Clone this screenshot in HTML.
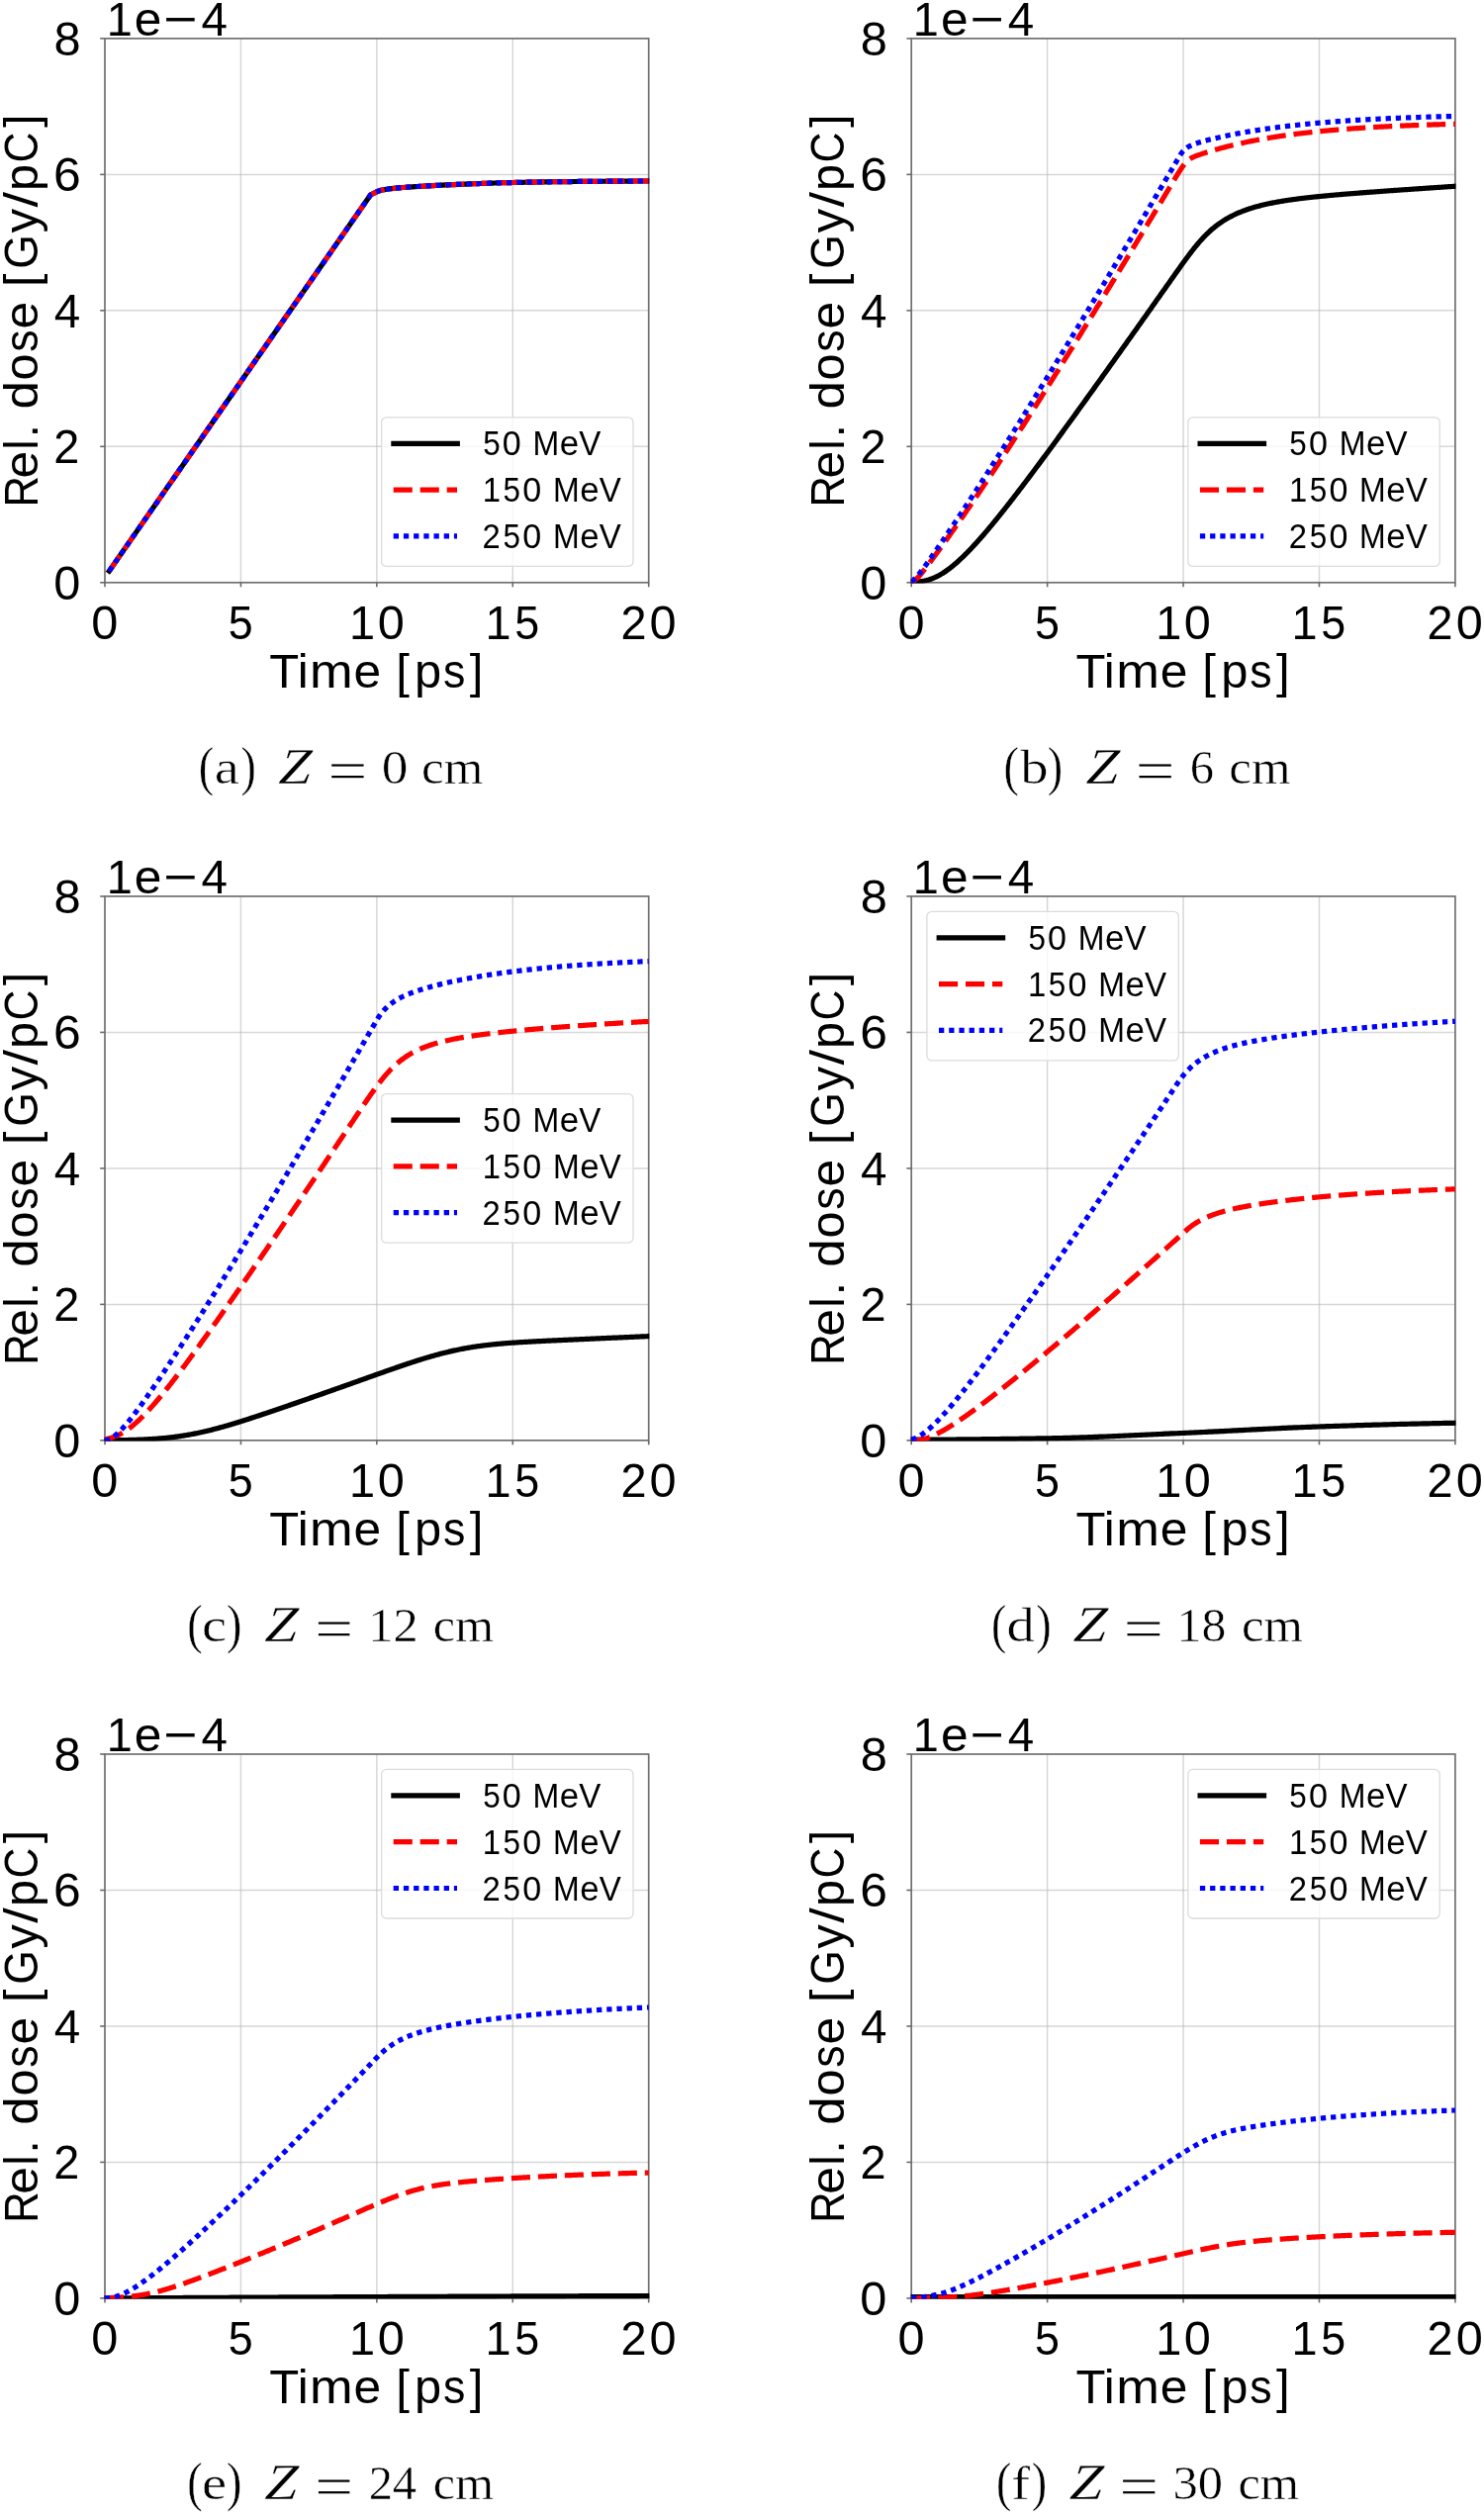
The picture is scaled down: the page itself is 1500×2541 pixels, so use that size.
<!DOCTYPE html>
<html><head><meta charset="utf-8"><style>html,body{margin:0;padding:0;background:#fff;}svg{display:block;will-change:transform;}</style></head><body>
<svg width="1500" height="2541" viewBox="0 0 1500 2541" font-family="Liberation Sans">
<rect width="1500" height="2541" fill="#ffffff"/>
<defs>
<clipPath id="clipa"><rect x="105.4" y="38.3" width="550.9" height="551.1"/></clipPath>
<clipPath id="clipb"><rect x="920.6" y="38.3" width="550.9" height="551.1"/></clipPath>
<clipPath id="clipc"><rect x="105.4" y="905.35" width="550.9" height="551.1"/></clipPath>
<clipPath id="clipd"><rect x="920.6" y="905.35" width="550.9" height="551.1"/></clipPath>
<clipPath id="clipe"><rect x="105.4" y="1772.4" width="550.9" height="551.1"/></clipPath>
<clipPath id="clipf"><rect x="920.6" y="1772.4" width="550.9" height="551.1"/></clipPath>
</defs>
<line x1="243.43" y1="38.9" x2="243.43" y2="588.8" stroke="#b0b0b0" stroke-opacity="0.5" stroke-width="1.5"/>
<line x1="380.85" y1="38.9" x2="380.85" y2="588.8" stroke="#b0b0b0" stroke-opacity="0.5" stroke-width="1.5"/>
<line x1="518.27" y1="38.9" x2="518.27" y2="588.8" stroke="#b0b0b0" stroke-opacity="0.5" stroke-width="1.5"/>
<line x1="106" y1="451.32" x2="655.7" y2="451.32" stroke="#b0b0b0" stroke-opacity="0.5" stroke-width="1.5"/>
<line x1="106" y1="313.85" x2="655.7" y2="313.85" stroke="#b0b0b0" stroke-opacity="0.5" stroke-width="1.5"/>
<line x1="106" y1="176.38" x2="655.7" y2="176.38" stroke="#b0b0b0" stroke-opacity="0.5" stroke-width="1.5"/>
<rect x="106" y="38.9" width="549.7" height="549.9" fill="none" stroke="#707070" stroke-width="1.7"/>
<line x1="106" y1="588.8" x2="106" y2="593.3" stroke="#6a6a6a" stroke-width="1.6"/>
<line x1="243.43" y1="588.8" x2="243.43" y2="593.3" stroke="#6a6a6a" stroke-width="1.6"/>
<line x1="380.85" y1="588.8" x2="380.85" y2="593.3" stroke="#6a6a6a" stroke-width="1.6"/>
<line x1="518.27" y1="588.8" x2="518.27" y2="593.3" stroke="#6a6a6a" stroke-width="1.6"/>
<line x1="655.7" y1="588.8" x2="655.7" y2="593.3" stroke="#6a6a6a" stroke-width="1.6"/>
<line x1="101.2" y1="588.8" x2="106" y2="588.8" stroke="#6a6a6a" stroke-width="1.6"/>
<line x1="101.2" y1="451.32" x2="106" y2="451.32" stroke="#6a6a6a" stroke-width="1.6"/>
<line x1="101.2" y1="313.85" x2="106" y2="313.85" stroke="#6a6a6a" stroke-width="1.6"/>
<line x1="101.2" y1="176.38" x2="106" y2="176.38" stroke="#6a6a6a" stroke-width="1.6"/>
<line x1="101.2" y1="38.9" x2="106" y2="38.9" stroke="#6a6a6a" stroke-width="1.6"/>
<path d="M110.40,577.11 L117.17,567.37 L123.94,557.62 L130.72,547.87 L137.49,538.13 L144.26,528.38 L151.03,518.63 L157.81,508.89 L164.58,499.14 L171.35,489.39 L178.12,479.65 L184.90,469.90 L191.67,460.16 L198.44,450.41 L205.21,440.66 L211.99,430.92 L218.76,421.17 L225.53,411.42 L232.30,401.68 L239.08,391.93 L245.85,382.18 L252.62,372.44 L259.39,362.69 L266.17,352.94 L272.94,343.20 L279.71,333.45 L286.48,323.70 L293.26,313.96 L300.03,304.21 L306.80,294.46 L313.58,284.72 L320.35,274.97 L327.12,265.22 L333.89,255.48 L340.67,245.73 L347.44,235.98 L354.21,226.24 L360.98,216.49 L367.76,206.74 L374.53,197.00 L376.89,195.78 L379.25,194.57 L381.62,193.47 L383.98,192.58 L386.34,191.98 L388.71,191.59 L391.07,191.23 L393.43,190.90 L395.79,190.60 L398.16,190.34 L400.52,190.09 L402.88,189.87 L405.24,189.66 L407.61,189.47 L409.97,189.30 L412.33,189.14 L414.70,188.98 L417.06,188.83 L419.42,188.68 L421.78,188.53 L424.15,188.38 L426.51,188.23 L428.87,188.08 L431.24,187.93 L433.60,187.80 L435.96,187.66 L438.32,187.53 L440.69,187.41 L443.05,187.29 L445.41,187.17 L447.77,187.06 L450.14,186.95 L452.50,186.84 L454.86,186.73 L457.23,186.63 L459.59,186.53 L461.95,186.43 L464.31,186.33 L466.68,186.23 L469.04,186.14 L471.40,186.04 L473.77,185.95 L476.13,185.85 L478.49,185.76 L480.85,185.67 L483.22,185.58 L485.58,185.49 L487.94,185.40 L490.30,185.32 L492.67,185.23 L495.03,185.15 L497.39,185.07 L499.76,184.99 L502.12,184.92 L504.48,184.84 L506.84,184.77 L509.21,184.71 L511.57,184.65 L513.93,184.59 L516.30,184.53 L518.66,184.48 L521.02,184.43 L523.38,184.38 L525.75,184.33 L528.11,184.28 L530.47,184.24 L532.84,184.19 L535.20,184.15 L537.56,184.11 L539.92,184.06 L542.29,184.02 L544.65,183.98 L547.01,183.94 L549.37,183.91 L551.74,183.87 L554.10,183.83 L556.46,183.80 L558.83,183.76 L561.19,183.73 L563.55,183.70 L565.91,183.67 L568.28,183.64 L570.64,183.61 L573.00,183.58 L575.37,183.56 L577.73,183.53 L580.09,183.50 L582.45,183.48 L584.82,183.46 L587.18,183.43 L589.54,183.41 L591.90,183.39 L594.27,183.37 L596.63,183.35 L598.99,183.33 L601.36,183.31 L603.72,183.28 L606.08,183.26 L608.44,183.24 L610.81,183.23 L613.17,183.21 L615.53,183.19 L617.90,183.17 L620.26,183.15 L622.62,183.14 L624.98,183.12 L627.35,183.10 L629.71,183.09 L632.07,183.07 L634.43,183.06 L636.80,183.05 L639.16,183.04 L641.52,183.02 L643.89,183.01 L646.25,183.00 L648.61,182.99 L650.97,182.99 L653.34,182.98 L655.70,182.97" fill="none" stroke="#000000" stroke-width="5.2" stroke-linecap="square" stroke-linejoin="round" clip-path="url(#clipa)"/>
<path d="M110.40,577.11 L117.17,567.37 L123.94,557.62 L130.72,547.87 L137.49,538.13 L144.26,528.38 L151.03,518.63 L157.81,508.89 L164.58,499.14 L171.35,489.39 L178.12,479.65 L184.90,469.90 L191.67,460.16 L198.44,450.41 L205.21,440.66 L211.99,430.92 L218.76,421.17 L225.53,411.42 L232.30,401.68 L239.08,391.93 L245.85,382.18 L252.62,372.44 L259.39,362.69 L266.17,352.94 L272.94,343.20 L279.71,333.45 L286.48,323.70 L293.26,313.96 L300.03,304.21 L306.80,294.46 L313.58,284.72 L320.35,274.97 L327.12,265.22 L333.89,255.48 L340.67,245.73 L347.44,235.98 L354.21,226.24 L360.98,216.49 L367.76,206.74 L374.53,197.00 L376.89,195.78 L379.25,194.57 L381.62,193.47 L383.98,192.58 L386.34,191.98 L388.71,191.59 L391.07,191.23 L393.43,190.90 L395.79,190.60 L398.16,190.34 L400.52,190.09 L402.88,189.87 L405.24,189.66 L407.61,189.47 L409.97,189.30 L412.33,189.14 L414.70,188.98 L417.06,188.83 L419.42,188.68 L421.78,188.53 L424.15,188.38 L426.51,188.23 L428.87,188.08 L431.24,187.93 L433.60,187.80 L435.96,187.66 L438.32,187.53 L440.69,187.41 L443.05,187.29 L445.41,187.17 L447.77,187.06 L450.14,186.95 L452.50,186.84 L454.86,186.73 L457.23,186.63 L459.59,186.53 L461.95,186.43 L464.31,186.33 L466.68,186.23 L469.04,186.14 L471.40,186.04 L473.77,185.95 L476.13,185.85 L478.49,185.76 L480.85,185.67 L483.22,185.58 L485.58,185.49 L487.94,185.40 L490.30,185.32 L492.67,185.23 L495.03,185.15 L497.39,185.07 L499.76,184.99 L502.12,184.92 L504.48,184.84 L506.84,184.77 L509.21,184.71 L511.57,184.65 L513.93,184.59 L516.30,184.53 L518.66,184.48 L521.02,184.43 L523.38,184.38 L525.75,184.33 L528.11,184.28 L530.47,184.24 L532.84,184.19 L535.20,184.15 L537.56,184.11 L539.92,184.06 L542.29,184.02 L544.65,183.98 L547.01,183.94 L549.37,183.91 L551.74,183.87 L554.10,183.83 L556.46,183.80 L558.83,183.76 L561.19,183.73 L563.55,183.70 L565.91,183.67 L568.28,183.64 L570.64,183.61 L573.00,183.58 L575.37,183.56 L577.73,183.53 L580.09,183.50 L582.45,183.48 L584.82,183.46 L587.18,183.43 L589.54,183.41 L591.90,183.39 L594.27,183.37 L596.63,183.35 L598.99,183.33 L601.36,183.31 L603.72,183.28 L606.08,183.26 L608.44,183.24 L610.81,183.23 L613.17,183.21 L615.53,183.19 L617.90,183.17 L620.26,183.15 L622.62,183.14 L624.98,183.12 L627.35,183.10 L629.71,183.09 L632.07,183.07 L634.43,183.06 L636.80,183.05 L639.16,183.04 L641.52,183.02 L643.89,183.01 L646.25,183.00 L648.61,182.99 L650.97,182.99 L653.34,182.98 L655.70,182.97" fill="none" stroke="#ff0000" stroke-width="5.2" stroke-dasharray="19.1,7.9" stroke-linecap="butt" stroke-linejoin="round" clip-path="url(#clipa)"/>
<path d="M110.40,577.11 L117.17,567.37 L123.94,557.62 L130.72,547.87 L137.49,538.13 L144.26,528.38 L151.03,518.63 L157.81,508.89 L164.58,499.14 L171.35,489.39 L178.12,479.65 L184.90,469.90 L191.67,460.16 L198.44,450.41 L205.21,440.66 L211.99,430.92 L218.76,421.17 L225.53,411.42 L232.30,401.68 L239.08,391.93 L245.85,382.18 L252.62,372.44 L259.39,362.69 L266.17,352.94 L272.94,343.20 L279.71,333.45 L286.48,323.70 L293.26,313.96 L300.03,304.21 L306.80,294.46 L313.58,284.72 L320.35,274.97 L327.12,265.22 L333.89,255.48 L340.67,245.73 L347.44,235.98 L354.21,226.24 L360.98,216.49 L367.76,206.74 L374.53,197.00 L376.89,195.78 L379.25,194.57 L381.62,193.47 L383.98,192.58 L386.34,191.98 L388.71,191.59 L391.07,191.23 L393.43,190.90 L395.79,190.60 L398.16,190.34 L400.52,190.09 L402.88,189.87 L405.24,189.66 L407.61,189.47 L409.97,189.30 L412.33,189.14 L414.70,188.98 L417.06,188.83 L419.42,188.68 L421.78,188.53 L424.15,188.38 L426.51,188.23 L428.87,188.08 L431.24,187.93 L433.60,187.80 L435.96,187.66 L438.32,187.53 L440.69,187.41 L443.05,187.29 L445.41,187.17 L447.77,187.06 L450.14,186.95 L452.50,186.84 L454.86,186.73 L457.23,186.63 L459.59,186.53 L461.95,186.43 L464.31,186.33 L466.68,186.23 L469.04,186.14 L471.40,186.04 L473.77,185.95 L476.13,185.85 L478.49,185.76 L480.85,185.67 L483.22,185.58 L485.58,185.49 L487.94,185.40 L490.30,185.32 L492.67,185.23 L495.03,185.15 L497.39,185.07 L499.76,184.99 L502.12,184.92 L504.48,184.84 L506.84,184.77 L509.21,184.71 L511.57,184.65 L513.93,184.59 L516.30,184.53 L518.66,184.48 L521.02,184.43 L523.38,184.38 L525.75,184.33 L528.11,184.28 L530.47,184.24 L532.84,184.19 L535.20,184.15 L537.56,184.11 L539.92,184.06 L542.29,184.02 L544.65,183.98 L547.01,183.94 L549.37,183.91 L551.74,183.87 L554.10,183.83 L556.46,183.80 L558.83,183.76 L561.19,183.73 L563.55,183.70 L565.91,183.67 L568.28,183.64 L570.64,183.61 L573.00,183.58 L575.37,183.56 L577.73,183.53 L580.09,183.50 L582.45,183.48 L584.82,183.46 L587.18,183.43 L589.54,183.41 L591.90,183.39 L594.27,183.37 L596.63,183.35 L598.99,183.33 L601.36,183.31 L603.72,183.28 L606.08,183.26 L608.44,183.24 L610.81,183.23 L613.17,183.21 L615.53,183.19 L617.90,183.17 L620.26,183.15 L622.62,183.14 L624.98,183.12 L627.35,183.10 L629.71,183.09 L632.07,183.07 L634.43,183.06 L636.80,183.05 L639.16,183.04 L641.52,183.02 L643.89,183.01 L646.25,183.00 L648.61,182.99 L650.97,182.99 L653.34,182.98 L655.70,182.97" fill="none" stroke="#0000ff" stroke-width="5.2" stroke-dasharray="5.3,4.9" stroke-linecap="butt" stroke-linejoin="round" clip-path="url(#clipa)"/>
<text transform="translate(92.22,645.9) scale(0.9978,1)" font-size="48.8">0</text>
<text transform="translate(230.72,645.9) scale(0.9196,1)" font-size="48.8">5</text>
<text transform="translate(352.98,645.9) scale(0.9610,1)" font-size="48.8">1</text>
<text transform="translate(381.64,645.9) scale(0.9978,1)" font-size="48.8">0</text>
<text transform="translate(490.41,645.9) scale(0.9610,1)" font-size="48.8">1</text>
<text transform="translate(520.14,645.9) scale(0.9196,1)" font-size="48.8">5</text>
<text transform="translate(627.41,645.9) scale(0.9596,1)" font-size="48.8">2</text>
<text transform="translate(656.49,645.9) scale(0.9978,1)" font-size="48.8">0</text>
<text transform="translate(54.14,605.8) scale(0.9978,1)" font-size="48.8">0</text>
<text transform="translate(54.21,468.32) scale(0.9596,1)" font-size="48.8">2</text>
<text transform="translate(54.68,330.85) scale(0.9760,1)" font-size="48.8">4</text>
<text transform="translate(54.06,193.38) scale(1.0208,1)" font-size="48.8">6</text>
<text transform="translate(54.6,55.9) scale(0.9991,1)" font-size="48.8">8</text>
<text transform="translate(107.65,35.7) scale(0.9610,1)" font-size="48.8">1</text>
<text transform="translate(135.81,35.7) scale(1.0191,1)" font-size="48.8">e</text>
<text transform="translate(165.35,35.7) scale(1.2075,1)" font-size="48.8">−</text>
<text transform="translate(203.45,35.7) scale(0.9760,1)" font-size="48.8">4</text>
<text transform="translate(272.32,695.3) scale(1.0050,1)" font-size="48.8">T</text>
<text transform="translate(300.64,695.3) scale(1.0084,1)" font-size="48.8">i</text>
<text transform="translate(313.07,695.3) scale(1.0733,1)" font-size="48.8">m</text>
<text transform="translate(357.56,695.3) scale(1.0191,1)" font-size="48.8">e</text>
<text transform="translate(400.13,695.3) scale(1.0084,1)" font-size="48.8">[</text>
<text transform="translate(419.1,695.3) scale(1.0004,1)" font-size="48.8">p</text>
<text transform="translate(447.94,695.3) scale(0.9173,1)" font-size="48.8">s</text>
<text transform="translate(474.85,695.3) scale(1.0084,1)" font-size="48.8">]</text>
<text transform="translate(37.5,509.1) rotate(-90) translate(-3.48,0) scale(0.8914,1)" font-size="48.8">R</text>
<text transform="translate(37.5,509.1) rotate(-90) translate(25.5,0) scale(1.0191,1)" font-size="48.8">e</text>
<text transform="translate(37.5,509.1) rotate(-90) translate(54.35,0) scale(0.9720,1)" font-size="48.8">l</text>
<text transform="translate(37.5,509.1) rotate(-90) translate(66.82,0) scale(0.9720,1)" font-size="48.8">.</text>
<text transform="translate(37.5,509.1) rotate(-90) translate(95.52,0) scale(1.0435,1)" font-size="48.8">d</text>
<text transform="translate(37.5,509.1) rotate(-90) translate(124.7,0) scale(0.9978,1)" font-size="48.8">o</text>
<text transform="translate(37.5,509.1) rotate(-90) translate(153.34,0) scale(0.9173,1)" font-size="48.8">s</text>
<text transform="translate(37.5,509.1) rotate(-90) translate(176.58,0) scale(1.0191,1)" font-size="48.8">e</text>
<text transform="translate(37.5,509.1) rotate(-90) translate(219.45,0) scale(0.9720,1)" font-size="48.8">[</text>
<text transform="translate(37.5,509.1) rotate(-90) translate(237.45,0) scale(0.9102,1)" font-size="48.8">G</text>
<text transform="translate(37.5,509.1) rotate(-90) translate(273.81,0) scale(0.9955,1)" font-size="48.8">y</text>
<text transform="translate(37.5,509.1) rotate(-90) translate(299.55,0) scale(1.1404,1)" font-size="48.8">/</text>
<text transform="translate(37.5,509.1) rotate(-90) translate(316.19,0) scale(1.0004,1)" font-size="48.8">p</text>
<text transform="translate(37.5,509.1) rotate(-90) translate(344.69,0) scale(0.8795,1)" font-size="48.8">C</text>
<text transform="translate(37.5,509.1) rotate(-90) translate(380.26,0) scale(0.9720,1)" font-size="48.8">]</text>
<rect x="385.6" y="421.8" width="254.4" height="150.6" rx="5" ry="5" fill="#ffffff" fill-opacity="0.8" stroke="#dcdcdc" stroke-width="1.3"/>
<line x1="397.9" y1="448.3" x2="462.3" y2="448.3" stroke="#000" stroke-width="5.2" stroke-linecap="square"/>
<text transform="translate(488.14,460.3) scale(0.9185,1)" font-size="34.2">5</text>
<text transform="translate(507.8,460.3) scale(0.9966,1)" font-size="34.2">0</text>
<text transform="translate(538.49,460.3) scale(0.9380,1)" font-size="34.2">M</text>
<text transform="translate(565.74,460.3) scale(1.0178,1)" font-size="34.2">e</text>
<text transform="translate(585.25,460.3) scale(0.9669,1)" font-size="34.2">V</text>
<line x1="397.7" y1="495.1" x2="462" y2="495.1" stroke="#ff0000" stroke-width="5.2" stroke-dasharray="19.1,7.9"/>
<text transform="translate(487.74,507.1) scale(0.9598,1)" font-size="34.2">1</text>
<text transform="translate(508.55,507.1) scale(0.9185,1)" font-size="34.2">5</text>
<text transform="translate(528.21,507.1) scale(0.9966,1)" font-size="34.2">0</text>
<text transform="translate(558.9,507.1) scale(0.9380,1)" font-size="34.2">M</text>
<text transform="translate(586.15,507.1) scale(1.0178,1)" font-size="34.2">e</text>
<text transform="translate(605.67,507.1) scale(0.9669,1)" font-size="34.2">V</text>
<line x1="397.7" y1="541.9" x2="462" y2="541.9" stroke="#0000ff" stroke-width="5.2" stroke-dasharray="5.3,4.9"/>
<text transform="translate(487.44,553.9) scale(0.9584,1)" font-size="34.2">2</text>
<text transform="translate(508.55,553.9) scale(0.9185,1)" font-size="34.2">5</text>
<text transform="translate(528.21,553.9) scale(0.9966,1)" font-size="34.2">0</text>
<text transform="translate(558.9,553.9) scale(0.9380,1)" font-size="34.2">M</text>
<text transform="translate(586.15,553.9) scale(1.0178,1)" font-size="34.2">e</text>
<text transform="translate(605.67,553.9) scale(0.9669,1)" font-size="34.2">V</text>
<text transform="translate(200.65,793) scale(0.9381,1.097)" font-family="Liberation Serif" font-size="49.2" stroke="#fff" stroke-width="0.4">(</text>
<text transform="translate(243.42,793) scale(0.9381,1.097)" font-family="Liberation Serif" font-size="49.2" stroke="#fff" stroke-width="0.4">)</text>
<text transform="translate(216.64,792) scale(1.15,1)" font-family="Liberation Serif" font-size="49.2" stroke="#fff" stroke-width="0.5">a</text>
<text transform="translate(281.02,792) skewX(-5.0) scale(1.1789,1.05)" font-family="Liberation Serif" font-style="italic" font-size="49.2" stroke="#fff" stroke-width="0.3">Z</text>
<rect x="335.2" y="772.4" width="32.4" height="2.2" fill="#000"/>
<rect x="335.2" y="784" width="32.4" height="2.2" fill="#000"/>
<text transform="translate(385.87,792) scale(1.0840,1)" font-family="Liberation Serif" font-size="49.2" stroke="#fff" stroke-width="0.5">0</text>
<text transform="translate(426.06,792) scale(1.0354,1)" font-family="Liberation Serif" font-size="49.2" stroke="#fff" stroke-width="0.5">cm</text>
<line x1="1058.62" y1="38.9" x2="1058.62" y2="588.8" stroke="#b0b0b0" stroke-opacity="0.5" stroke-width="1.5"/>
<line x1="1196.05" y1="38.9" x2="1196.05" y2="588.8" stroke="#b0b0b0" stroke-opacity="0.5" stroke-width="1.5"/>
<line x1="1333.47" y1="38.9" x2="1333.47" y2="588.8" stroke="#b0b0b0" stroke-opacity="0.5" stroke-width="1.5"/>
<line x1="921.2" y1="451.32" x2="1470.9" y2="451.32" stroke="#b0b0b0" stroke-opacity="0.5" stroke-width="1.5"/>
<line x1="921.2" y1="313.85" x2="1470.9" y2="313.85" stroke="#b0b0b0" stroke-opacity="0.5" stroke-width="1.5"/>
<line x1="921.2" y1="176.38" x2="1470.9" y2="176.38" stroke="#b0b0b0" stroke-opacity="0.5" stroke-width="1.5"/>
<rect x="921.2" y="38.9" width="549.7" height="549.9" fill="none" stroke="#707070" stroke-width="1.7"/>
<line x1="921.2" y1="588.8" x2="921.2" y2="593.3" stroke="#6a6a6a" stroke-width="1.6"/>
<line x1="1058.62" y1="588.8" x2="1058.62" y2="593.3" stroke="#6a6a6a" stroke-width="1.6"/>
<line x1="1196.05" y1="588.8" x2="1196.05" y2="593.3" stroke="#6a6a6a" stroke-width="1.6"/>
<line x1="1333.47" y1="588.8" x2="1333.47" y2="593.3" stroke="#6a6a6a" stroke-width="1.6"/>
<line x1="1470.9" y1="588.8" x2="1470.9" y2="593.3" stroke="#6a6a6a" stroke-width="1.6"/>
<line x1="916.4" y1="588.8" x2="921.2" y2="588.8" stroke="#6a6a6a" stroke-width="1.6"/>
<line x1="916.4" y1="451.32" x2="921.2" y2="451.32" stroke="#6a6a6a" stroke-width="1.6"/>
<line x1="916.4" y1="313.85" x2="921.2" y2="313.85" stroke="#6a6a6a" stroke-width="1.6"/>
<line x1="916.4" y1="176.38" x2="921.2" y2="176.38" stroke="#6a6a6a" stroke-width="1.6"/>
<line x1="916.4" y1="38.9" x2="921.2" y2="38.9" stroke="#6a6a6a" stroke-width="1.6"/>
<path d="M921.20,588.57 L922.30,588.52 L923.40,588.46 L924.50,588.39 L925.61,588.31 L926.71,588.22 L927.81,588.11 L928.91,587.98 L930.01,587.84 L931.11,587.68 L932.22,587.50 L933.32,587.29 L934.42,587.07 L935.52,586.82 L936.62,586.55 L937.72,586.25 L938.83,585.93 L939.93,585.58 L941.03,585.20 L942.13,584.80 L943.23,584.36 L944.33,583.90 L945.44,583.41 L946.54,582.89 L947.64,582.34 L948.74,581.77 L949.84,581.16 L950.94,580.53 L952.04,579.88 L953.15,579.19 L954.25,578.48 L955.35,577.75 L956.45,576.99 L957.55,576.21 L958.65,575.40 L959.76,574.57 L960.86,573.72 L961.96,572.85 L963.06,571.95 L964.16,571.04 L965.26,570.11 L966.37,569.16 L967.47,568.19 L968.57,567.20 L969.67,566.20 L970.77,565.18 L971.87,564.14 L972.98,563.09 L974.08,562.02 L975.18,560.94 L976.28,559.84 L977.38,558.73 L978.48,557.61 L979.58,556.48 L980.69,555.33 L981.79,554.17 L982.89,553.00 L983.99,551.81 L985.09,550.62 L986.19,549.41 L987.30,548.20 L988.40,546.98 L989.50,545.74 L990.60,544.50 L991.70,543.25 L992.80,541.99 L993.91,540.72 L995.01,539.44 L996.11,538.15 L997.21,536.86 L998.31,535.56 L999.41,534.25 L1000.52,532.94 L1001.62,531.62 L1002.72,530.29 L1003.82,528.95 L1004.92,527.61 L1006.02,526.27 L1007.13,524.91 L1008.23,523.56 L1009.33,522.19 L1010.43,520.82 L1011.53,519.45 L1012.63,518.07 L1013.73,516.69 L1014.84,515.30 L1015.94,513.91 L1017.04,512.51 L1018.14,511.11 L1019.24,509.70 L1020.34,508.30 L1021.45,506.88 L1022.55,505.47 L1023.65,504.04 L1024.75,502.62 L1025.85,501.19 L1026.95,499.76 L1028.06,498.33 L1029.16,496.89 L1030.26,495.45 L1031.36,494.01 L1032.46,492.56 L1033.56,491.11 L1034.67,489.66 L1035.77,488.21 L1036.87,486.75 L1037.97,485.29 L1039.07,483.83 L1040.17,482.37 L1041.27,480.90 L1042.38,479.43 L1043.48,477.96 L1044.58,476.49 L1045.68,475.01 L1046.78,473.54 L1047.88,472.06 L1048.99,470.58 L1050.09,469.09 L1051.19,467.61 L1052.29,466.12 L1053.39,464.64 L1054.49,463.15 L1055.60,461.66 L1056.70,460.17 L1057.80,458.67 L1058.90,457.18 L1060.00,455.68 L1061.10,454.18 L1062.21,452.68 L1063.31,451.18 L1064.41,449.68 L1065.51,448.18 L1066.61,446.67 L1067.71,445.17 L1068.81,443.66 L1069.92,442.15 L1071.02,440.64 L1072.12,439.13 L1073.22,437.62 L1074.32,436.11 L1075.42,434.59 L1076.53,433.08 L1077.63,431.56 L1078.73,430.05 L1079.83,428.53 L1080.93,427.01 L1082.03,425.49 L1083.14,423.97 L1084.24,422.45 L1085.34,420.93 L1086.44,419.41 L1087.54,417.88 L1088.64,416.36 L1089.75,414.84 L1090.85,413.31 L1091.95,411.78 L1093.05,410.26 L1094.15,408.73 L1095.25,407.20 L1096.35,405.67 L1097.46,404.14 L1098.56,402.61 L1099.66,401.08 L1100.76,399.55 L1101.86,398.02 L1102.96,396.48 L1104.07,394.95 L1105.17,393.41 L1106.27,391.88 L1107.37,390.34 L1108.47,388.81 L1109.57,387.27 L1110.68,385.73 L1111.78,384.20 L1112.88,382.66 L1113.98,381.12 L1115.08,379.58 L1116.18,378.04 L1117.29,376.50 L1118.39,374.96 L1119.49,373.42 L1120.59,371.88 L1121.69,370.33 L1122.79,368.79 L1123.89,367.25 L1125.00,365.70 L1126.10,364.16 L1127.20,362.61 L1128.30,361.07 L1129.40,359.52 L1130.50,357.98 L1131.61,356.43 L1132.71,354.88 L1133.81,353.34 L1134.91,351.79 L1136.01,350.24 L1137.11,348.69 L1138.22,347.14 L1139.32,345.59 L1140.42,344.04 L1141.52,342.49 L1142.62,340.94 L1143.72,339.39 L1144.83,337.84 L1145.93,336.29 L1147.03,334.74 L1148.13,333.18 L1149.23,331.63 L1150.33,330.08 L1151.44,328.52 L1152.54,326.97 L1153.64,325.41 L1154.74,323.86 L1155.84,322.30 L1156.94,320.75 L1158.04,319.19 L1159.15,317.64 L1160.25,316.08 L1161.35,314.52 L1162.45,312.96 L1163.55,311.41 L1164.65,309.85 L1165.76,308.29 L1166.86,306.73 L1167.96,305.17 L1169.06,303.61 L1170.16,302.05 L1171.26,300.49 L1172.37,298.93 L1173.47,297.37 L1174.57,295.81 L1175.67,294.25 L1176.77,292.69 L1177.87,291.13 L1178.98,289.56 L1180.08,288.00 L1181.18,286.44 L1182.28,284.88 L1183.38,283.32 L1184.48,281.76 L1185.58,280.20 L1186.69,278.64 L1187.79,277.09 L1188.89,275.53 L1189.99,273.98 L1191.09,272.43 L1192.19,270.89 L1193.30,269.35 L1194.40,267.81 L1195.50,266.28 L1196.60,264.76 L1197.70,263.25 L1198.80,261.74 L1199.91,260.25 L1201.01,258.77 L1202.11,257.30 L1203.21,255.85 L1204.31,254.41 L1205.41,253.00 L1206.52,251.60 L1207.62,250.21 L1208.72,248.86 L1209.82,247.52 L1210.92,246.21 L1212.02,244.92 L1213.12,243.66 L1214.23,242.42 L1215.33,241.21 L1216.43,240.03 L1217.53,238.88 L1218.63,237.75 L1219.73,236.65 L1220.84,235.58 L1221.94,234.54 L1223.04,233.53 L1224.14,232.54 L1225.24,231.58 L1226.34,230.65 L1227.45,229.74 L1228.55,228.86 L1229.65,228.01 L1230.75,227.17 L1231.85,226.37 L1232.95,225.58 L1234.06,224.82 L1235.16,224.08 L1236.26,223.37 L1237.36,222.67 L1238.46,221.99 L1239.56,221.33 L1240.66,220.70 L1241.77,220.08 L1242.87,219.47 L1243.97,218.89 L1245.07,218.32 L1246.17,217.76 L1247.27,217.23 L1248.38,216.70 L1249.48,216.19 L1250.58,215.70 L1251.68,215.22 L1252.78,214.75 L1253.88,214.30 L1254.99,213.85 L1256.09,213.42 L1257.19,213.00 L1258.29,212.60 L1259.39,212.20 L1260.49,211.81 L1261.60,211.44 L1262.70,211.07 L1263.80,210.71 L1264.90,210.36 L1266.00,210.02 L1267.10,209.69 L1268.21,209.37 L1269.31,209.05 L1270.41,208.75 L1271.51,208.45 L1272.61,208.15 L1273.71,207.87 L1274.81,207.59 L1275.92,207.32 L1277.02,207.05 L1278.12,206.79 L1279.22,206.54 L1280.32,206.29 L1281.42,206.05 L1282.53,205.81 L1283.63,205.58 L1284.73,205.35 L1285.83,205.13 L1286.93,204.92 L1288.03,204.70 L1289.14,204.50 L1290.24,204.29 L1291.34,204.09 L1292.44,203.90 L1293.54,203.70 L1294.64,203.52 L1295.75,203.33 L1296.85,203.15 L1297.95,202.97 L1299.05,202.80 L1300.15,202.63 L1301.25,202.46 L1302.35,202.30 L1303.46,202.13 L1304.56,201.98 L1305.66,201.82 L1306.76,201.67 L1307.86,201.51 L1308.96,201.37 L1310.07,201.22 L1311.17,201.07 L1312.27,200.93 L1313.37,200.79 L1314.47,200.65 L1315.57,200.52 L1316.68,200.39 L1317.78,200.25 L1318.88,200.12 L1319.98,200.00 L1321.08,199.87 L1322.18,199.74 L1323.29,199.62 L1324.39,199.50 L1325.49,199.38 L1326.59,199.26 L1327.69,199.14 L1328.79,199.03 L1329.89,198.91 L1331.00,198.80 L1332.10,198.69 L1333.20,198.58 L1334.30,198.47 L1335.40,198.36 L1336.50,198.25 L1337.61,198.14 L1338.71,198.04 L1339.81,197.93 L1340.91,197.83 L1342.01,197.73 L1343.11,197.62 L1344.22,197.52 L1345.32,197.42 L1346.42,197.32 L1347.52,197.23 L1348.62,197.13 L1349.72,197.03 L1350.83,196.94 L1351.93,196.84 L1353.03,196.75 L1354.13,196.65 L1355.23,196.56 L1356.33,196.46 L1357.43,196.37 L1358.54,196.28 L1359.64,196.19 L1360.74,196.10 L1361.84,196.01 L1362.94,195.92 L1364.04,195.83 L1365.15,195.74 L1366.25,195.65 L1367.35,195.57 L1368.45,195.48 L1369.55,195.39 L1370.65,195.31 L1371.76,195.22 L1372.86,195.13 L1373.96,195.05 L1375.06,194.96 L1376.16,194.88 L1377.26,194.79 L1378.37,194.71 L1379.47,194.63 L1380.57,194.54 L1381.67,194.46 L1382.77,194.38 L1383.87,194.30 L1384.97,194.21 L1386.08,194.13 L1387.18,194.05 L1388.28,193.97 L1389.38,193.89 L1390.48,193.81 L1391.58,193.73 L1392.69,193.65 L1393.79,193.57 L1394.89,193.49 L1395.99,193.41 L1397.09,193.33 L1398.19,193.25 L1399.30,193.17 L1400.40,193.09 L1401.50,193.01 L1402.60,192.93 L1403.70,192.85 L1404.80,192.77 L1405.91,192.70 L1407.01,192.62 L1408.11,192.54 L1409.21,192.46 L1410.31,192.39 L1411.41,192.31 L1412.52,192.23 L1413.62,192.15 L1414.72,192.08 L1415.82,192.00 L1416.92,191.92 L1418.02,191.85 L1419.12,191.77 L1420.23,191.69 L1421.33,191.62 L1422.43,191.54 L1423.53,191.47 L1424.63,191.39 L1425.73,191.31 L1426.84,191.24 L1427.94,191.16 L1429.04,191.09 L1430.14,191.01 L1431.24,190.94 L1432.34,190.86 L1433.45,190.79 L1434.55,190.71 L1435.65,190.63 L1436.75,190.56 L1437.85,190.49 L1438.95,190.41 L1440.06,190.34 L1441.16,190.26 L1442.26,190.19 L1443.36,190.11 L1444.46,190.04 L1445.56,189.96 L1446.66,189.89 L1447.77,189.81 L1448.87,189.74 L1449.97,189.67 L1451.07,189.59 L1452.17,189.52 L1453.27,189.44 L1454.38,189.37 L1455.48,189.30 L1456.58,189.22 L1457.68,189.15 L1458.78,189.08 L1459.88,189.00 L1460.99,188.93 L1462.09,188.86 L1463.19,188.78 L1464.29,188.71 L1465.39,188.64 L1466.49,188.56 L1467.60,188.49 L1468.70,188.42 L1469.80,188.34 L1470.90,188.27" fill="none" stroke="#000000" stroke-width="5.2" stroke-linecap="square" stroke-linejoin="round" clip-path="url(#clipb)"/>
<path d="M921.20,587.91 L922.30,587.50 L923.40,586.98 L924.50,586.32 L925.61,585.54 L926.71,584.62 L927.81,583.59 L928.91,582.45 L930.01,581.22 L931.11,579.91 L932.22,578.56 L933.32,577.17 L934.42,575.74 L935.52,574.30 L936.62,572.85 L937.72,571.38 L938.83,569.91 L939.93,568.43 L941.03,566.95 L942.13,565.46 L943.23,563.97 L944.33,562.48 L945.44,560.98 L946.54,559.47 L947.64,557.96 L948.74,556.45 L949.84,554.94 L950.94,553.42 L952.04,551.89 L953.15,550.37 L954.25,548.83 L955.35,547.30 L956.45,545.76 L957.55,544.22 L958.65,542.67 L959.76,541.12 L960.86,539.57 L961.96,538.02 L963.06,536.46 L964.16,534.89 L965.26,533.33 L966.37,531.76 L967.47,530.19 L968.57,528.61 L969.67,527.03 L970.77,525.45 L971.87,523.86 L972.98,522.27 L974.08,520.68 L975.18,519.09 L976.28,517.49 L977.38,515.89 L978.48,514.28 L979.58,512.68 L980.69,511.07 L981.79,509.46 L982.89,507.84 L983.99,506.22 L985.09,504.60 L986.19,502.98 L987.30,501.35 L988.40,499.72 L989.50,498.09 L990.60,496.46 L991.70,494.82 L992.80,493.18 L993.91,491.54 L995.01,489.90 L996.11,488.25 L997.21,486.60 L998.31,484.95 L999.41,483.30 L1000.52,481.64 L1001.62,479.98 L1002.72,478.32 L1003.82,476.66 L1004.92,474.99 L1006.02,473.33 L1007.13,471.66 L1008.23,469.98 L1009.33,468.31 L1010.43,466.63 L1011.53,464.95 L1012.63,463.27 L1013.73,461.59 L1014.84,459.91 L1015.94,458.22 L1017.04,456.53 L1018.14,454.84 L1019.24,453.15 L1020.34,451.46 L1021.45,449.76 L1022.55,448.06 L1023.65,446.36 L1024.75,444.66 L1025.85,442.96 L1026.95,441.25 L1028.06,439.54 L1029.16,437.83 L1030.26,436.12 L1031.36,434.41 L1032.46,432.70 L1033.56,430.98 L1034.67,429.26 L1035.77,427.54 L1036.87,425.82 L1037.97,424.10 L1039.07,422.38 L1040.17,420.65 L1041.27,418.92 L1042.38,417.20 L1043.48,415.47 L1044.58,413.73 L1045.68,412.00 L1046.78,410.27 L1047.88,408.53 L1048.99,406.79 L1050.09,405.05 L1051.19,403.31 L1052.29,401.57 L1053.39,399.83 L1054.49,398.08 L1055.60,396.34 L1056.70,394.59 L1057.80,392.84 L1058.90,391.09 L1060.00,389.34 L1061.10,387.59 L1062.21,385.83 L1063.31,384.08 L1064.41,382.32 L1065.51,380.56 L1066.61,378.81 L1067.71,377.05 L1068.81,375.28 L1069.92,373.52 L1071.02,371.76 L1072.12,369.99 L1073.22,368.23 L1074.32,366.46 L1075.42,364.69 L1076.53,362.93 L1077.63,361.15 L1078.73,359.38 L1079.83,357.61 L1080.93,355.84 L1082.03,354.06 L1083.14,352.29 L1084.24,350.51 L1085.34,348.73 L1086.44,346.96 L1087.54,345.18 L1088.64,343.40 L1089.75,341.62 L1090.85,339.83 L1091.95,338.05 L1093.05,336.27 L1094.15,334.48 L1095.25,332.70 L1096.35,330.91 L1097.46,329.12 L1098.56,327.33 L1099.66,325.54 L1100.76,323.75 L1101.86,321.96 L1102.96,320.17 L1104.07,318.38 L1105.17,316.58 L1106.27,314.79 L1107.37,312.99 L1108.47,311.20 L1109.57,309.40 L1110.68,307.60 L1111.78,305.80 L1112.88,304.00 L1113.98,302.20 L1115.08,300.40 L1116.18,298.60 L1117.29,296.80 L1118.39,295.00 L1119.49,293.19 L1120.59,291.39 L1121.69,289.59 L1122.79,287.78 L1123.89,285.97 L1125.00,284.17 L1126.10,282.36 L1127.20,280.55 L1128.30,278.74 L1129.40,276.93 L1130.50,275.12 L1131.61,273.31 L1132.71,271.50 L1133.81,269.69 L1134.91,267.87 L1136.01,266.06 L1137.11,264.25 L1138.22,262.43 L1139.32,260.62 L1140.42,258.80 L1141.52,256.99 L1142.62,255.17 L1143.72,253.35 L1144.83,251.53 L1145.93,249.71 L1147.03,247.90 L1148.13,246.08 L1149.23,244.26 L1150.33,242.44 L1151.44,240.61 L1152.54,238.79 L1153.64,236.97 L1154.74,235.15 L1155.84,233.32 L1156.94,231.50 L1158.04,229.68 L1159.15,227.85 L1160.25,226.03 L1161.35,224.20 L1162.45,222.38 L1163.55,220.55 L1164.65,218.72 L1165.76,216.90 L1166.86,215.07 L1167.96,213.24 L1169.06,211.41 L1170.16,209.58 L1171.26,207.75 L1172.37,205.92 L1173.47,204.09 L1174.57,202.26 L1175.67,200.43 L1176.77,198.60 L1177.87,196.77 L1178.98,194.93 L1180.08,193.10 L1181.18,191.27 L1182.28,189.44 L1183.38,187.60 L1184.48,185.77 L1185.58,183.94 L1186.69,182.11 L1187.79,180.28 L1188.89,178.46 L1189.99,176.65 L1191.09,174.86 L1192.19,173.10 L1193.30,171.38 L1194.40,169.72 L1195.50,168.14 L1196.60,166.65 L1197.70,165.27 L1198.80,164.02 L1199.91,162.90 L1201.01,161.92 L1202.11,161.05 L1203.21,160.30 L1204.31,159.65 L1205.41,159.08 L1206.52,158.57 L1207.62,158.10 L1208.72,157.67 L1209.82,157.26 L1210.92,156.87 L1212.02,156.49 L1213.12,156.11 L1214.23,155.75 L1215.33,155.38 L1216.43,155.02 L1217.53,154.67 L1218.63,154.32 L1219.73,153.97 L1220.84,153.63 L1221.94,153.29 L1223.04,152.96 L1224.14,152.63 L1225.24,152.30 L1226.34,151.97 L1227.45,151.65 L1228.55,151.34 L1229.65,151.02 L1230.75,150.71 L1231.85,150.41 L1232.95,150.10 L1234.06,149.80 L1235.16,149.51 L1236.26,149.21 L1237.36,148.92 L1238.46,148.64 L1239.56,148.35 L1240.66,148.07 L1241.77,147.79 L1242.87,147.52 L1243.97,147.25 L1245.07,146.98 L1246.17,146.71 L1247.27,146.45 L1248.38,146.19 L1249.48,145.93 L1250.58,145.68 L1251.68,145.43 L1252.78,145.18 L1253.88,144.94 L1254.99,144.69 L1256.09,144.45 L1257.19,144.21 L1258.29,143.98 L1259.39,143.75 L1260.49,143.52 L1261.60,143.29 L1262.70,143.06 L1263.80,142.84 L1264.90,142.62 L1266.00,142.40 L1267.10,142.19 L1268.21,141.98 L1269.31,141.77 L1270.41,141.56 L1271.51,141.35 L1272.61,141.15 L1273.71,140.95 L1274.81,140.75 L1275.92,140.55 L1277.02,140.36 L1278.12,140.16 L1279.22,139.97 L1280.32,139.78 L1281.42,139.60 L1282.53,139.41 L1283.63,139.23 L1284.73,139.05 L1285.83,138.87 L1286.93,138.70 L1288.03,138.52 L1289.14,138.35 L1290.24,138.18 L1291.34,138.01 L1292.44,137.84 L1293.54,137.68 L1294.64,137.52 L1295.75,137.35 L1296.85,137.20 L1297.95,137.04 L1299.05,136.88 L1300.15,136.73 L1301.25,136.57 L1302.35,136.42 L1303.46,136.27 L1304.56,136.13 L1305.66,135.98 L1306.76,135.84 L1307.86,135.69 L1308.96,135.55 L1310.07,135.41 L1311.17,135.27 L1312.27,135.14 L1313.37,135.00 L1314.47,134.87 L1315.57,134.74 L1316.68,134.61 L1317.78,134.48 L1318.88,134.35 L1319.98,134.22 L1321.08,134.10 L1322.18,133.97 L1323.29,133.85 L1324.39,133.73 L1325.49,133.61 L1326.59,133.49 L1327.69,133.37 L1328.79,133.26 L1329.89,133.14 L1331.00,133.03 L1332.10,132.92 L1333.20,132.81 L1334.30,132.70 L1335.40,132.59 L1336.50,132.48 L1337.61,132.38 L1338.71,132.27 L1339.81,132.17 L1340.91,132.07 L1342.01,131.97 L1343.11,131.87 L1344.22,131.77 L1345.32,131.67 L1346.42,131.57 L1347.52,131.48 L1348.62,131.38 L1349.72,131.29 L1350.83,131.19 L1351.93,131.10 L1353.03,131.01 L1354.13,130.92 L1355.23,130.83 L1356.33,130.75 L1357.43,130.66 L1358.54,130.57 L1359.64,130.49 L1360.74,130.40 L1361.84,130.32 L1362.94,130.24 L1364.04,130.16 L1365.15,130.08 L1366.25,130.00 L1367.35,129.92 L1368.45,129.84 L1369.55,129.76 L1370.65,129.69 L1371.76,129.61 L1372.86,129.54 L1373.96,129.47 L1375.06,129.39 L1376.16,129.32 L1377.26,129.25 L1378.37,129.18 L1379.47,129.11 L1380.57,129.04 L1381.67,128.97 L1382.77,128.91 L1383.87,128.84 L1384.97,128.77 L1386.08,128.71 L1387.18,128.64 L1388.28,128.58 L1389.38,128.52 L1390.48,128.46 L1391.58,128.39 L1392.69,128.33 L1393.79,128.27 L1394.89,128.21 L1395.99,128.15 L1397.09,128.10 L1398.19,128.04 L1399.30,127.98 L1400.40,127.92 L1401.50,127.87 L1402.60,127.81 L1403.70,127.76 L1404.80,127.71 L1405.91,127.65 L1407.01,127.60 L1408.11,127.55 L1409.21,127.50 L1410.31,127.44 L1411.41,127.39 L1412.52,127.34 L1413.62,127.30 L1414.72,127.25 L1415.82,127.20 L1416.92,127.15 L1418.02,127.10 L1419.12,127.06 L1420.23,127.01 L1421.33,126.96 L1422.43,126.92 L1423.53,126.87 L1424.63,126.83 L1425.73,126.79 L1426.84,126.74 L1427.94,126.70 L1429.04,126.66 L1430.14,126.62 L1431.24,126.58 L1432.34,126.53 L1433.45,126.49 L1434.55,126.45 L1435.65,126.41 L1436.75,126.38 L1437.85,126.34 L1438.95,126.30 L1440.06,126.26 L1441.16,126.22 L1442.26,126.19 L1443.36,126.15 L1444.46,126.11 L1445.56,126.08 L1446.66,126.04 L1447.77,126.01 L1448.87,125.97 L1449.97,125.94 L1451.07,125.90 L1452.17,125.87 L1453.27,125.84 L1454.38,125.81 L1455.48,125.77 L1456.58,125.74 L1457.68,125.71 L1458.78,125.68 L1459.88,125.65 L1460.99,125.62 L1462.09,125.59 L1463.19,125.56 L1464.29,125.53 L1465.39,125.50 L1466.49,125.47 L1467.60,125.44 L1468.70,125.41 L1469.80,125.38 L1470.90,125.35" fill="none" stroke="#ff0000" stroke-width="5.2" stroke-dasharray="19.1,7.9" stroke-linecap="butt" stroke-linejoin="round" clip-path="url(#clipb)"/>
<path d="M921.20,587.86 L922.30,587.11 L923.40,586.20 L924.50,585.16 L925.61,584.03 L926.71,582.81 L927.81,581.52 L928.91,580.18 L930.01,578.79 L931.11,577.37 L932.22,575.92 L933.32,574.45 L934.42,572.95 L935.52,571.43 L936.62,569.91 L937.72,568.37 L938.83,566.82 L939.93,565.26 L941.03,563.69 L942.13,562.11 L943.23,560.53 L944.33,558.95 L945.44,557.36 L946.54,555.76 L947.64,554.16 L948.74,552.56 L949.84,550.95 L950.94,549.34 L952.04,547.72 L953.15,546.11 L954.25,544.48 L955.35,542.86 L956.45,541.23 L957.55,539.60 L958.65,537.97 L959.76,536.33 L960.86,534.69 L961.96,533.05 L963.06,531.41 L964.16,529.76 L965.26,528.11 L966.37,526.46 L967.47,524.81 L968.57,523.15 L969.67,521.49 L970.77,519.83 L971.87,518.16 L972.98,516.49 L974.08,514.82 L975.18,513.15 L976.28,511.48 L977.38,509.80 L978.48,508.12 L979.58,506.44 L980.69,504.76 L981.79,503.07 L982.89,501.39 L983.99,499.70 L985.09,498.00 L986.19,496.31 L987.30,494.61 L988.40,492.92 L989.50,491.21 L990.60,489.51 L991.70,487.81 L992.80,486.10 L993.91,484.39 L995.01,482.68 L996.11,480.97 L997.21,479.26 L998.31,477.54 L999.41,475.82 L1000.52,474.10 L1001.62,472.38 L1002.72,470.66 L1003.82,468.93 L1004.92,467.20 L1006.02,465.48 L1007.13,463.74 L1008.23,462.01 L1009.33,460.28 L1010.43,458.54 L1011.53,456.81 L1012.63,455.07 L1013.73,453.33 L1014.84,451.58 L1015.94,449.84 L1017.04,448.09 L1018.14,446.35 L1019.24,444.60 L1020.34,442.85 L1021.45,441.10 L1022.55,439.34 L1023.65,437.59 L1024.75,435.83 L1025.85,434.07 L1026.95,432.31 L1028.06,430.55 L1029.16,428.79 L1030.26,427.03 L1031.36,425.26 L1032.46,423.50 L1033.56,421.73 L1034.67,419.96 L1035.77,418.19 L1036.87,416.42 L1037.97,414.64 L1039.07,412.87 L1040.17,411.09 L1041.27,409.32 L1042.38,407.54 L1043.48,405.76 L1044.58,403.98 L1045.68,402.20 L1046.78,400.42 L1047.88,398.63 L1048.99,396.85 L1050.09,395.06 L1051.19,393.27 L1052.29,391.48 L1053.39,389.69 L1054.49,387.90 L1055.60,386.11 L1056.70,384.32 L1057.80,382.52 L1058.90,380.73 L1060.00,378.93 L1061.10,377.13 L1062.21,375.33 L1063.31,373.53 L1064.41,371.73 L1065.51,369.93 L1066.61,368.13 L1067.71,366.32 L1068.81,364.52 L1069.92,362.71 L1071.02,360.91 L1072.12,359.10 L1073.22,357.29 L1074.32,355.48 L1075.42,353.67 L1076.53,351.86 L1077.63,350.05 L1078.73,348.24 L1079.83,346.42 L1080.93,344.61 L1082.03,342.79 L1083.14,340.97 L1084.24,339.16 L1085.34,337.34 L1086.44,335.52 L1087.54,333.70 L1088.64,331.88 L1089.75,330.06 L1090.85,328.24 L1091.95,326.41 L1093.05,324.59 L1094.15,322.76 L1095.25,320.94 L1096.35,319.11 L1097.46,317.28 L1098.56,315.46 L1099.66,313.63 L1100.76,311.80 L1101.86,309.97 L1102.96,308.14 L1104.07,306.31 L1105.17,304.48 L1106.27,302.64 L1107.37,300.81 L1108.47,298.98 L1109.57,297.14 L1110.68,295.31 L1111.78,293.47 L1112.88,291.63 L1113.98,289.80 L1115.08,287.96 L1116.18,286.12 L1117.29,284.28 L1118.39,282.44 L1119.49,280.60 L1120.59,278.76 L1121.69,276.92 L1122.79,275.07 L1123.89,273.23 L1125.00,271.39 L1126.10,269.54 L1127.20,267.70 L1128.30,265.85 L1129.40,264.01 L1130.50,262.16 L1131.61,260.32 L1132.71,258.47 L1133.81,256.62 L1134.91,254.77 L1136.01,252.92 L1137.11,251.07 L1138.22,249.22 L1139.32,247.37 L1140.42,245.52 L1141.52,243.67 L1142.62,241.82 L1143.72,239.97 L1144.83,238.11 L1145.93,236.26 L1147.03,234.41 L1148.13,232.55 L1149.23,230.70 L1150.33,228.84 L1151.44,226.99 L1152.54,225.13 L1153.64,223.27 L1154.74,221.42 L1155.84,219.56 L1156.94,217.70 L1158.04,215.84 L1159.15,213.98 L1160.25,212.12 L1161.35,210.27 L1162.45,208.41 L1163.55,206.54 L1164.65,204.68 L1165.76,202.82 L1166.86,200.96 L1167.96,199.10 L1169.06,197.24 L1170.16,195.37 L1171.26,193.51 L1172.37,191.65 L1173.47,189.78 L1174.57,187.92 L1175.67,186.06 L1176.77,184.19 L1177.87,182.32 L1178.98,180.46 L1180.08,178.59 L1181.18,176.73 L1182.28,174.86 L1183.38,172.99 L1184.48,171.13 L1185.58,169.26 L1186.69,167.39 L1187.79,165.52 L1188.89,163.65 L1189.99,161.78 L1191.09,159.92 L1192.19,158.05 L1193.30,156.18 L1194.40,154.50 L1195.50,153.07 L1196.60,151.86 L1197.70,150.83 L1198.80,149.93 L1199.91,149.15 L1201.01,148.45 L1202.11,147.84 L1203.21,147.28 L1204.31,146.77 L1205.41,146.30 L1206.52,145.86 L1207.62,145.45 L1208.72,145.07 L1209.82,144.70 L1210.92,144.35 L1212.02,144.01 L1213.12,143.68 L1214.23,143.36 L1215.33,143.05 L1216.43,142.74 L1217.53,142.44 L1218.63,142.15 L1219.73,141.86 L1220.84,141.58 L1221.94,141.30 L1223.04,141.02 L1224.14,140.75 L1225.24,140.48 L1226.34,140.22 L1227.45,139.96 L1228.55,139.70 L1229.65,139.44 L1230.75,139.19 L1231.85,138.94 L1232.95,138.69 L1234.06,138.45 L1235.16,138.21 L1236.26,137.97 L1237.36,137.73 L1238.46,137.50 L1239.56,137.27 L1240.66,137.04 L1241.77,136.81 L1242.87,136.58 L1243.97,136.36 L1245.07,136.14 L1246.17,135.92 L1247.27,135.71 L1248.38,135.49 L1249.48,135.28 L1250.58,135.07 L1251.68,134.87 L1252.78,134.66 L1253.88,134.46 L1254.99,134.26 L1256.09,134.06 L1257.19,133.86 L1258.29,133.67 L1259.39,133.48 L1260.49,133.28 L1261.60,133.10 L1262.70,132.91 L1263.80,132.72 L1264.90,132.54 L1266.00,132.36 L1267.10,132.18 L1268.21,132.00 L1269.31,131.83 L1270.41,131.66 L1271.51,131.48 L1272.61,131.31 L1273.71,131.14 L1274.81,130.98 L1275.92,130.81 L1277.02,130.65 L1278.12,130.49 L1279.22,130.33 L1280.32,130.17 L1281.42,130.01 L1282.53,129.86 L1283.63,129.70 L1284.73,129.55 L1285.83,129.40 L1286.93,129.25 L1288.03,129.11 L1289.14,128.96 L1290.24,128.82 L1291.34,128.67 L1292.44,128.53 L1293.54,128.39 L1294.64,128.25 L1295.75,128.12 L1296.85,127.98 L1297.95,127.85 L1299.05,127.71 L1300.15,127.58 L1301.25,127.45 L1302.35,127.32 L1303.46,127.20 L1304.56,127.07 L1305.66,126.95 L1306.76,126.82 L1307.86,126.70 L1308.96,126.58 L1310.07,126.46 L1311.17,126.34 L1312.27,126.22 L1313.37,126.11 L1314.47,125.99 L1315.57,125.88 L1316.68,125.76 L1317.78,125.65 L1318.88,125.54 L1319.98,125.43 L1321.08,125.33 L1322.18,125.22 L1323.29,125.11 L1324.39,125.01 L1325.49,124.90 L1326.59,124.80 L1327.69,124.70 L1328.79,124.60 L1329.89,124.50 L1331.00,124.40 L1332.10,124.30 L1333.20,124.21 L1334.30,124.11 L1335.40,124.02 L1336.50,123.92 L1337.61,123.83 L1338.71,123.74 L1339.81,123.65 L1340.91,123.56 L1342.01,123.47 L1343.11,123.38 L1344.22,123.29 L1345.32,123.21 L1346.42,123.12 L1347.52,123.04 L1348.62,122.96 L1349.72,122.87 L1350.83,122.79 L1351.93,122.71 L1353.03,122.63 L1354.13,122.55 L1355.23,122.47 L1356.33,122.39 L1357.43,122.32 L1358.54,122.24 L1359.64,122.17 L1360.74,122.09 L1361.84,122.02 L1362.94,121.94 L1364.04,121.87 L1365.15,121.80 L1366.25,121.73 L1367.35,121.66 L1368.45,121.59 L1369.55,121.52 L1370.65,121.45 L1371.76,121.39 L1372.86,121.32 L1373.96,121.25 L1375.06,121.19 L1376.16,121.12 L1377.26,121.06 L1378.37,121.00 L1379.47,120.93 L1380.57,120.87 L1381.67,120.81 L1382.77,120.75 L1383.87,120.69 L1384.97,120.63 L1386.08,120.57 L1387.18,120.51 L1388.28,120.46 L1389.38,120.40 L1390.48,120.34 L1391.58,120.29 L1392.69,120.23 L1393.79,120.18 L1394.89,120.12 L1395.99,120.07 L1397.09,120.02 L1398.19,119.96 L1399.30,119.91 L1400.40,119.86 L1401.50,119.81 L1402.60,119.76 L1403.70,119.71 L1404.80,119.66 L1405.91,119.61 L1407.01,119.56 L1408.11,119.51 L1409.21,119.47 L1410.31,119.42 L1411.41,119.37 L1412.52,119.33 L1413.62,119.28 L1414.72,119.24 L1415.82,119.19 L1416.92,119.15 L1418.02,119.10 L1419.12,119.06 L1420.23,119.02 L1421.33,118.98 L1422.43,118.93 L1423.53,118.89 L1424.63,118.85 L1425.73,118.81 L1426.84,118.77 L1427.94,118.73 L1429.04,118.69 L1430.14,118.65 L1431.24,118.61 L1432.34,118.58 L1433.45,118.54 L1434.55,118.50 L1435.65,118.46 L1436.75,118.43 L1437.85,118.39 L1438.95,118.36 L1440.06,118.32 L1441.16,118.28 L1442.26,118.25 L1443.36,118.22 L1444.46,118.18 L1445.56,118.15 L1446.66,118.11 L1447.77,118.08 L1448.87,118.05 L1449.97,118.02 L1451.07,117.98 L1452.17,117.95 L1453.27,117.92 L1454.38,117.89 L1455.48,117.86 L1456.58,117.83 L1457.68,117.80 L1458.78,117.77 L1459.88,117.74 L1460.99,117.71 L1462.09,117.68 L1463.19,117.65 L1464.29,117.62 L1465.39,117.60 L1466.49,117.57 L1467.60,117.54 L1468.70,117.51 L1469.80,117.49 L1470.90,117.46" fill="none" stroke="#0000ff" stroke-width="5.2" stroke-dasharray="5.3,4.9" stroke-linecap="butt" stroke-linejoin="round" clip-path="url(#clipb)"/>
<text transform="translate(907.42,645.9) scale(0.9978,1)" font-size="48.8">0</text>
<text transform="translate(1045.92,645.9) scale(0.9196,1)" font-size="48.8">5</text>
<text transform="translate(1168.18,645.9) scale(0.9610,1)" font-size="48.8">1</text>
<text transform="translate(1196.84,645.9) scale(0.9978,1)" font-size="48.8">0</text>
<text transform="translate(1305.61,645.9) scale(0.9610,1)" font-size="48.8">1</text>
<text transform="translate(1335.34,645.9) scale(0.9196,1)" font-size="48.8">5</text>
<text transform="translate(1442.61,645.9) scale(0.9596,1)" font-size="48.8">2</text>
<text transform="translate(1471.69,645.9) scale(0.9978,1)" font-size="48.8">0</text>
<text transform="translate(869.34,605.8) scale(0.9978,1)" font-size="48.8">0</text>
<text transform="translate(869.41,468.32) scale(0.9596,1)" font-size="48.8">2</text>
<text transform="translate(869.88,330.85) scale(0.9760,1)" font-size="48.8">4</text>
<text transform="translate(869.26,193.38) scale(1.0208,1)" font-size="48.8">6</text>
<text transform="translate(869.8,55.9) scale(0.9991,1)" font-size="48.8">8</text>
<text transform="translate(922.85,35.7) scale(0.9610,1)" font-size="48.8">1</text>
<text transform="translate(951.01,35.7) scale(1.0191,1)" font-size="48.8">e</text>
<text transform="translate(980.55,35.7) scale(1.2075,1)" font-size="48.8">−</text>
<text transform="translate(1018.65,35.7) scale(0.9760,1)" font-size="48.8">4</text>
<text transform="translate(1087.52,695.3) scale(1.0050,1)" font-size="48.8">T</text>
<text transform="translate(1115.84,695.3) scale(1.0084,1)" font-size="48.8">i</text>
<text transform="translate(1128.27,695.3) scale(1.0733,1)" font-size="48.8">m</text>
<text transform="translate(1172.76,695.3) scale(1.0191,1)" font-size="48.8">e</text>
<text transform="translate(1215.33,695.3) scale(1.0084,1)" font-size="48.8">[</text>
<text transform="translate(1234.3,695.3) scale(1.0004,1)" font-size="48.8">p</text>
<text transform="translate(1263.14,695.3) scale(0.9173,1)" font-size="48.8">s</text>
<text transform="translate(1290.05,695.3) scale(1.0084,1)" font-size="48.8">]</text>
<text transform="translate(852.7,509.1) rotate(-90) translate(-3.48,0) scale(0.8914,1)" font-size="48.8">R</text>
<text transform="translate(852.7,509.1) rotate(-90) translate(25.5,0) scale(1.0191,1)" font-size="48.8">e</text>
<text transform="translate(852.7,509.1) rotate(-90) translate(54.35,0) scale(0.9720,1)" font-size="48.8">l</text>
<text transform="translate(852.7,509.1) rotate(-90) translate(66.82,0) scale(0.9720,1)" font-size="48.8">.</text>
<text transform="translate(852.7,509.1) rotate(-90) translate(95.52,0) scale(1.0435,1)" font-size="48.8">d</text>
<text transform="translate(852.7,509.1) rotate(-90) translate(124.7,0) scale(0.9978,1)" font-size="48.8">o</text>
<text transform="translate(852.7,509.1) rotate(-90) translate(153.34,0) scale(0.9173,1)" font-size="48.8">s</text>
<text transform="translate(852.7,509.1) rotate(-90) translate(176.58,0) scale(1.0191,1)" font-size="48.8">e</text>
<text transform="translate(852.7,509.1) rotate(-90) translate(219.45,0) scale(0.9720,1)" font-size="48.8">[</text>
<text transform="translate(852.7,509.1) rotate(-90) translate(237.45,0) scale(0.9102,1)" font-size="48.8">G</text>
<text transform="translate(852.7,509.1) rotate(-90) translate(273.81,0) scale(0.9955,1)" font-size="48.8">y</text>
<text transform="translate(852.7,509.1) rotate(-90) translate(299.55,0) scale(1.1404,1)" font-size="48.8">/</text>
<text transform="translate(852.7,509.1) rotate(-90) translate(316.19,0) scale(1.0004,1)" font-size="48.8">p</text>
<text transform="translate(852.7,509.1) rotate(-90) translate(344.69,0) scale(0.8795,1)" font-size="48.8">C</text>
<text transform="translate(852.7,509.1) rotate(-90) translate(380.26,0) scale(0.9720,1)" font-size="48.8">]</text>
<rect x="1200.8" y="421.8" width="254.4" height="150.6" rx="5" ry="5" fill="#ffffff" fill-opacity="0.8" stroke="#dcdcdc" stroke-width="1.3"/>
<line x1="1213.1" y1="448.3" x2="1277.5" y2="448.3" stroke="#000" stroke-width="5.2" stroke-linecap="square"/>
<text transform="translate(1303.34,460.3) scale(0.9185,1)" font-size="34.2">5</text>
<text transform="translate(1323,460.3) scale(0.9966,1)" font-size="34.2">0</text>
<text transform="translate(1353.69,460.3) scale(0.9380,1)" font-size="34.2">M</text>
<text transform="translate(1380.94,460.3) scale(1.0178,1)" font-size="34.2">e</text>
<text transform="translate(1400.45,460.3) scale(0.9669,1)" font-size="34.2">V</text>
<line x1="1212.9" y1="495.1" x2="1277.2" y2="495.1" stroke="#ff0000" stroke-width="5.2" stroke-dasharray="19.1,7.9"/>
<text transform="translate(1302.94,507.1) scale(0.9598,1)" font-size="34.2">1</text>
<text transform="translate(1323.75,507.1) scale(0.9185,1)" font-size="34.2">5</text>
<text transform="translate(1343.41,507.1) scale(0.9966,1)" font-size="34.2">0</text>
<text transform="translate(1374.1,507.1) scale(0.9380,1)" font-size="34.2">M</text>
<text transform="translate(1401.35,507.1) scale(1.0178,1)" font-size="34.2">e</text>
<text transform="translate(1420.87,507.1) scale(0.9669,1)" font-size="34.2">V</text>
<line x1="1212.9" y1="541.9" x2="1277.2" y2="541.9" stroke="#0000ff" stroke-width="5.2" stroke-dasharray="5.3,4.9"/>
<text transform="translate(1302.64,553.9) scale(0.9584,1)" font-size="34.2">2</text>
<text transform="translate(1323.75,553.9) scale(0.9185,1)" font-size="34.2">5</text>
<text transform="translate(1343.41,553.9) scale(0.9966,1)" font-size="34.2">0</text>
<text transform="translate(1374.1,553.9) scale(0.9380,1)" font-size="34.2">M</text>
<text transform="translate(1401.35,553.9) scale(1.0178,1)" font-size="34.2">e</text>
<text transform="translate(1420.87,553.9) scale(0.9669,1)" font-size="34.2">V</text>
<text transform="translate(1014.45,793) scale(0.9381,1.097)" font-family="Liberation Serif" font-size="49.2" stroke="#fff" stroke-width="0.4">(</text>
<text transform="translate(1058.72,793) scale(0.9381,1.097)" font-family="Liberation Serif" font-size="49.2" stroke="#fff" stroke-width="0.4">)</text>
<text transform="translate(1031.19,792) scale(1.15,1)" font-family="Liberation Serif" font-size="49.2" stroke="#fff" stroke-width="0.5">b</text>
<text transform="translate(1097.22,792) skewX(-5.0) scale(1.1826,1.05)" font-family="Liberation Serif" font-style="italic" font-size="49.2" stroke="#fff" stroke-width="0.3">Z</text>
<rect x="1151.5" y="772.4" width="32.3" height="2.2" fill="#000"/>
<rect x="1151.5" y="784" width="32.3" height="2.2" fill="#000"/>
<text transform="translate(1202.76,792) scale(0.9879,1)" font-family="Liberation Serif" font-size="49.2" stroke="#fff" stroke-width="0.5">6</text>
<text transform="translate(1242.36,792) scale(1.0354,1)" font-family="Liberation Serif" font-size="49.2" stroke="#fff" stroke-width="0.5">cm</text>
<line x1="243.43" y1="905.95" x2="243.43" y2="1455.85" stroke="#b0b0b0" stroke-opacity="0.5" stroke-width="1.5"/>
<line x1="380.85" y1="905.95" x2="380.85" y2="1455.85" stroke="#b0b0b0" stroke-opacity="0.5" stroke-width="1.5"/>
<line x1="518.27" y1="905.95" x2="518.27" y2="1455.85" stroke="#b0b0b0" stroke-opacity="0.5" stroke-width="1.5"/>
<line x1="106" y1="1318.38" x2="655.7" y2="1318.38" stroke="#b0b0b0" stroke-opacity="0.5" stroke-width="1.5"/>
<line x1="106" y1="1180.9" x2="655.7" y2="1180.9" stroke="#b0b0b0" stroke-opacity="0.5" stroke-width="1.5"/>
<line x1="106" y1="1043.42" x2="655.7" y2="1043.42" stroke="#b0b0b0" stroke-opacity="0.5" stroke-width="1.5"/>
<rect x="106" y="905.95" width="549.7" height="549.9" fill="none" stroke="#707070" stroke-width="1.7"/>
<line x1="106" y1="1455.85" x2="106" y2="1460.35" stroke="#6a6a6a" stroke-width="1.6"/>
<line x1="243.43" y1="1455.85" x2="243.43" y2="1460.35" stroke="#6a6a6a" stroke-width="1.6"/>
<line x1="380.85" y1="1455.85" x2="380.85" y2="1460.35" stroke="#6a6a6a" stroke-width="1.6"/>
<line x1="518.27" y1="1455.85" x2="518.27" y2="1460.35" stroke="#6a6a6a" stroke-width="1.6"/>
<line x1="655.7" y1="1455.85" x2="655.7" y2="1460.35" stroke="#6a6a6a" stroke-width="1.6"/>
<line x1="101.2" y1="1455.85" x2="106" y2="1455.85" stroke="#6a6a6a" stroke-width="1.6"/>
<line x1="101.2" y1="1318.38" x2="106" y2="1318.38" stroke="#6a6a6a" stroke-width="1.6"/>
<line x1="101.2" y1="1180.9" x2="106" y2="1180.9" stroke="#6a6a6a" stroke-width="1.6"/>
<line x1="101.2" y1="1043.42" x2="106" y2="1043.42" stroke="#6a6a6a" stroke-width="1.6"/>
<line x1="101.2" y1="905.95" x2="106" y2="905.95" stroke="#6a6a6a" stroke-width="1.6"/>
<path d="M106.00,1455.77 L107.10,1455.76 L108.20,1455.75 L109.30,1455.75 L110.41,1455.74 L111.51,1455.73 L112.61,1455.72 L113.71,1455.71 L114.81,1455.70 L115.91,1455.69 L117.02,1455.68 L118.12,1455.66 L119.22,1455.65 L120.32,1455.64 L121.42,1455.62 L122.52,1455.60 L123.63,1455.59 L124.73,1455.57 L125.83,1455.55 L126.93,1455.53 L128.03,1455.51 L129.13,1455.48 L130.24,1455.46 L131.34,1455.43 L132.44,1455.40 L133.54,1455.37 L134.64,1455.34 L135.74,1455.31 L136.84,1455.28 L137.95,1455.24 L139.05,1455.21 L140.15,1455.17 L141.25,1455.12 L142.35,1455.08 L143.45,1455.04 L144.56,1454.99 L145.66,1454.94 L146.76,1454.89 L147.86,1454.83 L148.96,1454.77 L150.06,1454.71 L151.17,1454.65 L152.27,1454.59 L153.37,1454.52 L154.47,1454.45 L155.57,1454.38 L156.67,1454.30 L157.78,1454.22 L158.88,1454.14 L159.98,1454.05 L161.08,1453.96 L162.18,1453.87 L163.28,1453.78 L164.38,1453.68 L165.49,1453.58 L166.59,1453.47 L167.69,1453.36 L168.79,1453.25 L169.89,1453.13 L170.99,1453.01 L172.10,1452.89 L173.20,1452.76 L174.30,1452.62 L175.40,1452.49 L176.50,1452.35 L177.60,1452.20 L178.71,1452.06 L179.81,1451.90 L180.91,1451.75 L182.01,1451.59 L183.11,1451.42 L184.21,1451.25 L185.32,1451.08 L186.42,1450.90 L187.52,1450.72 L188.62,1450.54 L189.72,1450.35 L190.82,1450.15 L191.93,1449.95 L193.03,1449.75 L194.13,1449.54 L195.23,1449.33 L196.33,1449.12 L197.43,1448.90 L198.53,1448.68 L199.64,1448.45 L200.74,1448.22 L201.84,1447.98 L202.94,1447.74 L204.04,1447.50 L205.14,1447.25 L206.25,1447.00 L207.35,1446.75 L208.45,1446.49 L209.55,1446.23 L210.65,1445.96 L211.75,1445.69 L212.86,1445.42 L213.96,1445.15 L215.06,1444.87 L216.16,1444.58 L217.26,1444.30 L218.36,1444.01 L219.47,1443.71 L220.57,1443.42 L221.67,1443.12 L222.77,1442.82 L223.87,1442.51 L224.97,1442.21 L226.07,1441.90 L227.18,1441.58 L228.28,1441.27 L229.38,1440.95 L230.48,1440.63 L231.58,1440.31 L232.68,1439.98 L233.79,1439.66 L234.89,1439.33 L235.99,1438.99 L237.09,1438.66 L238.19,1438.33 L239.29,1437.99 L240.40,1437.65 L241.50,1437.31 L242.60,1436.96 L243.70,1436.62 L244.80,1436.27 L245.90,1435.93 L247.01,1435.58 L248.11,1435.23 L249.21,1434.87 L250.31,1434.52 L251.41,1434.17 L252.51,1433.81 L253.61,1433.45 L254.72,1433.09 L255.82,1432.73 L256.92,1432.37 L258.02,1432.01 L259.12,1431.65 L260.22,1431.29 L261.33,1430.92 L262.43,1430.56 L263.53,1430.19 L264.63,1429.82 L265.73,1429.45 L266.83,1429.09 L267.94,1428.72 L269.04,1428.35 L270.14,1427.98 L271.24,1427.61 L272.34,1427.23 L273.44,1426.86 L274.55,1426.49 L275.65,1426.12 L276.75,1425.74 L277.85,1425.37 L278.95,1424.99 L280.05,1424.62 L281.15,1424.24 L282.26,1423.86 L283.36,1423.49 L284.46,1423.11 L285.56,1422.73 L286.66,1422.36 L287.76,1421.98 L288.87,1421.60 L289.97,1421.22 L291.07,1420.84 L292.17,1420.46 L293.27,1420.08 L294.37,1419.70 L295.48,1419.32 L296.58,1418.94 L297.68,1418.56 L298.78,1418.18 L299.88,1417.80 L300.98,1417.42 L302.09,1417.03 L303.19,1416.65 L304.29,1416.27 L305.39,1415.89 L306.49,1415.50 L307.59,1415.12 L308.69,1414.74 L309.80,1414.35 L310.90,1413.97 L312.00,1413.58 L313.10,1413.20 L314.20,1412.81 L315.30,1412.43 L316.41,1412.04 L317.51,1411.66 L318.61,1411.27 L319.71,1410.89 L320.81,1410.50 L321.91,1410.12 L323.02,1409.73 L324.12,1409.34 L325.22,1408.96 L326.32,1408.57 L327.42,1408.18 L328.52,1407.79 L329.63,1407.41 L330.73,1407.02 L331.83,1406.63 L332.93,1406.24 L334.03,1405.85 L335.13,1405.46 L336.24,1405.08 L337.34,1404.69 L338.44,1404.30 L339.54,1403.91 L340.64,1403.52 L341.74,1403.13 L342.84,1402.74 L343.95,1402.35 L345.05,1401.96 L346.15,1401.57 L347.25,1401.18 L348.35,1400.79 L349.45,1400.40 L350.56,1400.01 L351.66,1399.61 L352.76,1399.22 L353.86,1398.83 L354.96,1398.44 L356.06,1398.05 L357.17,1397.66 L358.27,1397.26 L359.37,1396.87 L360.47,1396.48 L361.57,1396.09 L362.67,1395.70 L363.78,1395.30 L364.88,1394.91 L365.98,1394.52 L367.08,1394.13 L368.18,1393.73 L369.28,1393.34 L370.38,1392.95 L371.49,1392.56 L372.59,1392.17 L373.69,1391.77 L374.79,1391.38 L375.89,1390.99 L376.99,1390.60 L378.10,1390.21 L379.20,1389.82 L380.30,1389.42 L381.40,1389.03 L382.50,1388.64 L383.60,1388.25 L384.71,1387.86 L385.81,1387.47 L386.91,1387.08 L388.01,1386.69 L389.11,1386.31 L390.21,1385.92 L391.32,1385.53 L392.42,1385.14 L393.52,1384.76 L394.62,1384.37 L395.72,1383.99 L396.82,1383.60 L397.92,1383.22 L399.03,1382.84 L400.13,1382.45 L401.23,1382.07 L402.33,1381.69 L403.43,1381.31 L404.53,1380.94 L405.64,1380.56 L406.74,1380.19 L407.84,1379.81 L408.94,1379.44 L410.04,1379.07 L411.14,1378.70 L412.25,1378.33 L413.35,1377.96 L414.45,1377.60 L415.55,1377.23 L416.65,1376.87 L417.75,1376.51 L418.86,1376.16 L419.96,1375.80 L421.06,1375.45 L422.16,1375.10 L423.26,1374.75 L424.36,1374.40 L425.46,1374.05 L426.57,1373.71 L427.67,1373.37 L428.77,1373.04 L429.87,1372.70 L430.97,1372.37 L432.07,1372.04 L433.18,1371.72 L434.28,1371.39 L435.38,1371.07 L436.48,1370.76 L437.58,1370.44 L438.68,1370.13 L439.79,1369.82 L440.89,1369.52 L441.99,1369.22 L443.09,1368.92 L444.19,1368.63 L445.29,1368.34 L446.40,1368.05 L447.50,1367.77 L448.60,1367.49 L449.70,1367.21 L450.80,1366.94 L451.90,1366.67 L453.01,1366.41 L454.11,1366.15 L455.21,1365.89 L456.31,1365.64 L457.41,1365.39 L458.51,1365.15 L459.61,1364.91 L460.72,1364.67 L461.82,1364.44 L462.92,1364.21 L464.02,1363.98 L465.12,1363.76 L466.22,1363.55 L467.33,1363.33 L468.43,1363.13 L469.53,1362.92 L470.63,1362.72 L471.73,1362.52 L472.83,1362.33 L473.94,1362.14 L475.04,1361.96 L476.14,1361.78 L477.24,1361.60 L478.34,1361.42 L479.44,1361.25 L480.55,1361.09 L481.65,1360.93 L482.75,1360.77 L483.85,1360.61 L484.95,1360.46 L486.05,1360.31 L487.15,1360.16 L488.26,1360.02 L489.36,1359.88 L490.46,1359.75 L491.56,1359.62 L492.66,1359.49 L493.76,1359.36 L494.87,1359.24 L495.97,1359.11 L497.07,1359.00 L498.17,1358.88 L499.27,1358.77 L500.37,1358.66 L501.48,1358.55 L502.58,1358.45 L503.68,1358.34 L504.78,1358.24 L505.88,1358.15 L506.98,1358.05 L508.09,1357.96 L509.19,1357.86 L510.29,1357.77 L511.39,1357.69 L512.49,1357.60 L513.59,1357.51 L514.69,1357.43 L515.80,1357.35 L516.90,1357.27 L518.00,1357.19 L519.10,1357.12 L520.20,1357.04 L521.30,1356.97 L522.41,1356.90 L523.51,1356.82 L524.61,1356.75 L525.71,1356.69 L526.81,1356.62 L527.91,1356.55 L529.02,1356.49 L530.12,1356.42 L531.22,1356.36 L532.32,1356.29 L533.42,1356.23 L534.52,1356.17 L535.63,1356.11 L536.73,1356.05 L537.83,1355.99 L538.93,1355.93 L540.03,1355.87 L541.13,1355.81 L542.23,1355.76 L543.34,1355.70 L544.44,1355.64 L545.54,1355.59 L546.64,1355.53 L547.74,1355.48 L548.84,1355.42 L549.95,1355.37 L551.05,1355.32 L552.15,1355.26 L553.25,1355.21 L554.35,1355.16 L555.45,1355.10 L556.56,1355.05 L557.66,1355.00 L558.76,1354.95 L559.86,1354.89 L560.96,1354.84 L562.06,1354.79 L563.17,1354.74 L564.27,1354.69 L565.37,1354.64 L566.47,1354.59 L567.57,1354.54 L568.67,1354.49 L569.77,1354.44 L570.88,1354.39 L571.98,1354.34 L573.08,1354.28 L574.18,1354.23 L575.28,1354.18 L576.38,1354.13 L577.49,1354.08 L578.59,1354.04 L579.69,1353.99 L580.79,1353.94 L581.89,1353.89 L582.99,1353.84 L584.10,1353.79 L585.20,1353.74 L586.30,1353.69 L587.40,1353.64 L588.50,1353.59 L589.60,1353.54 L590.71,1353.49 L591.81,1353.44 L592.91,1353.39 L594.01,1353.34 L595.11,1353.29 L596.21,1353.25 L597.32,1353.20 L598.42,1353.15 L599.52,1353.10 L600.62,1353.05 L601.72,1353.00 L602.82,1352.95 L603.92,1352.90 L605.03,1352.85 L606.13,1352.81 L607.23,1352.76 L608.33,1352.71 L609.43,1352.66 L610.53,1352.61 L611.64,1352.56 L612.74,1352.51 L613.84,1352.46 L614.94,1352.42 L616.04,1352.37 L617.14,1352.32 L618.25,1352.27 L619.35,1352.22 L620.45,1352.17 L621.55,1352.12 L622.65,1352.08 L623.75,1352.03 L624.86,1351.98 L625.96,1351.93 L627.06,1351.88 L628.16,1351.83 L629.26,1351.78 L630.36,1351.74 L631.46,1351.69 L632.57,1351.64 L633.67,1351.59 L634.77,1351.54 L635.87,1351.50 L636.97,1351.45 L638.07,1351.40 L639.18,1351.35 L640.28,1351.30 L641.38,1351.25 L642.48,1351.21 L643.58,1351.16 L644.68,1351.11 L645.79,1351.06 L646.89,1351.01 L647.99,1350.97 L649.09,1350.92 L650.19,1350.87 L651.29,1350.82 L652.40,1350.77 L653.50,1350.73 L654.60,1350.68 L655.70,1350.63" fill="none" stroke="#000000" stroke-width="5.2" stroke-linecap="square" stroke-linejoin="round" clip-path="url(#clipc)"/>
<path d="M106.00,1454.63 L107.10,1454.44 L108.20,1454.22 L109.30,1453.99 L110.41,1453.73 L111.51,1453.44 L112.61,1453.13 L113.71,1452.79 L114.81,1452.42 L115.91,1452.02 L117.02,1451.59 L118.12,1451.13 L119.22,1450.64 L120.32,1450.11 L121.42,1449.56 L122.52,1448.97 L123.63,1448.35 L124.73,1447.70 L125.83,1447.02 L126.93,1446.31 L128.03,1445.57 L129.13,1444.79 L130.24,1444.00 L131.34,1443.17 L132.44,1442.31 L133.54,1441.43 L134.64,1440.52 L135.74,1439.59 L136.84,1438.63 L137.95,1437.65 L139.05,1436.65 L140.15,1435.62 L141.25,1434.58 L142.35,1433.51 L143.45,1432.42 L144.56,1431.32 L145.66,1430.19 L146.76,1429.05 L147.86,1427.90 L148.96,1426.72 L150.06,1425.53 L151.17,1424.33 L152.27,1423.11 L153.37,1421.88 L154.47,1420.63 L155.57,1419.37 L156.67,1418.10 L157.78,1416.82 L158.88,1415.53 L159.98,1414.22 L161.08,1412.90 L162.18,1411.58 L163.28,1410.24 L164.38,1408.90 L165.49,1407.54 L166.59,1406.18 L167.69,1404.81 L168.79,1403.43 L169.89,1402.04 L170.99,1400.65 L172.10,1399.25 L173.20,1397.84 L174.30,1396.42 L175.40,1395.00 L176.50,1393.57 L177.60,1392.14 L178.71,1390.70 L179.81,1389.25 L180.91,1387.80 L182.01,1386.34 L183.11,1384.88 L184.21,1383.41 L185.32,1381.94 L186.42,1380.47 L187.52,1378.99 L188.62,1377.50 L189.72,1376.01 L190.82,1374.52 L191.93,1373.03 L193.03,1371.53 L194.13,1370.02 L195.23,1368.52 L196.33,1367.01 L197.43,1365.49 L198.53,1363.98 L199.64,1362.46 L200.74,1360.93 L201.84,1359.41 L202.94,1357.88 L204.04,1356.35 L205.14,1354.82 L206.25,1353.28 L207.35,1351.74 L208.45,1350.20 L209.55,1348.66 L210.65,1347.11 L211.75,1345.57 L212.86,1344.02 L213.96,1342.47 L215.06,1340.91 L216.16,1339.36 L217.26,1337.80 L218.36,1336.24 L219.47,1334.68 L220.57,1333.12 L221.67,1331.55 L222.77,1329.99 L223.87,1328.42 L224.97,1326.85 L226.07,1325.28 L227.18,1323.71 L228.28,1322.13 L229.38,1320.56 L230.48,1318.98 L231.58,1317.40 L232.68,1315.83 L233.79,1314.24 L234.89,1312.66 L235.99,1311.08 L237.09,1309.50 L238.19,1307.91 L239.29,1306.32 L240.40,1304.74 L241.50,1303.15 L242.60,1301.56 L243.70,1299.97 L244.80,1298.38 L245.90,1296.78 L247.01,1295.19 L248.11,1293.59 L249.21,1292.00 L250.31,1290.40 L251.41,1288.80 L252.51,1287.20 L253.61,1285.60 L254.72,1284.00 L255.82,1282.40 L256.92,1280.80 L258.02,1279.20 L259.12,1277.59 L260.22,1275.99 L261.33,1274.38 L262.43,1272.78 L263.53,1271.17 L264.63,1269.56 L265.73,1267.95 L266.83,1266.34 L267.94,1264.73 L269.04,1263.12 L270.14,1261.51 L271.24,1259.90 L272.34,1258.28 L273.44,1256.67 L274.55,1255.05 L275.65,1253.44 L276.75,1251.82 L277.85,1250.20 L278.95,1248.59 L280.05,1246.97 L281.15,1245.35 L282.26,1243.73 L283.36,1242.11 L284.46,1240.49 L285.56,1238.87 L286.66,1237.25 L287.76,1235.62 L288.87,1234.00 L289.97,1232.38 L291.07,1230.75 L292.17,1229.13 L293.27,1227.50 L294.37,1225.88 L295.48,1224.25 L296.58,1222.62 L297.68,1220.99 L298.78,1219.36 L299.88,1217.73 L300.98,1216.11 L302.09,1214.47 L303.19,1212.84 L304.29,1211.21 L305.39,1209.58 L306.49,1207.95 L307.59,1206.32 L308.69,1204.68 L309.80,1203.05 L310.90,1201.41 L312.00,1199.78 L313.10,1198.14 L314.20,1196.51 L315.30,1194.87 L316.41,1193.23 L317.51,1191.59 L318.61,1189.96 L319.71,1188.32 L320.81,1186.68 L321.91,1185.04 L323.02,1183.40 L324.12,1181.76 L325.22,1180.12 L326.32,1178.47 L327.42,1176.83 L328.52,1175.19 L329.63,1173.55 L330.73,1171.90 L331.83,1170.26 L332.93,1168.61 L334.03,1166.97 L335.13,1165.32 L336.24,1163.68 L337.34,1162.03 L338.44,1160.38 L339.54,1158.74 L340.64,1157.09 L341.74,1155.44 L342.84,1153.79 L343.95,1152.14 L345.05,1150.49 L346.15,1148.84 L347.25,1147.19 L348.35,1145.54 L349.45,1143.89 L350.56,1142.24 L351.66,1140.59 L352.76,1138.94 L353.86,1137.29 L354.96,1135.64 L356.06,1133.98 L357.17,1132.33 L358.27,1130.68 L359.37,1129.03 L360.47,1127.39 L361.57,1125.74 L362.67,1124.09 L363.78,1122.45 L364.88,1120.81 L365.98,1119.17 L367.08,1117.54 L368.18,1115.91 L369.28,1114.29 L370.38,1112.68 L371.49,1111.07 L372.59,1109.47 L373.69,1107.88 L374.79,1106.30 L375.89,1104.73 L376.99,1103.18 L378.10,1101.65 L379.20,1100.12 L380.30,1098.62 L381.40,1097.14 L382.50,1095.68 L383.60,1094.24 L384.71,1092.82 L385.81,1091.43 L386.91,1090.06 L388.01,1088.72 L389.11,1087.41 L390.21,1086.13 L391.32,1084.88 L392.42,1083.66 L393.52,1082.47 L394.62,1081.31 L395.72,1080.18 L396.82,1079.08 L397.92,1078.02 L399.03,1076.98 L400.13,1075.98 L401.23,1075.01 L402.33,1074.06 L403.43,1073.15 L404.53,1072.26 L405.64,1071.41 L406.74,1070.58 L407.84,1069.78 L408.94,1069.00 L410.04,1068.25 L411.14,1067.52 L412.25,1066.82 L413.35,1066.13 L414.45,1065.47 L415.55,1064.84 L416.65,1064.22 L417.75,1063.62 L418.86,1063.04 L419.96,1062.48 L421.06,1061.94 L422.16,1061.41 L423.26,1060.90 L424.36,1060.40 L425.46,1059.92 L426.57,1059.46 L427.67,1059.01 L428.77,1058.57 L429.87,1058.14 L430.97,1057.73 L432.07,1057.33 L433.18,1056.94 L434.28,1056.56 L435.38,1056.19 L436.48,1055.83 L437.58,1055.48 L438.68,1055.14 L439.79,1054.81 L440.89,1054.48 L441.99,1054.17 L443.09,1053.86 L444.19,1053.56 L445.29,1053.27 L446.40,1052.99 L447.50,1052.71 L448.60,1052.44 L449.70,1052.17 L450.80,1051.92 L451.90,1051.66 L453.01,1051.42 L454.11,1051.17 L455.21,1050.94 L456.31,1050.71 L457.41,1050.48 L458.51,1050.26 L459.61,1050.04 L460.72,1049.83 L461.82,1049.62 L462.92,1049.41 L464.02,1049.21 L465.12,1049.02 L466.22,1048.82 L467.33,1048.63 L468.43,1048.45 L469.53,1048.26 L470.63,1048.08 L471.73,1047.90 L472.83,1047.73 L473.94,1047.56 L475.04,1047.39 L476.14,1047.22 L477.24,1047.06 L478.34,1046.90 L479.44,1046.74 L480.55,1046.58 L481.65,1046.43 L482.75,1046.28 L483.85,1046.12 L484.95,1045.98 L486.05,1045.83 L487.15,1045.69 L488.26,1045.54 L489.36,1045.40 L490.46,1045.26 L491.56,1045.13 L492.66,1044.99 L493.76,1044.86 L494.87,1044.72 L495.97,1044.59 L497.07,1044.46 L498.17,1044.33 L499.27,1044.21 L500.37,1044.08 L501.48,1043.96 L502.58,1043.83 L503.68,1043.71 L504.78,1043.59 L505.88,1043.47 L506.98,1043.35 L508.09,1043.23 L509.19,1043.12 L510.29,1043.00 L511.39,1042.89 L512.49,1042.77 L513.59,1042.66 L514.69,1042.55 L515.80,1042.44 L516.90,1042.33 L518.00,1042.22 L519.10,1042.11 L520.20,1042.00 L521.30,1041.90 L522.41,1041.79 L523.51,1041.69 L524.61,1041.58 L525.71,1041.48 L526.81,1041.37 L527.91,1041.27 L529.02,1041.17 L530.12,1041.07 L531.22,1040.97 L532.32,1040.87 L533.42,1040.77 L534.52,1040.67 L535.63,1040.58 L536.73,1040.48 L537.83,1040.38 L538.93,1040.29 L540.03,1040.19 L541.13,1040.10 L542.23,1040.00 L543.34,1039.91 L544.44,1039.82 L545.54,1039.72 L546.64,1039.63 L547.74,1039.54 L548.84,1039.45 L549.95,1039.36 L551.05,1039.27 L552.15,1039.18 L553.25,1039.09 L554.35,1039.00 L555.45,1038.92 L556.56,1038.83 L557.66,1038.74 L558.76,1038.65 L559.86,1038.57 L560.96,1038.48 L562.06,1038.40 L563.17,1038.31 L564.27,1038.23 L565.37,1038.14 L566.47,1038.06 L567.57,1037.98 L568.67,1037.89 L569.77,1037.81 L570.88,1037.73 L571.98,1037.65 L573.08,1037.57 L574.18,1037.49 L575.28,1037.41 L576.38,1037.33 L577.49,1037.25 L578.59,1037.17 L579.69,1037.09 L580.79,1037.01 L581.89,1036.93 L582.99,1036.85 L584.10,1036.78 L585.20,1036.70 L586.30,1036.62 L587.40,1036.55 L588.50,1036.47 L589.60,1036.40 L590.71,1036.32 L591.81,1036.25 L592.91,1036.17 L594.01,1036.10 L595.11,1036.02 L596.21,1035.95 L597.32,1035.88 L598.42,1035.80 L599.52,1035.73 L600.62,1035.66 L601.72,1035.59 L602.82,1035.51 L603.92,1035.44 L605.03,1035.37 L606.13,1035.30 L607.23,1035.23 L608.33,1035.16 L609.43,1035.09 L610.53,1035.02 L611.64,1034.95 L612.74,1034.88 L613.84,1034.82 L614.94,1034.75 L616.04,1034.68 L617.14,1034.61 L618.25,1034.55 L619.35,1034.48 L620.45,1034.41 L621.55,1034.34 L622.65,1034.28 L623.75,1034.21 L624.86,1034.15 L625.96,1034.08 L627.06,1034.02 L628.16,1033.95 L629.26,1033.89 L630.36,1033.82 L631.46,1033.76 L632.57,1033.70 L633.67,1033.63 L634.77,1033.57 L635.87,1033.51 L636.97,1033.44 L638.07,1033.38 L639.18,1033.32 L640.28,1033.26 L641.38,1033.20 L642.48,1033.14 L643.58,1033.07 L644.68,1033.01 L645.79,1032.95 L646.89,1032.89 L647.99,1032.83 L649.09,1032.77 L650.19,1032.71 L651.29,1032.66 L652.40,1032.60 L653.50,1032.54 L654.60,1032.48 L655.70,1032.42" fill="none" stroke="#ff0000" stroke-width="5.2" stroke-dasharray="19.1,7.9" stroke-linecap="butt" stroke-linejoin="round" clip-path="url(#clipc)"/>
<path d="M106.00,1455.84 L107.10,1455.72 L108.20,1455.49 L109.30,1455.15 L110.41,1454.72 L111.51,1454.18 L112.61,1453.57 L113.71,1452.88 L114.81,1452.11 L115.91,1451.28 L117.02,1450.39 L118.12,1449.44 L119.22,1448.44 L120.32,1447.40 L121.42,1446.31 L122.52,1445.17 L123.63,1444.01 L124.73,1442.80 L125.83,1441.57 L126.93,1440.30 L128.03,1439.01 L129.13,1437.69 L130.24,1436.35 L131.34,1434.99 L132.44,1433.61 L133.54,1432.21 L134.64,1430.79 L135.74,1429.35 L136.84,1427.90 L137.95,1426.43 L139.05,1424.96 L140.15,1423.46 L141.25,1421.96 L142.35,1420.45 L143.45,1418.92 L144.56,1417.39 L145.66,1415.85 L146.76,1414.30 L147.86,1412.74 L148.96,1411.17 L150.06,1409.60 L151.17,1408.02 L152.27,1406.43 L153.37,1404.83 L154.47,1403.23 L155.57,1401.63 L156.67,1400.02 L157.78,1398.40 L158.88,1396.78 L159.98,1395.15 L161.08,1393.52 L162.18,1391.89 L163.28,1390.25 L164.38,1388.61 L165.49,1386.96 L166.59,1385.31 L167.69,1383.65 L168.79,1381.99 L169.89,1380.33 L170.99,1378.67 L172.10,1377.00 L173.20,1375.33 L174.30,1373.65 L175.40,1371.97 L176.50,1370.29 L177.60,1368.61 L178.71,1366.92 L179.81,1365.23 L180.91,1363.54 L182.01,1361.84 L183.11,1360.14 L184.21,1358.44 L185.32,1356.74 L186.42,1355.03 L187.52,1353.32 L188.62,1351.61 L189.72,1349.90 L190.82,1348.18 L191.93,1346.46 L193.03,1344.74 L194.13,1343.02 L195.23,1341.29 L196.33,1339.57 L197.43,1337.84 L198.53,1336.11 L199.64,1334.37 L200.74,1332.64 L201.84,1330.90 L202.94,1329.16 L204.04,1327.41 L205.14,1325.67 L206.25,1323.92 L207.35,1322.17 L208.45,1320.42 L209.55,1318.67 L210.65,1316.92 L211.75,1315.16 L212.86,1313.40 L213.96,1311.64 L215.06,1309.88 L216.16,1308.12 L217.26,1306.35 L218.36,1304.58 L219.47,1302.82 L220.57,1301.04 L221.67,1299.27 L222.77,1297.50 L223.87,1295.72 L224.97,1293.94 L226.07,1292.16 L227.18,1290.38 L228.28,1288.60 L229.38,1286.82 L230.48,1285.03 L231.58,1283.24 L232.68,1281.45 L233.79,1279.66 L234.89,1277.87 L235.99,1276.08 L237.09,1274.28 L238.19,1272.48 L239.29,1270.68 L240.40,1268.88 L241.50,1267.08 L242.60,1265.28 L243.70,1263.48 L244.80,1261.67 L245.90,1259.86 L247.01,1258.05 L248.11,1256.24 L249.21,1254.43 L250.31,1252.62 L251.41,1250.81 L252.51,1248.99 L253.61,1247.17 L254.72,1245.36 L255.82,1243.54 L256.92,1241.72 L258.02,1239.89 L259.12,1238.07 L260.22,1236.25 L261.33,1234.42 L262.43,1232.59 L263.53,1230.77 L264.63,1228.94 L265.73,1227.11 L266.83,1225.28 L267.94,1223.44 L269.04,1221.61 L270.14,1219.77 L271.24,1217.94 L272.34,1216.10 L273.44,1214.26 L274.55,1212.42 L275.65,1210.58 L276.75,1208.74 L277.85,1206.90 L278.95,1205.05 L280.05,1203.21 L281.15,1201.36 L282.26,1199.51 L283.36,1197.66 L284.46,1195.81 L285.56,1193.96 L286.66,1192.11 L287.76,1190.26 L288.87,1188.41 L289.97,1186.55 L291.07,1184.70 L292.17,1182.84 L293.27,1180.98 L294.37,1179.13 L295.48,1177.27 L296.58,1175.41 L297.68,1173.55 L298.78,1171.68 L299.88,1169.82 L300.98,1167.96 L302.09,1166.09 L303.19,1164.23 L304.29,1162.36 L305.39,1160.50 L306.49,1158.63 L307.59,1156.76 L308.69,1154.89 L309.80,1153.02 L310.90,1151.15 L312.00,1149.28 L313.10,1147.40 L314.20,1145.53 L315.30,1143.65 L316.41,1141.78 L317.51,1139.90 L318.61,1138.03 L319.71,1136.15 L320.81,1134.27 L321.91,1132.39 L323.02,1130.51 L324.12,1128.63 L325.22,1126.75 L326.32,1124.87 L327.42,1122.98 L328.52,1121.10 L329.63,1119.22 L330.73,1117.33 L331.83,1115.45 L332.93,1113.56 L334.03,1111.67 L335.13,1109.79 L336.24,1107.90 L337.34,1106.01 L338.44,1104.12 L339.54,1102.23 L340.64,1100.34 L341.74,1098.45 L342.84,1096.56 L343.95,1094.66 L345.05,1092.77 L346.15,1090.88 L347.25,1088.98 L348.35,1087.09 L349.45,1085.19 L350.56,1083.29 L351.66,1081.40 L352.76,1079.50 L353.86,1077.60 L354.96,1075.70 L356.06,1073.80 L357.17,1071.90 L358.27,1070.00 L359.37,1068.10 L360.47,1066.20 L361.57,1064.30 L362.67,1062.40 L363.78,1060.49 L364.88,1058.59 L365.98,1056.69 L367.08,1054.78 L368.18,1052.88 L369.28,1050.97 L370.38,1049.06 L371.49,1047.16 L372.59,1045.25 L373.69,1043.34 L374.79,1041.44 L375.89,1039.53 L376.99,1037.62 L378.10,1035.71 L379.20,1033.80 L380.30,1031.89 L381.40,1030.03 L382.50,1028.29 L383.60,1026.67 L384.71,1025.15 L385.81,1023.72 L386.91,1022.38 L388.01,1021.12 L389.11,1019.94 L390.21,1018.82 L391.32,1017.77 L392.42,1016.77 L393.52,1015.83 L394.62,1014.94 L395.72,1014.09 L396.82,1013.29 L397.92,1012.52 L399.03,1011.79 L400.13,1011.09 L401.23,1010.42 L402.33,1009.78 L403.43,1009.17 L404.53,1008.58 L405.64,1008.01 L406.74,1007.46 L407.84,1006.93 L408.94,1006.42 L410.04,1005.93 L411.14,1005.45 L412.25,1004.99 L413.35,1004.54 L414.45,1004.10 L415.55,1003.67 L416.65,1003.26 L417.75,1002.85 L418.86,1002.46 L419.96,1002.07 L421.06,1001.69 L422.16,1001.32 L423.26,1000.96 L424.36,1000.61 L425.46,1000.26 L426.57,999.92 L427.67,999.58 L428.77,999.25 L429.87,998.93 L430.97,998.61 L432.07,998.29 L433.18,997.98 L434.28,997.68 L435.38,997.38 L436.48,997.08 L437.58,996.79 L438.68,996.50 L439.79,996.22 L440.89,995.94 L441.99,995.66 L443.09,995.39 L444.19,995.12 L445.29,994.85 L446.40,994.58 L447.50,994.32 L448.60,994.06 L449.70,993.81 L450.80,993.56 L451.90,993.31 L453.01,993.06 L454.11,992.81 L455.21,992.57 L456.31,992.33 L457.41,992.10 L458.51,991.86 L459.61,991.63 L460.72,991.40 L461.82,991.17 L462.92,990.95 L464.02,990.72 L465.12,990.50 L466.22,990.28 L467.33,990.07 L468.43,989.85 L469.53,989.64 L470.63,989.43 L471.73,989.22 L472.83,989.02 L473.94,988.81 L475.04,988.61 L476.14,988.41 L477.24,988.21 L478.34,988.01 L479.44,987.82 L480.55,987.62 L481.65,987.43 L482.75,987.24 L483.85,987.06 L484.95,986.87 L486.05,986.69 L487.15,986.50 L488.26,986.32 L489.36,986.14 L490.46,985.97 L491.56,985.79 L492.66,985.62 L493.76,985.44 L494.87,985.27 L495.97,985.10 L497.07,984.94 L498.17,984.77 L499.27,984.61 L500.37,984.44 L501.48,984.28 L502.58,984.12 L503.68,983.96 L504.78,983.80 L505.88,983.65 L506.98,983.49 L508.09,983.34 L509.19,983.19 L510.29,983.04 L511.39,982.89 L512.49,982.74 L513.59,982.60 L514.69,982.45 L515.80,982.31 L516.90,982.17 L518.00,982.03 L519.10,981.89 L520.20,981.75 L521.30,981.61 L522.41,981.48 L523.51,981.34 L524.61,981.21 L525.71,981.08 L526.81,980.95 L527.91,980.82 L529.02,980.69 L530.12,980.56 L531.22,980.43 L532.32,980.31 L533.42,980.19 L534.52,980.06 L535.63,979.94 L536.73,979.82 L537.83,979.70 L538.93,979.58 L540.03,979.47 L541.13,979.35 L542.23,979.24 L543.34,979.12 L544.44,979.01 L545.54,978.90 L546.64,978.79 L547.74,978.68 L548.84,978.57 L549.95,978.46 L551.05,978.35 L552.15,978.25 L553.25,978.14 L554.35,978.04 L555.45,977.94 L556.56,977.83 L557.66,977.73 L558.76,977.63 L559.86,977.53 L560.96,977.44 L562.06,977.34 L563.17,977.24 L564.27,977.15 L565.37,977.05 L566.47,976.96 L567.57,976.86 L568.67,976.77 L569.77,976.68 L570.88,976.59 L571.98,976.50 L573.08,976.41 L574.18,976.32 L575.28,976.24 L576.38,976.15 L577.49,976.06 L578.59,975.98 L579.69,975.90 L580.79,975.81 L581.89,975.73 L582.99,975.65 L584.10,975.57 L585.20,975.49 L586.30,975.41 L587.40,975.33 L588.50,975.25 L589.60,975.17 L590.71,975.10 L591.81,975.02 L592.91,974.95 L594.01,974.87 L595.11,974.80 L596.21,974.72 L597.32,974.65 L598.42,974.58 L599.52,974.51 L600.62,974.44 L601.72,974.37 L602.82,974.30 L603.92,974.23 L605.03,974.16 L606.13,974.10 L607.23,974.03 L608.33,973.96 L609.43,973.90 L610.53,973.83 L611.64,973.77 L612.74,973.70 L613.84,973.64 L614.94,973.58 L616.04,973.52 L617.14,973.45 L618.25,973.39 L619.35,973.33 L620.45,973.27 L621.55,973.21 L622.65,973.16 L623.75,973.10 L624.86,973.04 L625.96,972.98 L627.06,972.93 L628.16,972.87 L629.26,972.81 L630.36,972.76 L631.46,972.71 L632.57,972.65 L633.67,972.60 L634.77,972.54 L635.87,972.49 L636.97,972.44 L638.07,972.39 L639.18,972.34 L640.28,972.29 L641.38,972.24 L642.48,972.19 L643.58,972.14 L644.68,972.09 L645.79,972.04 L646.89,971.99 L647.99,971.95 L649.09,971.90 L650.19,971.85 L651.29,971.81 L652.40,971.76 L653.50,971.71 L654.60,971.67 L655.70,971.62" fill="none" stroke="#0000ff" stroke-width="5.2" stroke-dasharray="5.3,4.9" stroke-linecap="butt" stroke-linejoin="round" clip-path="url(#clipc)"/>
<text transform="translate(92.22,1512.95) scale(0.9978,1)" font-size="48.8">0</text>
<text transform="translate(230.72,1512.95) scale(0.9196,1)" font-size="48.8">5</text>
<text transform="translate(352.98,1512.95) scale(0.9610,1)" font-size="48.8">1</text>
<text transform="translate(381.64,1512.95) scale(0.9978,1)" font-size="48.8">0</text>
<text transform="translate(490.41,1512.95) scale(0.9610,1)" font-size="48.8">1</text>
<text transform="translate(520.14,1512.95) scale(0.9196,1)" font-size="48.8">5</text>
<text transform="translate(627.41,1512.95) scale(0.9596,1)" font-size="48.8">2</text>
<text transform="translate(656.49,1512.95) scale(0.9978,1)" font-size="48.8">0</text>
<text transform="translate(54.14,1472.85) scale(0.9978,1)" font-size="48.8">0</text>
<text transform="translate(54.21,1335.38) scale(0.9596,1)" font-size="48.8">2</text>
<text transform="translate(54.68,1197.9) scale(0.9760,1)" font-size="48.8">4</text>
<text transform="translate(54.06,1060.42) scale(1.0208,1)" font-size="48.8">6</text>
<text transform="translate(54.6,922.95) scale(0.9991,1)" font-size="48.8">8</text>
<text transform="translate(107.65,902.75) scale(0.9610,1)" font-size="48.8">1</text>
<text transform="translate(135.81,902.75) scale(1.0191,1)" font-size="48.8">e</text>
<text transform="translate(165.35,902.75) scale(1.2075,1)" font-size="48.8">−</text>
<text transform="translate(203.45,902.75) scale(0.9760,1)" font-size="48.8">4</text>
<text transform="translate(272.32,1562.35) scale(1.0050,1)" font-size="48.8">T</text>
<text transform="translate(300.64,1562.35) scale(1.0084,1)" font-size="48.8">i</text>
<text transform="translate(313.07,1562.35) scale(1.0733,1)" font-size="48.8">m</text>
<text transform="translate(357.56,1562.35) scale(1.0191,1)" font-size="48.8">e</text>
<text transform="translate(400.13,1562.35) scale(1.0084,1)" font-size="48.8">[</text>
<text transform="translate(419.1,1562.35) scale(1.0004,1)" font-size="48.8">p</text>
<text transform="translate(447.94,1562.35) scale(0.9173,1)" font-size="48.8">s</text>
<text transform="translate(474.85,1562.35) scale(1.0084,1)" font-size="48.8">]</text>
<text transform="translate(37.5,1376.15) rotate(-90) translate(-3.48,0) scale(0.8914,1)" font-size="48.8">R</text>
<text transform="translate(37.5,1376.15) rotate(-90) translate(25.5,0) scale(1.0191,1)" font-size="48.8">e</text>
<text transform="translate(37.5,1376.15) rotate(-90) translate(54.35,0) scale(0.9720,1)" font-size="48.8">l</text>
<text transform="translate(37.5,1376.15) rotate(-90) translate(66.82,0) scale(0.9720,1)" font-size="48.8">.</text>
<text transform="translate(37.5,1376.15) rotate(-90) translate(95.52,0) scale(1.0435,1)" font-size="48.8">d</text>
<text transform="translate(37.5,1376.15) rotate(-90) translate(124.7,0) scale(0.9978,1)" font-size="48.8">o</text>
<text transform="translate(37.5,1376.15) rotate(-90) translate(153.34,0) scale(0.9173,1)" font-size="48.8">s</text>
<text transform="translate(37.5,1376.15) rotate(-90) translate(176.58,0) scale(1.0191,1)" font-size="48.8">e</text>
<text transform="translate(37.5,1376.15) rotate(-90) translate(219.45,0) scale(0.9720,1)" font-size="48.8">[</text>
<text transform="translate(37.5,1376.15) rotate(-90) translate(237.45,0) scale(0.9102,1)" font-size="48.8">G</text>
<text transform="translate(37.5,1376.15) rotate(-90) translate(273.81,0) scale(0.9955,1)" font-size="48.8">y</text>
<text transform="translate(37.5,1376.15) rotate(-90) translate(299.55,0) scale(1.1404,1)" font-size="48.8">/</text>
<text transform="translate(37.5,1376.15) rotate(-90) translate(316.19,0) scale(1.0004,1)" font-size="48.8">p</text>
<text transform="translate(37.5,1376.15) rotate(-90) translate(344.69,0) scale(0.8795,1)" font-size="48.8">C</text>
<text transform="translate(37.5,1376.15) rotate(-90) translate(380.26,0) scale(0.9720,1)" font-size="48.8">]</text>
<rect x="385.6" y="1105.6" width="254.4" height="150.6" rx="5" ry="5" fill="#ffffff" fill-opacity="0.8" stroke="#dcdcdc" stroke-width="1.3"/>
<line x1="397.9" y1="1132.1" x2="462.3" y2="1132.1" stroke="#000" stroke-width="5.2" stroke-linecap="square"/>
<text transform="translate(488.14,1144.1) scale(0.9185,1)" font-size="34.2">5</text>
<text transform="translate(507.8,1144.1) scale(0.9966,1)" font-size="34.2">0</text>
<text transform="translate(538.49,1144.1) scale(0.9380,1)" font-size="34.2">M</text>
<text transform="translate(565.74,1144.1) scale(1.0178,1)" font-size="34.2">e</text>
<text transform="translate(585.25,1144.1) scale(0.9669,1)" font-size="34.2">V</text>
<line x1="397.7" y1="1178.9" x2="462" y2="1178.9" stroke="#ff0000" stroke-width="5.2" stroke-dasharray="19.1,7.9"/>
<text transform="translate(487.74,1190.9) scale(0.9598,1)" font-size="34.2">1</text>
<text transform="translate(508.55,1190.9) scale(0.9185,1)" font-size="34.2">5</text>
<text transform="translate(528.21,1190.9) scale(0.9966,1)" font-size="34.2">0</text>
<text transform="translate(558.9,1190.9) scale(0.9380,1)" font-size="34.2">M</text>
<text transform="translate(586.15,1190.9) scale(1.0178,1)" font-size="34.2">e</text>
<text transform="translate(605.67,1190.9) scale(0.9669,1)" font-size="34.2">V</text>
<line x1="397.7" y1="1225.7" x2="462" y2="1225.7" stroke="#0000ff" stroke-width="5.2" stroke-dasharray="5.3,4.9"/>
<text transform="translate(487.44,1237.7) scale(0.9584,1)" font-size="34.2">2</text>
<text transform="translate(508.55,1237.7) scale(0.9185,1)" font-size="34.2">5</text>
<text transform="translate(528.21,1237.7) scale(0.9966,1)" font-size="34.2">0</text>
<text transform="translate(558.9,1237.7) scale(0.9380,1)" font-size="34.2">M</text>
<text transform="translate(586.15,1237.7) scale(1.0178,1)" font-size="34.2">e</text>
<text transform="translate(605.67,1237.7) scale(0.9669,1)" font-size="34.2">V</text>
<text transform="translate(189.25,1660.05) scale(0.9381,1.097)" font-family="Liberation Serif" font-size="49.2" stroke="#fff" stroke-width="0.4">(</text>
<text transform="translate(228.92,1660.05) scale(0.9381,1.097)" font-family="Liberation Serif" font-size="49.2" stroke="#fff" stroke-width="0.4">)</text>
<text transform="translate(203.97,1659.05) scale(1.15,1)" font-family="Liberation Serif" font-size="49.2" stroke="#fff" stroke-width="0.5">c</text>
<text transform="translate(267.02,1659.05) skewX(-5.0) scale(1.1899,1.05)" font-family="Liberation Serif" font-style="italic" font-size="49.2" stroke="#fff" stroke-width="0.3">Z</text>
<rect x="321.9" y="1639.45" width="31.5" height="2.2" fill="#000"/>
<rect x="321.9" y="1651.05" width="31.5" height="2.2" fill="#000"/>
<text transform="translate(372.26,1659.05) scale(1.0257,1)" font-family="Liberation Serif" font-size="49.2" stroke="#fff" stroke-width="0.5">12</text>
<text transform="translate(437.69,1659.05) scale(1.0197,1)" font-family="Liberation Serif" font-size="49.2" stroke="#fff" stroke-width="0.5">cm</text>
<line x1="1058.62" y1="905.95" x2="1058.62" y2="1455.85" stroke="#b0b0b0" stroke-opacity="0.5" stroke-width="1.5"/>
<line x1="1196.05" y1="905.95" x2="1196.05" y2="1455.85" stroke="#b0b0b0" stroke-opacity="0.5" stroke-width="1.5"/>
<line x1="1333.47" y1="905.95" x2="1333.47" y2="1455.85" stroke="#b0b0b0" stroke-opacity="0.5" stroke-width="1.5"/>
<line x1="921.2" y1="1318.38" x2="1470.9" y2="1318.38" stroke="#b0b0b0" stroke-opacity="0.5" stroke-width="1.5"/>
<line x1="921.2" y1="1180.9" x2="1470.9" y2="1180.9" stroke="#b0b0b0" stroke-opacity="0.5" stroke-width="1.5"/>
<line x1="921.2" y1="1043.42" x2="1470.9" y2="1043.42" stroke="#b0b0b0" stroke-opacity="0.5" stroke-width="1.5"/>
<rect x="921.2" y="905.95" width="549.7" height="549.9" fill="none" stroke="#707070" stroke-width="1.7"/>
<line x1="921.2" y1="1455.85" x2="921.2" y2="1460.35" stroke="#6a6a6a" stroke-width="1.6"/>
<line x1="1058.62" y1="1455.85" x2="1058.62" y2="1460.35" stroke="#6a6a6a" stroke-width="1.6"/>
<line x1="1196.05" y1="1455.85" x2="1196.05" y2="1460.35" stroke="#6a6a6a" stroke-width="1.6"/>
<line x1="1333.47" y1="1455.85" x2="1333.47" y2="1460.35" stroke="#6a6a6a" stroke-width="1.6"/>
<line x1="1470.9" y1="1455.85" x2="1470.9" y2="1460.35" stroke="#6a6a6a" stroke-width="1.6"/>
<line x1="916.4" y1="1455.85" x2="921.2" y2="1455.85" stroke="#6a6a6a" stroke-width="1.6"/>
<line x1="916.4" y1="1318.38" x2="921.2" y2="1318.38" stroke="#6a6a6a" stroke-width="1.6"/>
<line x1="916.4" y1="1180.9" x2="921.2" y2="1180.9" stroke="#6a6a6a" stroke-width="1.6"/>
<line x1="916.4" y1="1043.42" x2="921.2" y2="1043.42" stroke="#6a6a6a" stroke-width="1.6"/>
<line x1="916.4" y1="905.95" x2="921.2" y2="905.95" stroke="#6a6a6a" stroke-width="1.6"/>
<path d="M921.20,1455.16 L923.96,1455.16 L926.72,1455.16 L929.49,1455.16 L932.25,1455.15 L935.01,1455.14 L937.77,1455.14 L940.54,1455.13 L943.30,1455.11 L946.06,1455.10 L948.82,1455.09 L951.59,1455.07 L954.35,1455.06 L957.11,1455.04 L959.87,1455.02 L962.63,1455.00 L965.40,1454.98 L968.16,1454.96 L970.92,1454.94 L973.68,1454.91 L976.45,1454.89 L979.21,1454.86 L981.97,1454.83 L984.73,1454.80 L987.50,1454.78 L990.26,1454.74 L993.02,1454.71 L995.78,1454.68 L998.54,1454.65 L1001.31,1454.62 L1004.07,1454.58 L1006.83,1454.55 L1009.59,1454.51 L1012.36,1454.47 L1015.12,1454.44 L1017.88,1454.40 L1020.64,1454.36 L1023.41,1454.32 L1026.17,1454.28 L1028.93,1454.24 L1031.69,1454.20 L1034.45,1454.16 L1037.22,1454.12 L1039.98,1454.08 L1042.74,1454.04 L1045.50,1453.99 L1048.27,1453.95 L1051.03,1453.91 L1053.79,1453.86 L1056.55,1453.82 L1059.32,1453.78 L1062.08,1453.73 L1064.84,1453.68 L1067.60,1453.62 L1070.36,1453.56 L1073.13,1453.49 L1075.89,1453.43 L1078.65,1453.35 L1081.41,1453.28 L1084.18,1453.20 L1086.94,1453.11 L1089.70,1453.02 L1092.46,1452.93 L1095.23,1452.84 L1097.99,1452.74 L1100.75,1452.64 L1103.51,1452.54 L1106.27,1452.44 L1109.04,1452.33 L1111.80,1452.22 L1114.56,1452.11 L1117.32,1451.99 L1120.09,1451.88 L1122.85,1451.76 L1125.61,1451.64 L1128.37,1451.52 L1131.14,1451.40 L1133.90,1451.27 L1136.66,1451.15 L1139.42,1451.02 L1142.18,1450.90 L1144.95,1450.77 L1147.71,1450.64 L1150.47,1450.51 L1153.23,1450.38 L1156.00,1450.25 L1158.76,1450.12 L1161.52,1449.99 L1164.28,1449.86 L1167.05,1449.73 L1169.81,1449.61 L1172.57,1449.48 L1175.33,1449.35 L1178.09,1449.22 L1180.86,1449.10 L1183.62,1448.97 L1186.38,1448.85 L1189.14,1448.73 L1191.91,1448.60 L1194.67,1448.49 L1197.43,1448.37 L1200.19,1448.25 L1202.96,1448.12 L1205.72,1448.00 L1208.48,1447.87 L1211.24,1447.75 L1214.01,1447.62 L1216.77,1447.48 L1219.53,1447.35 L1222.29,1447.22 L1225.05,1447.08 L1227.82,1446.94 L1230.58,1446.81 L1233.34,1446.67 L1236.10,1446.53 L1238.87,1446.39 L1241.63,1446.24 L1244.39,1446.10 L1247.15,1445.96 L1249.92,1445.82 L1252.68,1445.68 L1255.44,1445.53 L1258.20,1445.39 L1260.96,1445.25 L1263.73,1445.11 L1266.49,1444.96 L1269.25,1444.82 L1272.01,1444.68 L1274.78,1444.54 L1277.54,1444.40 L1280.30,1444.27 L1283.06,1444.13 L1285.83,1443.99 L1288.59,1443.86 L1291.35,1443.73 L1294.11,1443.60 L1296.87,1443.47 L1299.64,1443.34 L1302.40,1443.21 L1305.16,1443.09 L1307.92,1442.97 L1310.69,1442.85 L1313.45,1442.73 L1316.21,1442.62 L1318.97,1442.51 L1321.74,1442.40 L1324.50,1442.29 L1327.26,1442.19 L1330.02,1442.09 L1332.78,1441.99 L1335.55,1441.89 L1338.31,1441.80 L1341.07,1441.71 L1343.83,1441.61 L1346.60,1441.52 L1349.36,1441.43 L1352.12,1441.34 L1354.88,1441.25 L1357.65,1441.16 L1360.41,1441.07 L1363.17,1440.98 L1365.93,1440.89 L1368.69,1440.80 L1371.46,1440.72 L1374.22,1440.63 L1376.98,1440.55 L1379.74,1440.46 L1382.51,1440.38 L1385.27,1440.30 L1388.03,1440.22 L1390.79,1440.14 L1393.56,1440.06 L1396.32,1439.98 L1399.08,1439.90 L1401.84,1439.82 L1404.60,1439.75 L1407.37,1439.67 L1410.13,1439.60 L1412.89,1439.52 L1415.65,1439.45 L1418.42,1439.38 L1421.18,1439.31 L1423.94,1439.24 L1426.70,1439.17 L1429.47,1439.11 L1432.23,1439.04 L1434.99,1438.98 L1437.75,1438.91 L1440.51,1438.85 L1443.28,1438.79 L1446.04,1438.73 L1448.80,1438.67 L1451.56,1438.62 L1454.33,1438.56 L1457.09,1438.51 L1459.85,1438.45 L1462.61,1438.40 L1465.38,1438.35 L1468.14,1438.30 L1470.90,1438.25" fill="none" stroke="#000000" stroke-width="5.2" stroke-linecap="square" stroke-linejoin="round" clip-path="url(#clipd)"/>
<path d="M921.20,1455.85 L922.30,1455.85 L923.40,1455.85 L924.50,1455.85 L925.61,1455.82 L926.71,1455.75 L927.81,1455.65 L928.91,1455.51 L930.01,1455.33 L931.11,1455.12 L932.22,1454.88 L933.32,1454.60 L934.42,1454.30 L935.52,1453.98 L936.62,1453.62 L937.72,1453.25 L938.83,1452.85 L939.93,1452.42 L941.03,1451.98 L942.13,1451.52 L943.23,1451.04 L944.33,1450.54 L945.44,1450.02 L946.54,1449.49 L947.64,1448.94 L948.74,1448.38 L949.84,1447.81 L950.94,1447.22 L952.04,1446.61 L953.15,1446.00 L954.25,1445.38 L955.35,1444.74 L956.45,1444.09 L957.55,1443.44 L958.65,1442.77 L959.76,1442.09 L960.86,1441.41 L961.96,1440.72 L963.06,1440.02 L964.16,1439.31 L965.26,1438.59 L966.37,1437.87 L967.47,1437.14 L968.57,1436.41 L969.67,1435.67 L970.77,1434.92 L971.87,1434.17 L972.98,1433.41 L974.08,1432.65 L975.18,1431.88 L976.28,1431.10 L977.38,1430.33 L978.48,1429.55 L979.58,1428.76 L980.69,1427.97 L981.79,1427.17 L982.89,1426.38 L983.99,1425.57 L985.09,1424.77 L986.19,1423.96 L987.30,1423.15 L988.40,1422.33 L989.50,1421.51 L990.60,1420.69 L991.70,1419.87 L992.80,1419.04 L993.91,1418.21 L995.01,1417.38 L996.11,1416.55 L997.21,1415.71 L998.31,1414.87 L999.41,1414.03 L1000.52,1413.18 L1001.62,1412.33 L1002.72,1411.48 L1003.82,1410.63 L1004.92,1409.78 L1006.02,1408.93 L1007.13,1408.07 L1008.23,1407.21 L1009.33,1406.35 L1010.43,1405.49 L1011.53,1404.62 L1012.63,1403.75 L1013.73,1402.89 L1014.84,1402.02 L1015.94,1401.14 L1017.04,1400.27 L1018.14,1399.40 L1019.24,1398.52 L1020.34,1397.64 L1021.45,1396.76 L1022.55,1395.88 L1023.65,1395.00 L1024.75,1394.12 L1025.85,1393.23 L1026.95,1392.34 L1028.06,1391.46 L1029.16,1390.57 L1030.26,1389.68 L1031.36,1388.78 L1032.46,1387.89 L1033.56,1387.00 L1034.67,1386.10 L1035.77,1385.20 L1036.87,1384.31 L1037.97,1383.41 L1039.07,1382.51 L1040.17,1381.60 L1041.27,1380.70 L1042.38,1379.80 L1043.48,1378.89 L1044.58,1377.99 L1045.68,1377.08 L1046.78,1376.17 L1047.88,1375.26 L1048.99,1374.35 L1050.09,1373.44 L1051.19,1372.53 L1052.29,1371.61 L1053.39,1370.70 L1054.49,1369.78 L1055.60,1368.87 L1056.70,1367.95 L1057.80,1367.03 L1058.90,1366.11 L1060.00,1365.19 L1061.10,1364.27 L1062.21,1363.35 L1063.31,1362.42 L1064.41,1361.50 L1065.51,1360.57 L1066.61,1359.65 L1067.71,1358.72 L1068.81,1357.79 L1069.92,1356.86 L1071.02,1355.93 L1072.12,1355.00 L1073.22,1354.07 L1074.32,1353.14 L1075.42,1352.21 L1076.53,1351.27 L1077.63,1350.34 L1078.73,1349.40 L1079.83,1348.47 L1080.93,1347.53 L1082.03,1346.59 L1083.14,1345.66 L1084.24,1344.72 L1085.34,1343.78 L1086.44,1342.83 L1087.54,1341.89 L1088.64,1340.95 L1089.75,1340.01 L1090.85,1339.06 L1091.95,1338.12 L1093.05,1337.17 L1094.15,1336.23 L1095.25,1335.28 L1096.35,1334.33 L1097.46,1333.39 L1098.56,1332.44 L1099.66,1331.49 L1100.76,1330.54 L1101.86,1329.59 L1102.96,1328.63 L1104.07,1327.68 L1105.17,1326.73 L1106.27,1325.78 L1107.37,1324.82 L1108.47,1323.87 L1109.57,1322.91 L1110.68,1321.95 L1111.78,1321.00 L1112.88,1320.04 L1113.98,1319.08 L1115.08,1318.12 L1116.18,1317.16 L1117.29,1316.20 L1118.39,1315.24 L1119.49,1314.28 L1120.59,1313.32 L1121.69,1312.36 L1122.79,1311.40 L1123.89,1310.43 L1125.00,1309.47 L1126.10,1308.50 L1127.20,1307.54 L1128.30,1306.57 L1129.40,1305.61 L1130.50,1304.64 L1131.61,1303.67 L1132.71,1302.70 L1133.81,1301.74 L1134.91,1300.77 L1136.01,1299.80 L1137.11,1298.83 L1138.22,1297.86 L1139.32,1296.88 L1140.42,1295.91 L1141.52,1294.94 L1142.62,1293.97 L1143.72,1292.99 L1144.83,1292.02 L1145.93,1291.05 L1147.03,1290.07 L1148.13,1289.10 L1149.23,1288.12 L1150.33,1287.15 L1151.44,1286.17 L1152.54,1285.19 L1153.64,1284.21 L1154.74,1283.24 L1155.84,1282.26 L1156.94,1281.28 L1158.04,1280.30 L1159.15,1279.32 L1160.25,1278.34 L1161.35,1277.36 L1162.45,1276.38 L1163.55,1275.40 L1164.65,1274.41 L1165.76,1273.43 L1166.86,1272.45 L1167.96,1271.47 L1169.06,1270.48 L1170.16,1269.50 L1171.26,1268.51 L1172.37,1267.53 L1173.47,1266.54 L1174.57,1265.56 L1175.67,1264.57 L1176.77,1263.58 L1177.87,1262.60 L1178.98,1261.61 L1180.08,1260.62 L1181.18,1259.63 L1182.28,1258.64 L1183.38,1257.66 L1184.48,1256.67 L1185.58,1255.68 L1186.69,1254.69 L1187.79,1253.70 L1188.89,1252.71 L1189.99,1251.71 L1191.09,1250.72 L1192.19,1249.73 L1193.30,1248.74 L1194.40,1247.75 L1195.50,1246.75 L1196.60,1245.76 L1197.70,1244.77 L1198.80,1243.77 L1199.91,1242.79 L1201.01,1241.84 L1202.11,1240.93 L1203.21,1240.06 L1204.31,1239.23 L1205.41,1238.42 L1206.52,1237.66 L1207.62,1236.92 L1208.72,1236.21 L1209.82,1235.52 L1210.92,1234.86 L1212.02,1234.23 L1213.12,1233.62 L1214.23,1233.03 L1215.33,1232.47 L1216.43,1231.92 L1217.53,1231.39 L1218.63,1230.88 L1219.73,1230.39 L1220.84,1229.92 L1221.94,1229.46 L1223.04,1229.01 L1224.14,1228.58 L1225.24,1228.16 L1226.34,1227.75 L1227.45,1227.36 L1228.55,1226.98 L1229.65,1226.60 L1230.75,1226.24 L1231.85,1225.89 L1232.95,1225.55 L1234.06,1225.22 L1235.16,1224.89 L1236.26,1224.58 L1237.36,1224.27 L1238.46,1223.97 L1239.56,1223.68 L1240.66,1223.39 L1241.77,1223.11 L1242.87,1222.84 L1243.97,1222.57 L1245.07,1222.31 L1246.17,1222.05 L1247.27,1221.80 L1248.38,1221.55 L1249.48,1221.31 L1250.58,1221.07 L1251.68,1220.84 L1252.78,1220.61 L1253.88,1220.39 L1254.99,1220.17 L1256.09,1219.95 L1257.19,1219.74 L1258.29,1219.53 L1259.39,1219.33 L1260.49,1219.12 L1261.60,1218.92 L1262.70,1218.73 L1263.80,1218.54 L1264.90,1218.34 L1266.00,1218.16 L1267.10,1217.97 L1268.21,1217.79 L1269.31,1217.61 L1270.41,1217.43 L1271.51,1217.26 L1272.61,1217.08 L1273.71,1216.91 L1274.81,1216.74 L1275.92,1216.58 L1277.02,1216.41 L1278.12,1216.25 L1279.22,1216.09 L1280.32,1215.93 L1281.42,1215.77 L1282.53,1215.62 L1283.63,1215.47 L1284.73,1215.31 L1285.83,1215.16 L1286.93,1215.01 L1288.03,1214.87 L1289.14,1214.72 L1290.24,1214.58 L1291.34,1214.44 L1292.44,1214.29 L1293.54,1214.15 L1294.64,1214.02 L1295.75,1213.88 L1296.85,1213.74 L1297.95,1213.61 L1299.05,1213.48 L1300.15,1213.34 L1301.25,1213.21 L1302.35,1213.08 L1303.46,1212.96 L1304.56,1212.83 L1305.66,1212.70 L1306.76,1212.58 L1307.86,1212.45 L1308.96,1212.33 L1310.07,1212.21 L1311.17,1212.09 L1312.27,1211.97 L1313.37,1211.85 L1314.47,1211.73 L1315.57,1211.62 L1316.68,1211.50 L1317.78,1211.39 L1318.88,1211.28 L1319.98,1211.16 L1321.08,1211.05 L1322.18,1210.94 L1323.29,1210.83 L1324.39,1210.72 L1325.49,1210.62 L1326.59,1210.51 L1327.69,1210.40 L1328.79,1210.30 L1329.89,1210.19 L1331.00,1210.09 L1332.10,1209.99 L1333.20,1209.89 L1334.30,1209.78 L1335.40,1209.68 L1336.50,1209.59 L1337.61,1209.49 L1338.71,1209.39 L1339.81,1209.29 L1340.91,1209.20 L1342.01,1209.10 L1343.11,1209.01 L1344.22,1208.91 L1345.32,1208.82 L1346.42,1208.73 L1347.52,1208.64 L1348.62,1208.54 L1349.72,1208.45 L1350.83,1208.36 L1351.93,1208.28 L1353.03,1208.19 L1354.13,1208.10 L1355.23,1208.01 L1356.33,1207.93 L1357.43,1207.84 L1358.54,1207.76 L1359.64,1207.67 L1360.74,1207.59 L1361.84,1207.51 L1362.94,1207.43 L1364.04,1207.35 L1365.15,1207.26 L1366.25,1207.18 L1367.35,1207.11 L1368.45,1207.03 L1369.55,1206.95 L1370.65,1206.87 L1371.76,1206.79 L1372.86,1206.72 L1373.96,1206.64 L1375.06,1206.57 L1376.16,1206.49 L1377.26,1206.42 L1378.37,1206.34 L1379.47,1206.27 L1380.57,1206.20 L1381.67,1206.13 L1382.77,1206.06 L1383.87,1205.99 L1384.97,1205.92 L1386.08,1205.85 L1387.18,1205.78 L1388.28,1205.71 L1389.38,1205.64 L1390.48,1205.57 L1391.58,1205.51 L1392.69,1205.44 L1393.79,1205.37 L1394.89,1205.31 L1395.99,1205.24 L1397.09,1205.18 L1398.19,1205.12 L1399.30,1205.05 L1400.40,1204.99 L1401.50,1204.93 L1402.60,1204.86 L1403.70,1204.80 L1404.80,1204.74 L1405.91,1204.68 L1407.01,1204.62 L1408.11,1204.56 L1409.21,1204.50 L1410.31,1204.44 L1411.41,1204.39 L1412.52,1204.33 L1413.62,1204.27 L1414.72,1204.22 L1415.82,1204.16 L1416.92,1204.10 L1418.02,1204.05 L1419.12,1203.99 L1420.23,1203.94 L1421.33,1203.88 L1422.43,1203.83 L1423.53,1203.78 L1424.63,1203.72 L1425.73,1203.67 L1426.84,1203.62 L1427.94,1203.57 L1429.04,1203.52 L1430.14,1203.46 L1431.24,1203.41 L1432.34,1203.36 L1433.45,1203.31 L1434.55,1203.26 L1435.65,1203.22 L1436.75,1203.17 L1437.85,1203.12 L1438.95,1203.07 L1440.06,1203.02 L1441.16,1202.98 L1442.26,1202.93 L1443.36,1202.88 L1444.46,1202.84 L1445.56,1202.79 L1446.66,1202.75 L1447.77,1202.70 L1448.87,1202.66 L1449.97,1202.61 L1451.07,1202.57 L1452.17,1202.52 L1453.27,1202.48 L1454.38,1202.44 L1455.48,1202.40 L1456.58,1202.35 L1457.68,1202.31 L1458.78,1202.27 L1459.88,1202.23 L1460.99,1202.19 L1462.09,1202.15 L1463.19,1202.11 L1464.29,1202.07 L1465.39,1202.03 L1466.49,1201.99 L1467.60,1201.95 L1468.70,1201.91 L1469.80,1201.87 L1470.90,1201.83" fill="none" stroke="#ff0000" stroke-width="5.2" stroke-dasharray="19.1,7.9" stroke-linecap="butt" stroke-linejoin="round" clip-path="url(#clipd)"/>
<path d="M921.20,1455.05 L922.30,1454.71 L923.40,1454.32 L924.50,1453.88 L925.61,1453.39 L926.71,1452.85 L927.81,1452.27 L928.91,1451.64 L930.01,1450.98 L931.11,1450.28 L932.22,1449.54 L933.32,1448.76 L934.42,1447.96 L935.52,1447.12 L936.62,1446.25 L937.72,1445.35 L938.83,1444.42 L939.93,1443.47 L941.03,1442.49 L942.13,1441.48 L943.23,1440.46 L944.33,1439.41 L945.44,1438.34 L946.54,1437.25 L947.64,1436.14 L948.74,1435.01 L949.84,1433.87 L950.94,1432.71 L952.04,1431.53 L953.15,1430.33 L954.25,1429.12 L955.35,1427.90 L956.45,1426.67 L957.55,1425.42 L958.65,1424.15 L959.76,1422.88 L960.86,1421.60 L961.96,1420.30 L963.06,1418.99 L964.16,1417.68 L965.26,1416.35 L966.37,1415.01 L967.47,1413.67 L968.57,1412.32 L969.67,1410.96 L970.77,1409.59 L971.87,1408.21 L972.98,1406.83 L974.08,1405.44 L975.18,1404.04 L976.28,1402.64 L977.38,1401.23 L978.48,1399.82 L979.58,1398.39 L980.69,1396.97 L981.79,1395.54 L982.89,1394.10 L983.99,1392.66 L985.09,1391.21 L986.19,1389.76 L987.30,1388.31 L988.40,1386.85 L989.50,1385.39 L990.60,1383.92 L991.70,1382.45 L992.80,1380.97 L993.91,1379.50 L995.01,1378.02 L996.11,1376.53 L997.21,1375.04 L998.31,1373.55 L999.41,1372.06 L1000.52,1370.56 L1001.62,1369.06 L1002.72,1367.56 L1003.82,1366.06 L1004.92,1364.55 L1006.02,1363.04 L1007.13,1361.53 L1008.23,1360.01 L1009.33,1358.50 L1010.43,1356.98 L1011.53,1355.46 L1012.63,1353.93 L1013.73,1352.41 L1014.84,1350.88 L1015.94,1349.35 L1017.04,1347.82 L1018.14,1346.29 L1019.24,1344.75 L1020.34,1343.22 L1021.45,1341.68 L1022.55,1340.14 L1023.65,1338.60 L1024.75,1337.05 L1025.85,1335.51 L1026.95,1333.96 L1028.06,1332.42 L1029.16,1330.87 L1030.26,1329.32 L1031.36,1327.76 L1032.46,1326.21 L1033.56,1324.66 L1034.67,1323.10 L1035.77,1321.54 L1036.87,1319.98 L1037.97,1318.42 L1039.07,1316.86 L1040.17,1315.30 L1041.27,1313.74 L1042.38,1312.17 L1043.48,1310.61 L1044.58,1309.04 L1045.68,1307.47 L1046.78,1305.90 L1047.88,1304.33 L1048.99,1302.76 L1050.09,1301.19 L1051.19,1299.61 L1052.29,1298.04 L1053.39,1296.46 L1054.49,1294.89 L1055.60,1293.31 L1056.70,1291.73 L1057.80,1290.15 L1058.90,1288.57 L1060.00,1286.99 L1061.10,1285.40 L1062.21,1283.82 L1063.31,1282.24 L1064.41,1280.65 L1065.51,1279.06 L1066.61,1277.48 L1067.71,1275.89 L1068.81,1274.30 L1069.92,1272.71 L1071.02,1271.12 L1072.12,1269.53 L1073.22,1267.93 L1074.32,1266.34 L1075.42,1264.75 L1076.53,1263.15 L1077.63,1261.55 L1078.73,1259.96 L1079.83,1258.36 L1080.93,1256.76 L1082.03,1255.16 L1083.14,1253.56 L1084.24,1251.96 L1085.34,1250.36 L1086.44,1248.76 L1087.54,1247.15 L1088.64,1245.55 L1089.75,1243.95 L1090.85,1242.34 L1091.95,1240.73 L1093.05,1239.13 L1094.15,1237.52 L1095.25,1235.91 L1096.35,1234.30 L1097.46,1232.69 L1098.56,1231.08 L1099.66,1229.47 L1100.76,1227.86 L1101.86,1226.25 L1102.96,1224.63 L1104.07,1223.02 L1105.17,1221.40 L1106.27,1219.79 L1107.37,1218.17 L1108.47,1216.55 L1109.57,1214.94 L1110.68,1213.32 L1111.78,1211.70 L1112.88,1210.08 L1113.98,1208.46 L1115.08,1206.84 L1116.18,1205.22 L1117.29,1203.60 L1118.39,1201.97 L1119.49,1200.35 L1120.59,1198.73 L1121.69,1197.10 L1122.79,1195.48 L1123.89,1193.85 L1125.00,1192.22 L1126.10,1190.60 L1127.20,1188.97 L1128.30,1187.34 L1129.40,1185.71 L1130.50,1184.08 L1131.61,1182.45 L1132.71,1180.82 L1133.81,1179.19 L1134.91,1177.56 L1136.01,1175.92 L1137.11,1174.29 L1138.22,1172.66 L1139.32,1171.02 L1140.42,1169.39 L1141.52,1167.75 L1142.62,1166.12 L1143.72,1164.48 L1144.83,1162.84 L1145.93,1161.20 L1147.03,1159.57 L1148.13,1157.93 L1149.23,1156.29 L1150.33,1154.65 L1151.44,1153.01 L1152.54,1151.37 L1153.64,1149.72 L1154.74,1148.08 L1155.84,1146.44 L1156.94,1144.80 L1158.04,1143.15 L1159.15,1141.51 L1160.25,1139.86 L1161.35,1138.22 L1162.45,1136.57 L1163.55,1134.93 L1164.65,1133.28 L1165.76,1131.63 L1166.86,1129.98 L1167.96,1128.34 L1169.06,1126.69 L1170.16,1125.04 L1171.26,1123.39 L1172.37,1121.74 L1173.47,1120.09 L1174.57,1118.43 L1175.67,1116.78 L1176.77,1115.13 L1177.87,1113.48 L1178.98,1111.82 L1180.08,1110.17 L1181.18,1108.52 L1182.28,1106.86 L1183.38,1105.21 L1184.48,1103.55 L1185.58,1101.89 L1186.69,1100.24 L1187.79,1098.58 L1188.89,1096.92 L1189.99,1095.27 L1191.09,1093.62 L1192.19,1092.02 L1193.30,1090.49 L1194.40,1089.03 L1195.50,1087.62 L1196.60,1086.27 L1197.70,1084.98 L1198.80,1083.73 L1199.91,1082.54 L1201.01,1081.39 L1202.11,1080.29 L1203.21,1079.23 L1204.31,1078.21 L1205.41,1077.23 L1206.52,1076.28 L1207.62,1075.37 L1208.72,1074.50 L1209.82,1073.66 L1210.92,1072.85 L1212.02,1072.06 L1213.12,1071.31 L1214.23,1070.58 L1215.33,1069.88 L1216.43,1069.21 L1217.53,1068.55 L1218.63,1067.92 L1219.73,1067.31 L1220.84,1066.72 L1221.94,1066.15 L1223.04,1065.60 L1224.14,1065.06 L1225.24,1064.55 L1226.34,1064.05 L1227.45,1063.56 L1228.55,1063.09 L1229.65,1062.63 L1230.75,1062.19 L1231.85,1061.76 L1232.95,1061.34 L1234.06,1060.93 L1235.16,1060.54 L1236.26,1060.15 L1237.36,1059.78 L1238.46,1059.42 L1239.56,1059.06 L1240.66,1058.71 L1241.77,1058.38 L1242.87,1058.05 L1243.97,1057.73 L1245.07,1057.41 L1246.17,1057.11 L1247.27,1056.81 L1248.38,1056.52 L1249.48,1056.23 L1250.58,1055.95 L1251.68,1055.68 L1252.78,1055.41 L1253.88,1055.15 L1254.99,1054.89 L1256.09,1054.64 L1257.19,1054.39 L1258.29,1054.15 L1259.39,1053.91 L1260.49,1053.67 L1261.60,1053.44 L1262.70,1053.22 L1263.80,1052.99 L1264.90,1052.78 L1266.00,1052.56 L1267.10,1052.35 L1268.21,1052.14 L1269.31,1051.93 L1270.41,1051.73 L1271.51,1051.53 L1272.61,1051.33 L1273.71,1051.14 L1274.81,1050.95 L1275.92,1050.76 L1277.02,1050.57 L1278.12,1050.39 L1279.22,1050.21 L1280.32,1050.03 L1281.42,1049.85 L1282.53,1049.67 L1283.63,1049.50 L1284.73,1049.33 L1285.83,1049.16 L1286.93,1048.99 L1288.03,1048.83 L1289.14,1048.66 L1290.24,1048.50 L1291.34,1048.34 L1292.44,1048.18 L1293.54,1048.02 L1294.64,1047.86 L1295.75,1047.71 L1296.85,1047.56 L1297.95,1047.40 L1299.05,1047.25 L1300.15,1047.10 L1301.25,1046.96 L1302.35,1046.81 L1303.46,1046.66 L1304.56,1046.52 L1305.66,1046.37 L1306.76,1046.23 L1307.86,1046.09 L1308.96,1045.95 L1310.07,1045.81 L1311.17,1045.67 L1312.27,1045.54 L1313.37,1045.40 L1314.47,1045.27 L1315.57,1045.13 L1316.68,1045.00 L1317.78,1044.87 L1318.88,1044.74 L1319.98,1044.61 L1321.08,1044.48 L1322.18,1044.35 L1323.29,1044.22 L1324.39,1044.09 L1325.49,1043.97 L1326.59,1043.84 L1327.69,1043.72 L1328.79,1043.60 L1329.89,1043.47 L1331.00,1043.35 L1332.10,1043.23 L1333.20,1043.11 L1334.30,1042.99 L1335.40,1042.87 L1336.50,1042.75 L1337.61,1042.63 L1338.71,1042.52 L1339.81,1042.40 L1340.91,1042.29 L1342.01,1042.17 L1343.11,1042.06 L1344.22,1041.94 L1345.32,1041.83 L1346.42,1041.72 L1347.52,1041.61 L1348.62,1041.50 L1349.72,1041.39 L1350.83,1041.28 L1351.93,1041.17 L1353.03,1041.06 L1354.13,1040.95 L1355.23,1040.84 L1356.33,1040.74 L1357.43,1040.63 L1358.54,1040.53 L1359.64,1040.42 L1360.74,1040.32 L1361.84,1040.21 L1362.94,1040.11 L1364.04,1040.01 L1365.15,1039.91 L1366.25,1039.80 L1367.35,1039.70 L1368.45,1039.60 L1369.55,1039.50 L1370.65,1039.40 L1371.76,1039.31 L1372.86,1039.21 L1373.96,1039.11 L1375.06,1039.01 L1376.16,1038.92 L1377.26,1038.82 L1378.37,1038.72 L1379.47,1038.63 L1380.57,1038.53 L1381.67,1038.44 L1382.77,1038.35 L1383.87,1038.25 L1384.97,1038.16 L1386.08,1038.07 L1387.18,1037.98 L1388.28,1037.89 L1389.38,1037.80 L1390.48,1037.71 L1391.58,1037.62 L1392.69,1037.53 L1393.79,1037.44 L1394.89,1037.35 L1395.99,1037.26 L1397.09,1037.17 L1398.19,1037.09 L1399.30,1037.00 L1400.40,1036.91 L1401.50,1036.83 L1402.60,1036.74 L1403.70,1036.66 L1404.80,1036.58 L1405.91,1036.49 L1407.01,1036.41 L1408.11,1036.33 L1409.21,1036.24 L1410.31,1036.16 L1411.41,1036.08 L1412.52,1036.00 L1413.62,1035.92 L1414.72,1035.84 L1415.82,1035.76 L1416.92,1035.68 L1418.02,1035.60 L1419.12,1035.52 L1420.23,1035.44 L1421.33,1035.36 L1422.43,1035.29 L1423.53,1035.21 L1424.63,1035.13 L1425.73,1035.06 L1426.84,1034.98 L1427.94,1034.90 L1429.04,1034.83 L1430.14,1034.75 L1431.24,1034.68 L1432.34,1034.61 L1433.45,1034.53 L1434.55,1034.46 L1435.65,1034.39 L1436.75,1034.31 L1437.85,1034.24 L1438.95,1034.17 L1440.06,1034.10 L1441.16,1034.03 L1442.26,1033.96 L1443.36,1033.89 L1444.46,1033.82 L1445.56,1033.75 L1446.66,1033.68 L1447.77,1033.61 L1448.87,1033.54 L1449.97,1033.47 L1451.07,1033.41 L1452.17,1033.34 L1453.27,1033.27 L1454.38,1033.20 L1455.48,1033.14 L1456.58,1033.07 L1457.68,1033.01 L1458.78,1032.94 L1459.88,1032.88 L1460.99,1032.81 L1462.09,1032.75 L1463.19,1032.68 L1464.29,1032.62 L1465.39,1032.56 L1466.49,1032.49 L1467.60,1032.43 L1468.70,1032.37 L1469.80,1032.31 L1470.90,1032.24" fill="none" stroke="#0000ff" stroke-width="5.2" stroke-dasharray="5.3,4.9" stroke-linecap="butt" stroke-linejoin="round" clip-path="url(#clipd)"/>
<text transform="translate(907.42,1512.95) scale(0.9978,1)" font-size="48.8">0</text>
<text transform="translate(1045.92,1512.95) scale(0.9196,1)" font-size="48.8">5</text>
<text transform="translate(1168.18,1512.95) scale(0.9610,1)" font-size="48.8">1</text>
<text transform="translate(1196.84,1512.95) scale(0.9978,1)" font-size="48.8">0</text>
<text transform="translate(1305.61,1512.95) scale(0.9610,1)" font-size="48.8">1</text>
<text transform="translate(1335.34,1512.95) scale(0.9196,1)" font-size="48.8">5</text>
<text transform="translate(1442.61,1512.95) scale(0.9596,1)" font-size="48.8">2</text>
<text transform="translate(1471.69,1512.95) scale(0.9978,1)" font-size="48.8">0</text>
<text transform="translate(869.34,1472.85) scale(0.9978,1)" font-size="48.8">0</text>
<text transform="translate(869.41,1335.38) scale(0.9596,1)" font-size="48.8">2</text>
<text transform="translate(869.88,1197.9) scale(0.9760,1)" font-size="48.8">4</text>
<text transform="translate(869.26,1060.42) scale(1.0208,1)" font-size="48.8">6</text>
<text transform="translate(869.8,922.95) scale(0.9991,1)" font-size="48.8">8</text>
<text transform="translate(922.85,902.75) scale(0.9610,1)" font-size="48.8">1</text>
<text transform="translate(951.01,902.75) scale(1.0191,1)" font-size="48.8">e</text>
<text transform="translate(980.55,902.75) scale(1.2075,1)" font-size="48.8">−</text>
<text transform="translate(1018.65,902.75) scale(0.9760,1)" font-size="48.8">4</text>
<text transform="translate(1087.52,1562.35) scale(1.0050,1)" font-size="48.8">T</text>
<text transform="translate(1115.84,1562.35) scale(1.0084,1)" font-size="48.8">i</text>
<text transform="translate(1128.27,1562.35) scale(1.0733,1)" font-size="48.8">m</text>
<text transform="translate(1172.76,1562.35) scale(1.0191,1)" font-size="48.8">e</text>
<text transform="translate(1215.33,1562.35) scale(1.0084,1)" font-size="48.8">[</text>
<text transform="translate(1234.3,1562.35) scale(1.0004,1)" font-size="48.8">p</text>
<text transform="translate(1263.14,1562.35) scale(0.9173,1)" font-size="48.8">s</text>
<text transform="translate(1290.05,1562.35) scale(1.0084,1)" font-size="48.8">]</text>
<text transform="translate(852.7,1376.15) rotate(-90) translate(-3.48,0) scale(0.8914,1)" font-size="48.8">R</text>
<text transform="translate(852.7,1376.15) rotate(-90) translate(25.5,0) scale(1.0191,1)" font-size="48.8">e</text>
<text transform="translate(852.7,1376.15) rotate(-90) translate(54.35,0) scale(0.9720,1)" font-size="48.8">l</text>
<text transform="translate(852.7,1376.15) rotate(-90) translate(66.82,0) scale(0.9720,1)" font-size="48.8">.</text>
<text transform="translate(852.7,1376.15) rotate(-90) translate(95.52,0) scale(1.0435,1)" font-size="48.8">d</text>
<text transform="translate(852.7,1376.15) rotate(-90) translate(124.7,0) scale(0.9978,1)" font-size="48.8">o</text>
<text transform="translate(852.7,1376.15) rotate(-90) translate(153.34,0) scale(0.9173,1)" font-size="48.8">s</text>
<text transform="translate(852.7,1376.15) rotate(-90) translate(176.58,0) scale(1.0191,1)" font-size="48.8">e</text>
<text transform="translate(852.7,1376.15) rotate(-90) translate(219.45,0) scale(0.9720,1)" font-size="48.8">[</text>
<text transform="translate(852.7,1376.15) rotate(-90) translate(237.45,0) scale(0.9102,1)" font-size="48.8">G</text>
<text transform="translate(852.7,1376.15) rotate(-90) translate(273.81,0) scale(0.9955,1)" font-size="48.8">y</text>
<text transform="translate(852.7,1376.15) rotate(-90) translate(299.55,0) scale(1.1404,1)" font-size="48.8">/</text>
<text transform="translate(852.7,1376.15) rotate(-90) translate(316.19,0) scale(1.0004,1)" font-size="48.8">p</text>
<text transform="translate(852.7,1376.15) rotate(-90) translate(344.69,0) scale(0.8795,1)" font-size="48.8">C</text>
<text transform="translate(852.7,1376.15) rotate(-90) translate(380.26,0) scale(0.9720,1)" font-size="48.8">]</text>
<rect x="936.9" y="921.35" width="254.4" height="150.6" rx="5" ry="5" fill="#ffffff" fill-opacity="0.8" stroke="#dcdcdc" stroke-width="1.3"/>
<line x1="949.2" y1="947.85" x2="1013.6" y2="947.85" stroke="#000" stroke-width="5.2" stroke-linecap="square"/>
<text transform="translate(1039.44,959.85) scale(0.9185,1)" font-size="34.2">5</text>
<text transform="translate(1059.1,959.85) scale(0.9966,1)" font-size="34.2">0</text>
<text transform="translate(1089.79,959.85) scale(0.9380,1)" font-size="34.2">M</text>
<text transform="translate(1117.04,959.85) scale(1.0178,1)" font-size="34.2">e</text>
<text transform="translate(1136.55,959.85) scale(0.9669,1)" font-size="34.2">V</text>
<line x1="949" y1="994.65" x2="1013.3" y2="994.65" stroke="#ff0000" stroke-width="5.2" stroke-dasharray="19.1,7.9"/>
<text transform="translate(1039.04,1006.65) scale(0.9598,1)" font-size="34.2">1</text>
<text transform="translate(1059.85,1006.65) scale(0.9185,1)" font-size="34.2">5</text>
<text transform="translate(1079.51,1006.65) scale(0.9966,1)" font-size="34.2">0</text>
<text transform="translate(1110.2,1006.65) scale(0.9380,1)" font-size="34.2">M</text>
<text transform="translate(1137.45,1006.65) scale(1.0178,1)" font-size="34.2">e</text>
<text transform="translate(1156.97,1006.65) scale(0.9669,1)" font-size="34.2">V</text>
<line x1="949" y1="1041.45" x2="1013.3" y2="1041.45" stroke="#0000ff" stroke-width="5.2" stroke-dasharray="5.3,4.9"/>
<text transform="translate(1038.74,1053.45) scale(0.9584,1)" font-size="34.2">2</text>
<text transform="translate(1059.85,1053.45) scale(0.9185,1)" font-size="34.2">5</text>
<text transform="translate(1079.51,1053.45) scale(0.9966,1)" font-size="34.2">0</text>
<text transform="translate(1110.2,1053.45) scale(0.9380,1)" font-size="34.2">M</text>
<text transform="translate(1137.45,1053.45) scale(1.0178,1)" font-size="34.2">e</text>
<text transform="translate(1156.97,1053.45) scale(0.9669,1)" font-size="34.2">V</text>
<text transform="translate(1002.05,1660.05) scale(0.9381,1.097)" font-family="Liberation Serif" font-size="49.2" stroke="#fff" stroke-width="0.4">(</text>
<text transform="translate(1047.22,1660.05) scale(0.9381,1.097)" font-family="Liberation Serif" font-size="49.2" stroke="#fff" stroke-width="0.4">)</text>
<text transform="translate(1017.54,1659.05) scale(1.15,1)" font-family="Liberation Serif" font-size="49.2" stroke="#fff" stroke-width="0.5">d</text>
<text transform="translate(1084.2,1659.05) skewX(-5.0) scale(1.2158,1.05)" font-family="Liberation Serif" font-style="italic" font-size="49.2" stroke="#fff" stroke-width="0.3">Z</text>
<rect x="1139.5" y="1639.45" width="32.7" height="2.2" fill="#000"/>
<rect x="1139.5" y="1651.05" width="32.7" height="2.2" fill="#000"/>
<text transform="translate(1189.51,1659.05) scale(1.0139,1)" font-family="Liberation Serif" font-size="49.2" stroke="#fff" stroke-width="0.5">18</text>
<text transform="translate(1254.97,1659.05) scale(1.0302,1)" font-family="Liberation Serif" font-size="49.2" stroke="#fff" stroke-width="0.5">cm</text>
<line x1="243.43" y1="1773" x2="243.43" y2="2322.9" stroke="#b0b0b0" stroke-opacity="0.5" stroke-width="1.5"/>
<line x1="380.85" y1="1773" x2="380.85" y2="2322.9" stroke="#b0b0b0" stroke-opacity="0.5" stroke-width="1.5"/>
<line x1="518.27" y1="1773" x2="518.27" y2="2322.9" stroke="#b0b0b0" stroke-opacity="0.5" stroke-width="1.5"/>
<line x1="106" y1="2185.43" x2="655.7" y2="2185.43" stroke="#b0b0b0" stroke-opacity="0.5" stroke-width="1.5"/>
<line x1="106" y1="2047.95" x2="655.7" y2="2047.95" stroke="#b0b0b0" stroke-opacity="0.5" stroke-width="1.5"/>
<line x1="106" y1="1910.48" x2="655.7" y2="1910.48" stroke="#b0b0b0" stroke-opacity="0.5" stroke-width="1.5"/>
<rect x="106" y="1773" width="549.7" height="549.9" fill="none" stroke="#707070" stroke-width="1.7"/>
<line x1="106" y1="2322.9" x2="106" y2="2327.4" stroke="#6a6a6a" stroke-width="1.6"/>
<line x1="243.43" y1="2322.9" x2="243.43" y2="2327.4" stroke="#6a6a6a" stroke-width="1.6"/>
<line x1="380.85" y1="2322.9" x2="380.85" y2="2327.4" stroke="#6a6a6a" stroke-width="1.6"/>
<line x1="518.27" y1="2322.9" x2="518.27" y2="2327.4" stroke="#6a6a6a" stroke-width="1.6"/>
<line x1="655.7" y1="2322.9" x2="655.7" y2="2327.4" stroke="#6a6a6a" stroke-width="1.6"/>
<line x1="101.2" y1="2322.9" x2="106" y2="2322.9" stroke="#6a6a6a" stroke-width="1.6"/>
<line x1="101.2" y1="2185.43" x2="106" y2="2185.43" stroke="#6a6a6a" stroke-width="1.6"/>
<line x1="101.2" y1="2047.95" x2="106" y2="2047.95" stroke="#6a6a6a" stroke-width="1.6"/>
<line x1="101.2" y1="1910.48" x2="106" y2="1910.48" stroke="#6a6a6a" stroke-width="1.6"/>
<line x1="101.2" y1="1773" x2="106" y2="1773" stroke="#6a6a6a" stroke-width="1.6"/>
<path d="M106.00,2322.90 L108.76,2322.88 L111.52,2322.87 L114.29,2322.85 L117.05,2322.84 L119.81,2322.82 L122.57,2322.81 L125.34,2322.79 L128.10,2322.78 L130.86,2322.76 L133.62,2322.75 L136.39,2322.73 L139.15,2322.72 L141.91,2322.70 L144.67,2322.69 L147.43,2322.67 L150.20,2322.66 L152.96,2322.64 L155.72,2322.63 L158.48,2322.61 L161.25,2322.60 L164.01,2322.58 L166.77,2322.57 L169.53,2322.55 L172.30,2322.54 L175.06,2322.52 L177.82,2322.51 L180.58,2322.49 L183.34,2322.48 L186.11,2322.46 L188.87,2322.45 L191.63,2322.43 L194.39,2322.42 L197.16,2322.40 L199.92,2322.39 L202.68,2322.38 L205.44,2322.36 L208.21,2322.35 L210.97,2322.33 L213.73,2322.32 L216.49,2322.30 L219.25,2322.29 L222.02,2322.28 L224.78,2322.26 L227.54,2322.25 L230.30,2322.23 L233.07,2322.22 L235.83,2322.20 L238.59,2322.19 L241.35,2322.18 L244.12,2322.16 L246.88,2322.15 L249.64,2322.14 L252.40,2322.12 L255.16,2322.11 L257.93,2322.09 L260.69,2322.08 L263.45,2322.07 L266.21,2322.05 L268.98,2322.04 L271.74,2322.03 L274.50,2322.01 L277.26,2322.00 L280.03,2321.99 L282.79,2321.97 L285.55,2321.96 L288.31,2321.95 L291.07,2321.93 L293.84,2321.92 L296.60,2321.91 L299.36,2321.89 L302.12,2321.88 L304.89,2321.87 L307.65,2321.85 L310.41,2321.84 L313.17,2321.83 L315.94,2321.82 L318.70,2321.80 L321.46,2321.79 L324.22,2321.78 L326.98,2321.76 L329.75,2321.75 L332.51,2321.74 L335.27,2321.73 L338.03,2321.71 L340.80,2321.70 L343.56,2321.69 L346.32,2321.68 L349.08,2321.66 L351.85,2321.65 L354.61,2321.64 L357.37,2321.63 L360.13,2321.62 L362.89,2321.60 L365.66,2321.59 L368.42,2321.58 L371.18,2321.57 L373.94,2321.55 L376.71,2321.54 L379.47,2321.53 L382.23,2321.52 L384.99,2321.51 L387.76,2321.50 L390.52,2321.48 L393.28,2321.47 L396.04,2321.46 L398.81,2321.45 L401.57,2321.44 L404.33,2321.43 L407.09,2321.41 L409.85,2321.40 L412.62,2321.39 L415.38,2321.38 L418.14,2321.37 L420.90,2321.36 L423.67,2321.34 L426.43,2321.33 L429.19,2321.32 L431.95,2321.31 L434.72,2321.30 L437.48,2321.29 L440.24,2321.28 L443.00,2321.27 L445.76,2321.25 L448.53,2321.24 L451.29,2321.23 L454.05,2321.22 L456.81,2321.21 L459.58,2321.20 L462.34,2321.19 L465.10,2321.18 L467.86,2321.17 L470.63,2321.15 L473.39,2321.14 L476.15,2321.13 L478.91,2321.12 L481.67,2321.11 L484.44,2321.10 L487.20,2321.09 L489.96,2321.08 L492.72,2321.07 L495.49,2321.06 L498.25,2321.05 L501.01,2321.04 L503.77,2321.02 L506.54,2321.01 L509.30,2321.00 L512.06,2320.99 L514.82,2320.98 L517.58,2320.97 L520.35,2320.96 L523.11,2320.95 L525.87,2320.94 L528.63,2320.93 L531.40,2320.92 L534.16,2320.91 L536.92,2320.90 L539.68,2320.89 L542.45,2320.88 L545.21,2320.87 L547.97,2320.86 L550.73,2320.85 L553.49,2320.84 L556.26,2320.83 L559.02,2320.82 L561.78,2320.81 L564.54,2320.80 L567.31,2320.79 L570.07,2320.78 L572.83,2320.77 L575.59,2320.76 L578.36,2320.75 L581.12,2320.74 L583.88,2320.73 L586.64,2320.72 L589.40,2320.71 L592.17,2320.70 L594.93,2320.69 L597.69,2320.68 L600.45,2320.67 L603.22,2320.67 L605.98,2320.66 L608.74,2320.65 L611.50,2320.64 L614.27,2320.63 L617.03,2320.62 L619.79,2320.61 L622.55,2320.60 L625.31,2320.59 L628.08,2320.58 L630.84,2320.57 L633.60,2320.56 L636.36,2320.56 L639.13,2320.55 L641.89,2320.54 L644.65,2320.53 L647.41,2320.52 L650.18,2320.51 L652.94,2320.50 L655.70,2320.49" fill="none" stroke="#000000" stroke-width="5.2" stroke-linecap="square" stroke-linejoin="round" clip-path="url(#clipe)"/>
<path d="M106.00,2322.65 L107.10,2322.62 L108.20,2322.59 L109.30,2322.56 L110.41,2322.53 L111.51,2322.49 L112.61,2322.46 L113.71,2322.41 L114.81,2322.37 L115.91,2322.32 L117.02,2322.27 L118.12,2322.21 L119.22,2322.16 L120.32,2322.09 L121.42,2322.03 L122.52,2321.95 L123.63,2321.88 L124.73,2321.80 L125.83,2321.71 L126.93,2321.62 L128.03,2321.52 L129.13,2321.42 L130.24,2321.32 L131.34,2321.20 L132.44,2321.09 L133.54,2320.96 L134.64,2320.83 L135.74,2320.69 L136.84,2320.55 L137.95,2320.40 L139.05,2320.25 L140.15,2320.09 L141.25,2319.92 L142.35,2319.74 L143.45,2319.56 L144.56,2319.37 L145.66,2319.17 L146.76,2318.97 L147.86,2318.76 L148.96,2318.55 L150.06,2318.32 L151.17,2318.09 L152.27,2317.86 L153.37,2317.62 L154.47,2317.37 L155.57,2317.11 L156.67,2316.85 L157.78,2316.58 L158.88,2316.30 L159.98,2316.02 L161.08,2315.74 L162.18,2315.44 L163.28,2315.15 L164.38,2314.84 L165.49,2314.53 L166.59,2314.22 L167.69,2313.90 L168.79,2313.58 L169.89,2313.25 L170.99,2312.91 L172.10,2312.57 L173.20,2312.23 L174.30,2311.88 L175.40,2311.53 L176.50,2311.18 L177.60,2310.82 L178.71,2310.46 L179.81,2310.09 L180.91,2309.72 L182.01,2309.35 L183.11,2308.98 L184.21,2308.60 L185.32,2308.22 L186.42,2307.83 L187.52,2307.45 L188.62,2307.06 L189.72,2306.67 L190.82,2306.28 L191.93,2305.88 L193.03,2305.49 L194.13,2305.09 L195.23,2304.69 L196.33,2304.29 L197.43,2303.88 L198.53,2303.48 L199.64,2303.07 L200.74,2302.66 L201.84,2302.25 L202.94,2301.84 L204.04,2301.43 L205.14,2301.02 L206.25,2300.60 L207.35,2300.19 L208.45,2299.77 L209.55,2299.35 L210.65,2298.94 L211.75,2298.52 L212.86,2298.10 L213.96,2297.67 L215.06,2297.25 L216.16,2296.83 L217.26,2296.40 L218.36,2295.98 L219.47,2295.55 L220.57,2295.13 L221.67,2294.70 L222.77,2294.27 L223.87,2293.84 L224.97,2293.41 L226.07,2292.98 L227.18,2292.55 L228.28,2292.12 L229.38,2291.69 L230.48,2291.25 L231.58,2290.82 L232.68,2290.38 L233.79,2289.95 L234.89,2289.51 L235.99,2289.07 L237.09,2288.64 L238.19,2288.20 L239.29,2287.76 L240.40,2287.32 L241.50,2286.88 L242.60,2286.44 L243.70,2286.00 L244.80,2285.56 L245.90,2285.11 L247.01,2284.67 L248.11,2284.23 L249.21,2283.78 L250.31,2283.34 L251.41,2282.89 L252.51,2282.45 L253.61,2282.00 L254.72,2281.55 L255.82,2281.10 L256.92,2280.66 L258.02,2280.21 L259.12,2279.76 L260.22,2279.31 L261.33,2278.86 L262.43,2278.41 L263.53,2277.95 L264.63,2277.50 L265.73,2277.05 L266.83,2276.60 L267.94,2276.14 L269.04,2275.69 L270.14,2275.23 L271.24,2274.78 L272.34,2274.32 L273.44,2273.86 L274.55,2273.41 L275.65,2272.95 L276.75,2272.49 L277.85,2272.03 L278.95,2271.58 L280.05,2271.12 L281.15,2270.66 L282.26,2270.20 L283.36,2269.73 L284.46,2269.27 L285.56,2268.81 L286.66,2268.35 L287.76,2267.89 L288.87,2267.42 L289.97,2266.96 L291.07,2266.50 L292.17,2266.03 L293.27,2265.57 L294.37,2265.10 L295.48,2264.64 L296.58,2264.17 L297.68,2263.70 L298.78,2263.24 L299.88,2262.77 L300.98,2262.30 L302.09,2261.83 L303.19,2261.36 L304.29,2260.89 L305.39,2260.43 L306.49,2259.96 L307.59,2259.49 L308.69,2259.01 L309.80,2258.54 L310.90,2258.07 L312.00,2257.60 L313.10,2257.13 L314.20,2256.66 L315.30,2256.18 L316.41,2255.71 L317.51,2255.23 L318.61,2254.76 L319.71,2254.29 L320.81,2253.81 L321.91,2253.34 L323.02,2252.86 L324.12,2252.38 L325.22,2251.91 L326.32,2251.43 L327.42,2250.95 L328.52,2250.48 L329.63,2250.00 L330.73,2249.52 L331.83,2249.04 L332.93,2248.57 L334.03,2248.09 L335.13,2247.61 L336.24,2247.13 L337.34,2246.65 L338.44,2246.17 L339.54,2245.69 L340.64,2245.21 L341.74,2244.73 L342.84,2244.24 L343.95,2243.76 L345.05,2243.28 L346.15,2242.80 L347.25,2242.32 L348.35,2241.84 L349.45,2241.35 L350.56,2240.87 L351.66,2240.39 L352.76,2239.91 L353.86,2239.42 L354.96,2238.94 L356.06,2238.46 L357.17,2237.97 L358.27,2237.49 L359.37,2237.01 L360.47,2236.53 L361.57,2236.04 L362.67,2235.56 L363.78,2235.08 L364.88,2234.60 L365.98,2234.12 L367.08,2233.64 L368.18,2233.16 L369.28,2232.68 L370.38,2232.20 L371.49,2231.72 L372.59,2231.24 L373.69,2230.77 L374.79,2230.29 L375.89,2229.82 L376.99,2229.35 L378.10,2228.87 L379.20,2228.40 L380.30,2227.94 L381.40,2227.47 L382.50,2227.01 L383.60,2226.54 L384.71,2226.08 L385.81,2225.63 L386.91,2225.17 L388.01,2224.72 L389.11,2224.27 L390.21,2223.82 L391.32,2223.38 L392.42,2222.94 L393.52,2222.50 L394.62,2222.07 L395.72,2221.64 L396.82,2221.21 L397.92,2220.79 L399.03,2220.38 L400.13,2219.97 L401.23,2219.56 L402.33,2219.16 L403.43,2218.76 L404.53,2218.37 L405.64,2217.98 L406.74,2217.60 L407.84,2217.22 L408.94,2216.85 L410.04,2216.49 L411.14,2216.13 L412.25,2215.78 L413.35,2215.44 L414.45,2215.10 L415.55,2214.77 L416.65,2214.44 L417.75,2214.12 L418.86,2213.81 L419.96,2213.50 L421.06,2213.20 L422.16,2212.91 L423.26,2212.62 L424.36,2212.34 L425.46,2212.07 L426.57,2211.80 L427.67,2211.54 L428.77,2211.29 L429.87,2211.04 L430.97,2210.80 L432.07,2210.56 L433.18,2210.34 L434.28,2210.11 L435.38,2209.90 L436.48,2209.68 L437.58,2209.48 L438.68,2209.28 L439.79,2209.08 L440.89,2208.89 L441.99,2208.71 L443.09,2208.53 L444.19,2208.35 L445.29,2208.18 L446.40,2208.01 L447.50,2207.85 L448.60,2207.69 L449.70,2207.54 L450.80,2207.39 L451.90,2207.24 L453.01,2207.10 L454.11,2206.96 L455.21,2206.82 L456.31,2206.69 L457.41,2206.56 L458.51,2206.43 L459.61,2206.31 L460.72,2206.18 L461.82,2206.06 L462.92,2205.95 L464.02,2205.83 L465.12,2205.72 L466.22,2205.60 L467.33,2205.49 L468.43,2205.39 L469.53,2205.28 L470.63,2205.18 L471.73,2205.07 L472.83,2204.97 L473.94,2204.87 L475.04,2204.77 L476.14,2204.67 L477.24,2204.58 L478.34,2204.48 L479.44,2204.39 L480.55,2204.30 L481.65,2204.20 L482.75,2204.11 L483.85,2204.02 L484.95,2203.93 L486.05,2203.85 L487.15,2203.76 L488.26,2203.67 L489.36,2203.59 L490.46,2203.50 L491.56,2203.42 L492.66,2203.33 L493.76,2203.25 L494.87,2203.17 L495.97,2203.09 L497.07,2203.01 L498.17,2202.93 L499.27,2202.85 L500.37,2202.77 L501.48,2202.69 L502.58,2202.61 L503.68,2202.54 L504.78,2202.46 L505.88,2202.38 L506.98,2202.31 L508.09,2202.23 L509.19,2202.16 L510.29,2202.09 L511.39,2202.02 L512.49,2201.94 L513.59,2201.87 L514.69,2201.80 L515.80,2201.73 L516.90,2201.66 L518.00,2201.59 L519.10,2201.52 L520.20,2201.45 L521.30,2201.39 L522.41,2201.32 L523.51,2201.25 L524.61,2201.18 L525.71,2201.12 L526.81,2201.05 L527.91,2200.99 L529.02,2200.92 L530.12,2200.86 L531.22,2200.80 L532.32,2200.73 L533.42,2200.67 L534.52,2200.61 L535.63,2200.55 L536.73,2200.49 L537.83,2200.43 L538.93,2200.37 L540.03,2200.31 L541.13,2200.25 L542.23,2200.19 L543.34,2200.13 L544.44,2200.07 L545.54,2200.02 L546.64,2199.96 L547.74,2199.90 L548.84,2199.85 L549.95,2199.79 L551.05,2199.73 L552.15,2199.68 L553.25,2199.63 L554.35,2199.57 L555.45,2199.52 L556.56,2199.46 L557.66,2199.41 L558.76,2199.36 L559.86,2199.31 L560.96,2199.26 L562.06,2199.20 L563.17,2199.15 L564.27,2199.10 L565.37,2199.05 L566.47,2199.00 L567.57,2198.95 L568.67,2198.90 L569.77,2198.86 L570.88,2198.81 L571.98,2198.76 L573.08,2198.71 L574.18,2198.67 L575.28,2198.62 L576.38,2198.57 L577.49,2198.53 L578.59,2198.48 L579.69,2198.43 L580.79,2198.39 L581.89,2198.34 L582.99,2198.30 L584.10,2198.26 L585.20,2198.21 L586.30,2198.17 L587.40,2198.13 L588.50,2198.08 L589.60,2198.04 L590.71,2198.00 L591.81,2197.96 L592.91,2197.92 L594.01,2197.87 L595.11,2197.83 L596.21,2197.79 L597.32,2197.75 L598.42,2197.71 L599.52,2197.67 L600.62,2197.63 L601.72,2197.60 L602.82,2197.56 L603.92,2197.52 L605.03,2197.48 L606.13,2197.44 L607.23,2197.40 L608.33,2197.37 L609.43,2197.33 L610.53,2197.29 L611.64,2197.26 L612.74,2197.22 L613.84,2197.18 L614.94,2197.15 L616.04,2197.11 L617.14,2197.08 L618.25,2197.04 L619.35,2197.01 L620.45,2196.98 L621.55,2196.94 L622.65,2196.91 L623.75,2196.87 L624.86,2196.84 L625.96,2196.81 L627.06,2196.77 L628.16,2196.74 L629.26,2196.71 L630.36,2196.68 L631.46,2196.65 L632.57,2196.61 L633.67,2196.58 L634.77,2196.55 L635.87,2196.52 L636.97,2196.49 L638.07,2196.46 L639.18,2196.43 L640.28,2196.40 L641.38,2196.37 L642.48,2196.34 L643.58,2196.31 L644.68,2196.28 L645.79,2196.25 L646.89,2196.23 L647.99,2196.20 L649.09,2196.17 L650.19,2196.14 L651.29,2196.11 L652.40,2196.09 L653.50,2196.06 L654.60,2196.03 L655.70,2196.00" fill="none" stroke="#ff0000" stroke-width="5.2" stroke-dasharray="19.1,7.9" stroke-linecap="butt" stroke-linejoin="round" clip-path="url(#clipe)"/>
<path d="M106.00,2322.82 L107.10,2322.77 L108.20,2322.71 L109.30,2322.62 L110.41,2322.51 L111.51,2322.38 L112.61,2322.21 L113.71,2322.01 L114.81,2321.78 L115.91,2321.52 L117.02,2321.22 L118.12,2320.89 L119.22,2320.54 L120.32,2320.15 L121.42,2319.74 L122.52,2319.30 L123.63,2318.84 L124.73,2318.35 L125.83,2317.84 L126.93,2317.30 L128.03,2316.75 L129.13,2316.17 L130.24,2315.58 L131.34,2314.97 L132.44,2314.34 L133.54,2313.69 L134.64,2313.03 L135.74,2312.35 L136.84,2311.66 L137.95,2310.95 L139.05,2310.23 L140.15,2309.50 L141.25,2308.76 L142.35,2308.00 L143.45,2307.23 L144.56,2306.46 L145.66,2305.67 L146.76,2304.87 L147.86,2304.06 L148.96,2303.25 L150.06,2302.42 L151.17,2301.59 L152.27,2300.75 L153.37,2299.90 L154.47,2299.04 L155.57,2298.18 L156.67,2297.31 L157.78,2296.43 L158.88,2295.55 L159.98,2294.66 L161.08,2293.77 L162.18,2292.87 L163.28,2291.96 L164.38,2291.05 L165.49,2290.14 L166.59,2289.22 L167.69,2288.29 L168.79,2287.36 L169.89,2286.43 L170.99,2285.49 L172.10,2284.55 L173.20,2283.60 L174.30,2282.66 L175.40,2281.70 L176.50,2280.75 L177.60,2279.79 L178.71,2278.82 L179.81,2277.86 L180.91,2276.89 L182.01,2275.91 L183.11,2274.94 L184.21,2273.96 L185.32,2272.98 L186.42,2271.99 L187.52,2271.01 L188.62,2270.02 L189.72,2269.03 L190.82,2268.03 L191.93,2267.04 L193.03,2266.04 L194.13,2265.04 L195.23,2264.04 L196.33,2263.03 L197.43,2262.02 L198.53,2261.02 L199.64,2260.00 L200.74,2258.99 L201.84,2257.98 L202.94,2256.96 L204.04,2255.94 L205.14,2254.92 L206.25,2253.90 L207.35,2252.88 L208.45,2251.85 L209.55,2250.82 L210.65,2249.80 L211.75,2248.77 L212.86,2247.73 L213.96,2246.70 L215.06,2245.67 L216.16,2244.63 L217.26,2243.59 L218.36,2242.55 L219.47,2241.51 L220.57,2240.47 L221.67,2239.43 L222.77,2238.38 L223.87,2237.34 L224.97,2236.29 L226.07,2235.24 L227.18,2234.19 L228.28,2233.14 L229.38,2232.09 L230.48,2231.04 L231.58,2229.98 L232.68,2228.93 L233.79,2227.87 L234.89,2226.81 L235.99,2225.76 L237.09,2224.70 L238.19,2223.63 L239.29,2222.57 L240.40,2221.51 L241.50,2220.44 L242.60,2219.38 L243.70,2218.31 L244.80,2217.24 L245.90,2216.18 L247.01,2215.11 L248.11,2214.04 L249.21,2212.96 L250.31,2211.89 L251.41,2210.82 L252.51,2209.74 L253.61,2208.67 L254.72,2207.59 L255.82,2206.51 L256.92,2205.44 L258.02,2204.36 L259.12,2203.28 L260.22,2202.19 L261.33,2201.11 L262.43,2200.03 L263.53,2198.95 L264.63,2197.86 L265.73,2196.78 L266.83,2195.69 L267.94,2194.60 L269.04,2193.51 L270.14,2192.43 L271.24,2191.34 L272.34,2190.25 L273.44,2189.15 L274.55,2188.06 L275.65,2186.97 L276.75,2185.88 L277.85,2184.78 L278.95,2183.69 L280.05,2182.59 L281.15,2181.49 L282.26,2180.40 L283.36,2179.30 L284.46,2178.20 L285.56,2177.10 L286.66,2176.00 L287.76,2174.90 L288.87,2173.79 L289.97,2172.69 L291.07,2171.59 L292.17,2170.48 L293.27,2169.38 L294.37,2168.27 L295.48,2167.17 L296.58,2166.06 L297.68,2164.95 L298.78,2163.84 L299.88,2162.74 L300.98,2161.63 L302.09,2160.52 L303.19,2159.40 L304.29,2158.29 L305.39,2157.18 L306.49,2156.07 L307.59,2154.95 L308.69,2153.84 L309.80,2152.72 L310.90,2151.61 L312.00,2150.49 L313.10,2149.38 L314.20,2148.26 L315.30,2147.14 L316.41,2146.02 L317.51,2144.90 L318.61,2143.78 L319.71,2142.66 L320.81,2141.54 L321.91,2140.42 L323.02,2139.30 L324.12,2138.18 L325.22,2137.05 L326.32,2135.93 L327.42,2134.80 L328.52,2133.68 L329.63,2132.55 L330.73,2131.43 L331.83,2130.30 L332.93,2129.17 L334.03,2128.05 L335.13,2126.92 L336.24,2125.79 L337.34,2124.66 L338.44,2123.53 L339.54,2122.40 L340.64,2121.27 L341.74,2120.14 L342.84,2119.00 L343.95,2117.87 L345.05,2116.74 L346.15,2115.61 L347.25,2114.47 L348.35,2113.34 L349.45,2112.20 L350.56,2111.07 L351.66,2109.93 L352.76,2108.79 L353.86,2107.66 L354.96,2106.52 L356.06,2105.38 L357.17,2104.24 L358.27,2103.11 L359.37,2101.97 L360.47,2100.83 L361.57,2099.69 L362.67,2098.55 L363.78,2097.40 L364.88,2096.26 L365.98,2095.12 L367.08,2093.98 L368.18,2092.84 L369.28,2091.69 L370.38,2090.55 L371.49,2089.41 L372.59,2088.26 L373.69,2087.12 L374.79,2085.97 L375.89,2084.83 L376.99,2083.69 L378.10,2082.56 L379.20,2081.43 L380.30,2080.30 L381.40,2079.19 L382.50,2078.10 L383.60,2077.02 L384.71,2075.97 L385.81,2074.95 L386.91,2073.95 L388.01,2072.98 L389.11,2072.04 L390.21,2071.14 L391.32,2070.27 L392.42,2069.43 L393.52,2068.62 L394.62,2067.84 L395.72,2067.08 L396.82,2066.36 L397.92,2065.65 L399.03,2064.98 L400.13,2064.32 L401.23,2063.69 L402.33,2063.08 L403.43,2062.49 L404.53,2061.92 L405.64,2061.37 L406.74,2060.83 L407.84,2060.31 L408.94,2059.81 L410.04,2059.32 L411.14,2058.85 L412.25,2058.39 L413.35,2057.95 L414.45,2057.51 L415.55,2057.09 L416.65,2056.68 L417.75,2056.28 L418.86,2055.90 L419.96,2055.52 L421.06,2055.15 L422.16,2054.79 L423.26,2054.44 L424.36,2054.10 L425.46,2053.77 L426.57,2053.44 L427.67,2053.13 L428.77,2052.82 L429.87,2052.51 L430.97,2052.22 L432.07,2051.93 L433.18,2051.64 L434.28,2051.36 L435.38,2051.09 L436.48,2050.82 L437.58,2050.56 L438.68,2050.30 L439.79,2050.05 L440.89,2049.80 L441.99,2049.56 L443.09,2049.32 L444.19,2049.08 L445.29,2048.85 L446.40,2048.62 L447.50,2048.40 L448.60,2048.18 L449.70,2047.96 L450.80,2047.75 L451.90,2047.54 L453.01,2047.33 L454.11,2047.13 L455.21,2046.93 L456.31,2046.73 L457.41,2046.53 L458.51,2046.34 L459.61,2046.15 L460.72,2045.96 L461.82,2045.78 L462.92,2045.59 L464.02,2045.41 L465.12,2045.23 L466.22,2045.06 L467.33,2044.88 L468.43,2044.71 L469.53,2044.54 L470.63,2044.37 L471.73,2044.20 L472.83,2044.04 L473.94,2043.87 L475.04,2043.71 L476.14,2043.55 L477.24,2043.39 L478.34,2043.24 L479.44,2043.08 L480.55,2042.93 L481.65,2042.77 L482.75,2042.62 L483.85,2042.47 L484.95,2042.33 L486.05,2042.18 L487.15,2042.04 L488.26,2041.89 L489.36,2041.75 L490.46,2041.61 L491.56,2041.47 L492.66,2041.33 L493.76,2041.19 L494.87,2041.05 L495.97,2040.92 L497.07,2040.79 L498.17,2040.65 L499.27,2040.52 L500.37,2040.39 L501.48,2040.26 L502.58,2040.13 L503.68,2040.00 L504.78,2039.88 L505.88,2039.75 L506.98,2039.63 L508.09,2039.50 L509.19,2039.38 L510.29,2039.26 L511.39,2039.14 L512.49,2039.02 L513.59,2038.90 L514.69,2038.78 L515.80,2038.67 L516.90,2038.55 L518.00,2038.43 L519.10,2038.32 L520.20,2038.21 L521.30,2038.09 L522.41,2037.98 L523.51,2037.87 L524.61,2037.76 L525.71,2037.65 L526.81,2037.54 L527.91,2037.44 L529.02,2037.33 L530.12,2037.22 L531.22,2037.12 L532.32,2037.01 L533.42,2036.91 L534.52,2036.81 L535.63,2036.70 L536.73,2036.60 L537.83,2036.50 L538.93,2036.40 L540.03,2036.30 L541.13,2036.20 L542.23,2036.10 L543.34,2036.01 L544.44,2035.91 L545.54,2035.82 L546.64,2035.72 L547.74,2035.63 L548.84,2035.53 L549.95,2035.44 L551.05,2035.35 L552.15,2035.25 L553.25,2035.16 L554.35,2035.07 L555.45,2034.98 L556.56,2034.89 L557.66,2034.80 L558.76,2034.72 L559.86,2034.63 L560.96,2034.54 L562.06,2034.45 L563.17,2034.37 L564.27,2034.28 L565.37,2034.20 L566.47,2034.12 L567.57,2034.03 L568.67,2033.95 L569.77,2033.87 L570.88,2033.79 L571.98,2033.70 L573.08,2033.62 L574.18,2033.54 L575.28,2033.47 L576.38,2033.39 L577.49,2033.31 L578.59,2033.23 L579.69,2033.15 L580.79,2033.08 L581.89,2033.00 L582.99,2032.92 L584.10,2032.85 L585.20,2032.78 L586.30,2032.70 L587.40,2032.63 L588.50,2032.55 L589.60,2032.48 L590.71,2032.41 L591.81,2032.34 L592.91,2032.27 L594.01,2032.20 L595.11,2032.13 L596.21,2032.06 L597.32,2031.99 L598.42,2031.92 L599.52,2031.85 L600.62,2031.78 L601.72,2031.72 L602.82,2031.65 L603.92,2031.58 L605.03,2031.52 L606.13,2031.45 L607.23,2031.39 L608.33,2031.32 L609.43,2031.26 L610.53,2031.20 L611.64,2031.13 L612.74,2031.07 L613.84,2031.01 L614.94,2030.95 L616.04,2030.88 L617.14,2030.82 L618.25,2030.76 L619.35,2030.70 L620.45,2030.64 L621.55,2030.58 L622.65,2030.52 L623.75,2030.47 L624.86,2030.41 L625.96,2030.35 L627.06,2030.29 L628.16,2030.24 L629.26,2030.18 L630.36,2030.12 L631.46,2030.07 L632.57,2030.01 L633.67,2029.96 L634.77,2029.90 L635.87,2029.85 L636.97,2029.79 L638.07,2029.74 L639.18,2029.69 L640.28,2029.64 L641.38,2029.58 L642.48,2029.53 L643.58,2029.48 L644.68,2029.43 L645.79,2029.38 L646.89,2029.33 L647.99,2029.28 L649.09,2029.23 L650.19,2029.18 L651.29,2029.13 L652.40,2029.08 L653.50,2029.03 L654.60,2028.98 L655.70,2028.93" fill="none" stroke="#0000ff" stroke-width="5.2" stroke-dasharray="5.3,4.9" stroke-linecap="butt" stroke-linejoin="round" clip-path="url(#clipe)"/>
<text transform="translate(92.22,2380) scale(0.9978,1)" font-size="48.8">0</text>
<text transform="translate(230.72,2380) scale(0.9196,1)" font-size="48.8">5</text>
<text transform="translate(352.98,2380) scale(0.9610,1)" font-size="48.8">1</text>
<text transform="translate(381.64,2380) scale(0.9978,1)" font-size="48.8">0</text>
<text transform="translate(490.41,2380) scale(0.9610,1)" font-size="48.8">1</text>
<text transform="translate(520.14,2380) scale(0.9196,1)" font-size="48.8">5</text>
<text transform="translate(627.41,2380) scale(0.9596,1)" font-size="48.8">2</text>
<text transform="translate(656.49,2380) scale(0.9978,1)" font-size="48.8">0</text>
<text transform="translate(54.14,2339.9) scale(0.9978,1)" font-size="48.8">0</text>
<text transform="translate(54.21,2202.43) scale(0.9596,1)" font-size="48.8">2</text>
<text transform="translate(54.68,2064.95) scale(0.9760,1)" font-size="48.8">4</text>
<text transform="translate(54.06,1927.48) scale(1.0208,1)" font-size="48.8">6</text>
<text transform="translate(54.6,1790) scale(0.9991,1)" font-size="48.8">8</text>
<text transform="translate(107.65,1769.8) scale(0.9610,1)" font-size="48.8">1</text>
<text transform="translate(135.81,1769.8) scale(1.0191,1)" font-size="48.8">e</text>
<text transform="translate(165.35,1769.8) scale(1.2075,1)" font-size="48.8">−</text>
<text transform="translate(203.45,1769.8) scale(0.9760,1)" font-size="48.8">4</text>
<text transform="translate(272.32,2429.4) scale(1.0050,1)" font-size="48.8">T</text>
<text transform="translate(300.64,2429.4) scale(1.0084,1)" font-size="48.8">i</text>
<text transform="translate(313.07,2429.4) scale(1.0733,1)" font-size="48.8">m</text>
<text transform="translate(357.56,2429.4) scale(1.0191,1)" font-size="48.8">e</text>
<text transform="translate(400.13,2429.4) scale(1.0084,1)" font-size="48.8">[</text>
<text transform="translate(419.1,2429.4) scale(1.0004,1)" font-size="48.8">p</text>
<text transform="translate(447.94,2429.4) scale(0.9173,1)" font-size="48.8">s</text>
<text transform="translate(474.85,2429.4) scale(1.0084,1)" font-size="48.8">]</text>
<text transform="translate(37.5,2243.2) rotate(-90) translate(-3.48,0) scale(0.8914,1)" font-size="48.8">R</text>
<text transform="translate(37.5,2243.2) rotate(-90) translate(25.5,0) scale(1.0191,1)" font-size="48.8">e</text>
<text transform="translate(37.5,2243.2) rotate(-90) translate(54.35,0) scale(0.9720,1)" font-size="48.8">l</text>
<text transform="translate(37.5,2243.2) rotate(-90) translate(66.82,0) scale(0.9720,1)" font-size="48.8">.</text>
<text transform="translate(37.5,2243.2) rotate(-90) translate(95.52,0) scale(1.0435,1)" font-size="48.8">d</text>
<text transform="translate(37.5,2243.2) rotate(-90) translate(124.7,0) scale(0.9978,1)" font-size="48.8">o</text>
<text transform="translate(37.5,2243.2) rotate(-90) translate(153.34,0) scale(0.9173,1)" font-size="48.8">s</text>
<text transform="translate(37.5,2243.2) rotate(-90) translate(176.58,0) scale(1.0191,1)" font-size="48.8">e</text>
<text transform="translate(37.5,2243.2) rotate(-90) translate(219.45,0) scale(0.9720,1)" font-size="48.8">[</text>
<text transform="translate(37.5,2243.2) rotate(-90) translate(237.45,0) scale(0.9102,1)" font-size="48.8">G</text>
<text transform="translate(37.5,2243.2) rotate(-90) translate(273.81,0) scale(0.9955,1)" font-size="48.8">y</text>
<text transform="translate(37.5,2243.2) rotate(-90) translate(299.55,0) scale(1.1404,1)" font-size="48.8">/</text>
<text transform="translate(37.5,2243.2) rotate(-90) translate(316.19,0) scale(1.0004,1)" font-size="48.8">p</text>
<text transform="translate(37.5,2243.2) rotate(-90) translate(344.69,0) scale(0.8795,1)" font-size="48.8">C</text>
<text transform="translate(37.5,2243.2) rotate(-90) translate(380.26,0) scale(0.9720,1)" font-size="48.8">]</text>
<rect x="385.6" y="1788.4" width="254.4" height="150.6" rx="5" ry="5" fill="#ffffff" fill-opacity="0.8" stroke="#dcdcdc" stroke-width="1.3"/>
<line x1="397.9" y1="1814.9" x2="462.3" y2="1814.9" stroke="#000" stroke-width="5.2" stroke-linecap="square"/>
<text transform="translate(488.14,1826.9) scale(0.9185,1)" font-size="34.2">5</text>
<text transform="translate(507.8,1826.9) scale(0.9966,1)" font-size="34.2">0</text>
<text transform="translate(538.49,1826.9) scale(0.9380,1)" font-size="34.2">M</text>
<text transform="translate(565.74,1826.9) scale(1.0178,1)" font-size="34.2">e</text>
<text transform="translate(585.25,1826.9) scale(0.9669,1)" font-size="34.2">V</text>
<line x1="397.7" y1="1861.7" x2="462" y2="1861.7" stroke="#ff0000" stroke-width="5.2" stroke-dasharray="19.1,7.9"/>
<text transform="translate(487.74,1873.7) scale(0.9598,1)" font-size="34.2">1</text>
<text transform="translate(508.55,1873.7) scale(0.9185,1)" font-size="34.2">5</text>
<text transform="translate(528.21,1873.7) scale(0.9966,1)" font-size="34.2">0</text>
<text transform="translate(558.9,1873.7) scale(0.9380,1)" font-size="34.2">M</text>
<text transform="translate(586.15,1873.7) scale(1.0178,1)" font-size="34.2">e</text>
<text transform="translate(605.67,1873.7) scale(0.9669,1)" font-size="34.2">V</text>
<line x1="397.7" y1="1908.5" x2="462" y2="1908.5" stroke="#0000ff" stroke-width="5.2" stroke-dasharray="5.3,4.9"/>
<text transform="translate(487.44,1920.5) scale(0.9584,1)" font-size="34.2">2</text>
<text transform="translate(508.55,1920.5) scale(0.9185,1)" font-size="34.2">5</text>
<text transform="translate(528.21,1920.5) scale(0.9966,1)" font-size="34.2">0</text>
<text transform="translate(558.9,1920.5) scale(0.9380,1)" font-size="34.2">M</text>
<text transform="translate(586.15,1920.5) scale(1.0178,1)" font-size="34.2">e</text>
<text transform="translate(605.67,1920.5) scale(0.9669,1)" font-size="34.2">V</text>
<text transform="translate(189.25,2527.1) scale(0.9381,1.097)" font-family="Liberation Serif" font-size="49.2" stroke="#fff" stroke-width="0.4">(</text>
<text transform="translate(228.92,2527.1) scale(0.9381,1.097)" font-family="Liberation Serif" font-size="49.2" stroke="#fff" stroke-width="0.4">)</text>
<text transform="translate(203.97,2526.1) scale(1.15,1)" font-family="Liberation Serif" font-size="49.2" stroke="#fff" stroke-width="0.5">e</text>
<text transform="translate(267.02,2526.1) skewX(-5.0) scale(1.1899,1.05)" font-family="Liberation Serif" font-style="italic" font-size="49.2" stroke="#fff" stroke-width="0.3">Z</text>
<rect x="321.9" y="2506.5" width="31.5" height="2.2" fill="#000"/>
<rect x="321.9" y="2518.1" width="31.5" height="2.2" fill="#000"/>
<text transform="translate(372.66,2526.1) scale(0.9842,1)" font-family="Liberation Serif" font-size="49.2" stroke="#fff" stroke-width="0.5">24</text>
<text transform="translate(437.69,2526.1) scale(1.0197,1)" font-family="Liberation Serif" font-size="49.2" stroke="#fff" stroke-width="0.5">cm</text>
<line x1="1058.62" y1="1773" x2="1058.62" y2="2322.9" stroke="#b0b0b0" stroke-opacity="0.5" stroke-width="1.5"/>
<line x1="1196.05" y1="1773" x2="1196.05" y2="2322.9" stroke="#b0b0b0" stroke-opacity="0.5" stroke-width="1.5"/>
<line x1="1333.47" y1="1773" x2="1333.47" y2="2322.9" stroke="#b0b0b0" stroke-opacity="0.5" stroke-width="1.5"/>
<line x1="921.2" y1="2185.43" x2="1470.9" y2="2185.43" stroke="#b0b0b0" stroke-opacity="0.5" stroke-width="1.5"/>
<line x1="921.2" y1="2047.95" x2="1470.9" y2="2047.95" stroke="#b0b0b0" stroke-opacity="0.5" stroke-width="1.5"/>
<line x1="921.2" y1="1910.48" x2="1470.9" y2="1910.48" stroke="#b0b0b0" stroke-opacity="0.5" stroke-width="1.5"/>
<rect x="921.2" y="1773" width="549.7" height="549.9" fill="none" stroke="#707070" stroke-width="1.7"/>
<line x1="921.2" y1="2322.9" x2="921.2" y2="2327.4" stroke="#6a6a6a" stroke-width="1.6"/>
<line x1="1058.62" y1="2322.9" x2="1058.62" y2="2327.4" stroke="#6a6a6a" stroke-width="1.6"/>
<line x1="1196.05" y1="2322.9" x2="1196.05" y2="2327.4" stroke="#6a6a6a" stroke-width="1.6"/>
<line x1="1333.47" y1="2322.9" x2="1333.47" y2="2327.4" stroke="#6a6a6a" stroke-width="1.6"/>
<line x1="1470.9" y1="2322.9" x2="1470.9" y2="2327.4" stroke="#6a6a6a" stroke-width="1.6"/>
<line x1="916.4" y1="2322.9" x2="921.2" y2="2322.9" stroke="#6a6a6a" stroke-width="1.6"/>
<line x1="916.4" y1="2185.43" x2="921.2" y2="2185.43" stroke="#6a6a6a" stroke-width="1.6"/>
<line x1="916.4" y1="2047.95" x2="921.2" y2="2047.95" stroke="#6a6a6a" stroke-width="1.6"/>
<line x1="916.4" y1="1910.48" x2="921.2" y2="1910.48" stroke="#6a6a6a" stroke-width="1.6"/>
<line x1="916.4" y1="1773" x2="921.2" y2="1773" stroke="#6a6a6a" stroke-width="1.6"/>
<path d="M921.20,2321.53 L923.96,2321.53 L926.72,2321.53 L929.49,2321.53 L932.25,2321.53 L935.01,2321.53 L937.77,2321.53 L940.54,2321.53 L943.30,2321.53 L946.06,2321.53 L948.82,2321.53 L951.59,2321.53 L954.35,2321.53 L957.11,2321.53 L959.87,2321.53 L962.63,2321.53 L965.40,2321.53 L968.16,2321.53 L970.92,2321.53 L973.68,2321.53 L976.45,2321.53 L979.21,2321.53 L981.97,2321.53 L984.73,2321.53 L987.50,2321.53 L990.26,2321.53 L993.02,2321.53 L995.78,2321.53 L998.54,2321.53 L1001.31,2321.53 L1004.07,2321.53 L1006.83,2321.53 L1009.59,2321.53 L1012.36,2321.53 L1015.12,2321.53 L1017.88,2321.53 L1020.64,2321.53 L1023.41,2321.53 L1026.17,2321.53 L1028.93,2321.53 L1031.69,2321.53 L1034.45,2321.53 L1037.22,2321.53 L1039.98,2321.53 L1042.74,2321.53 L1045.50,2321.53 L1048.27,2321.53 L1051.03,2321.53 L1053.79,2321.53 L1056.55,2321.53 L1059.32,2321.53 L1062.08,2321.53 L1064.84,2321.53 L1067.60,2321.53 L1070.36,2321.53 L1073.13,2321.53 L1075.89,2321.53 L1078.65,2321.53 L1081.41,2321.53 L1084.18,2321.53 L1086.94,2321.53 L1089.70,2321.53 L1092.46,2321.53 L1095.23,2321.53 L1097.99,2321.53 L1100.75,2321.53 L1103.51,2321.53 L1106.27,2321.53 L1109.04,2321.53 L1111.80,2321.53 L1114.56,2321.53 L1117.32,2321.53 L1120.09,2321.53 L1122.85,2321.53 L1125.61,2321.53 L1128.37,2321.53 L1131.14,2321.53 L1133.90,2321.53 L1136.66,2321.53 L1139.42,2321.53 L1142.18,2321.53 L1144.95,2321.53 L1147.71,2321.53 L1150.47,2321.53 L1153.23,2321.53 L1156.00,2321.53 L1158.76,2321.53 L1161.52,2321.53 L1164.28,2321.53 L1167.05,2321.53 L1169.81,2321.53 L1172.57,2321.53 L1175.33,2321.53 L1178.09,2321.53 L1180.86,2321.53 L1183.62,2321.53 L1186.38,2321.53 L1189.14,2321.53 L1191.91,2321.53 L1194.67,2321.53 L1197.43,2321.53 L1200.19,2321.53 L1202.96,2321.53 L1205.72,2321.53 L1208.48,2321.53 L1211.24,2321.53 L1214.01,2321.53 L1216.77,2321.53 L1219.53,2321.53 L1222.29,2321.53 L1225.05,2321.53 L1227.82,2321.53 L1230.58,2321.53 L1233.34,2321.53 L1236.10,2321.53 L1238.87,2321.53 L1241.63,2321.53 L1244.39,2321.53 L1247.15,2321.53 L1249.92,2321.53 L1252.68,2321.53 L1255.44,2321.53 L1258.20,2321.53 L1260.96,2321.53 L1263.73,2321.53 L1266.49,2321.53 L1269.25,2321.53 L1272.01,2321.53 L1274.78,2321.53 L1277.54,2321.53 L1280.30,2321.53 L1283.06,2321.53 L1285.83,2321.53 L1288.59,2321.53 L1291.35,2321.53 L1294.11,2321.53 L1296.87,2321.53 L1299.64,2321.53 L1302.40,2321.53 L1305.16,2321.53 L1307.92,2321.53 L1310.69,2321.53 L1313.45,2321.53 L1316.21,2321.53 L1318.97,2321.53 L1321.74,2321.53 L1324.50,2321.53 L1327.26,2321.53 L1330.02,2321.53 L1332.78,2321.53 L1335.55,2321.53 L1338.31,2321.53 L1341.07,2321.53 L1343.83,2321.53 L1346.60,2321.53 L1349.36,2321.53 L1352.12,2321.53 L1354.88,2321.53 L1357.65,2321.53 L1360.41,2321.53 L1363.17,2321.53 L1365.93,2321.53 L1368.69,2321.53 L1371.46,2321.53 L1374.22,2321.53 L1376.98,2321.53 L1379.74,2321.53 L1382.51,2321.53 L1385.27,2321.53 L1388.03,2321.53 L1390.79,2321.53 L1393.56,2321.53 L1396.32,2321.53 L1399.08,2321.53 L1401.84,2321.53 L1404.60,2321.53 L1407.37,2321.53 L1410.13,2321.53 L1412.89,2321.53 L1415.65,2321.53 L1418.42,2321.53 L1421.18,2321.53 L1423.94,2321.53 L1426.70,2321.53 L1429.47,2321.53 L1432.23,2321.53 L1434.99,2321.53 L1437.75,2321.53 L1440.51,2321.53 L1443.28,2321.53 L1446.04,2321.53 L1448.80,2321.53 L1451.56,2321.53 L1454.33,2321.53 L1457.09,2321.53 L1459.85,2321.53 L1462.61,2321.53 L1465.38,2321.53 L1468.14,2321.53 L1470.90,2321.53" fill="none" stroke="#000000" stroke-width="5.2" stroke-linecap="square" stroke-linejoin="round" clip-path="url(#clipf)"/>
<path d="M921.20,2322.86 L922.30,2322.86 L923.40,2322.85 L924.50,2322.85 L925.61,2322.84 L926.71,2322.83 L927.81,2322.82 L928.91,2322.81 L930.01,2322.80 L931.11,2322.79 L932.22,2322.78 L933.32,2322.77 L934.42,2322.75 L935.52,2322.74 L936.62,2322.72 L937.72,2322.70 L938.83,2322.68 L939.93,2322.66 L941.03,2322.64 L942.13,2322.62 L943.23,2322.59 L944.33,2322.56 L945.44,2322.53 L946.54,2322.50 L947.64,2322.46 L948.74,2322.43 L949.84,2322.39 L950.94,2322.35 L952.04,2322.30 L953.15,2322.25 L954.25,2322.20 L955.35,2322.15 L956.45,2322.10 L957.55,2322.04 L958.65,2321.98 L959.76,2321.91 L960.86,2321.84 L961.96,2321.77 L963.06,2321.70 L964.16,2321.62 L965.26,2321.54 L966.37,2321.46 L967.47,2321.37 L968.57,2321.28 L969.67,2321.19 L970.77,2321.09 L971.87,2320.99 L972.98,2320.89 L974.08,2320.79 L975.18,2320.68 L976.28,2320.56 L977.38,2320.45 L978.48,2320.33 L979.58,2320.21 L980.69,2320.08 L981.79,2319.96 L982.89,2319.82 L983.99,2319.69 L985.09,2319.56 L986.19,2319.42 L987.30,2319.28 L988.40,2319.13 L989.50,2318.99 L990.60,2318.84 L991.70,2318.69 L992.80,2318.53 L993.91,2318.38 L995.01,2318.22 L996.11,2318.06 L997.21,2317.90 L998.31,2317.74 L999.41,2317.57 L1000.52,2317.40 L1001.62,2317.24 L1002.72,2317.07 L1003.82,2316.90 L1004.92,2316.72 L1006.02,2316.55 L1007.13,2316.37 L1008.23,2316.20 L1009.33,2316.02 L1010.43,2315.84 L1011.53,2315.66 L1012.63,2315.47 L1013.73,2315.29 L1014.84,2315.11 L1015.94,2314.92 L1017.04,2314.74 L1018.14,2314.55 L1019.24,2314.36 L1020.34,2314.17 L1021.45,2313.98 L1022.55,2313.79 L1023.65,2313.60 L1024.75,2313.41 L1025.85,2313.22 L1026.95,2313.02 L1028.06,2312.83 L1029.16,2312.63 L1030.26,2312.44 L1031.36,2312.24 L1032.46,2312.04 L1033.56,2311.85 L1034.67,2311.65 L1035.77,2311.45 L1036.87,2311.25 L1037.97,2311.05 L1039.07,2310.85 L1040.17,2310.65 L1041.27,2310.44 L1042.38,2310.24 L1043.48,2310.04 L1044.58,2309.83 L1045.68,2309.63 L1046.78,2309.42 L1047.88,2309.22 L1048.99,2309.01 L1050.09,2308.80 L1051.19,2308.60 L1052.29,2308.39 L1053.39,2308.18 L1054.49,2307.97 L1055.60,2307.76 L1056.70,2307.55 L1057.80,2307.34 L1058.90,2307.13 L1060.00,2306.92 L1061.10,2306.70 L1062.21,2306.49 L1063.31,2306.28 L1064.41,2306.06 L1065.51,2305.85 L1066.61,2305.63 L1067.71,2305.42 L1068.81,2305.20 L1069.92,2304.99 L1071.02,2304.77 L1072.12,2304.55 L1073.22,2304.33 L1074.32,2304.12 L1075.42,2303.90 L1076.53,2303.68 L1077.63,2303.46 L1078.73,2303.24 L1079.83,2303.02 L1080.93,2302.80 L1082.03,2302.57 L1083.14,2302.35 L1084.24,2302.13 L1085.34,2301.91 L1086.44,2301.68 L1087.54,2301.46 L1088.64,2301.24 L1089.75,2301.01 L1090.85,2300.79 L1091.95,2300.56 L1093.05,2300.33 L1094.15,2300.11 L1095.25,2299.88 L1096.35,2299.65 L1097.46,2299.43 L1098.56,2299.20 L1099.66,2298.97 L1100.76,2298.74 L1101.86,2298.51 L1102.96,2298.28 L1104.07,2298.05 L1105.17,2297.82 L1106.27,2297.59 L1107.37,2297.36 L1108.47,2297.13 L1109.57,2296.90 L1110.68,2296.67 L1111.78,2296.44 L1112.88,2296.20 L1113.98,2295.97 L1115.08,2295.74 L1116.18,2295.50 L1117.29,2295.27 L1118.39,2295.03 L1119.49,2294.80 L1120.59,2294.56 L1121.69,2294.33 L1122.79,2294.09 L1123.89,2293.86 L1125.00,2293.62 L1126.10,2293.38 L1127.20,2293.15 L1128.30,2292.91 L1129.40,2292.67 L1130.50,2292.43 L1131.61,2292.19 L1132.71,2291.96 L1133.81,2291.72 L1134.91,2291.48 L1136.01,2291.24 L1137.11,2291.00 L1138.22,2290.76 L1139.32,2290.52 L1140.42,2290.28 L1141.52,2290.04 L1142.62,2289.79 L1143.72,2289.55 L1144.83,2289.31 L1145.93,2289.07 L1147.03,2288.83 L1148.13,2288.58 L1149.23,2288.34 L1150.33,2288.10 L1151.44,2287.85 L1152.54,2287.61 L1153.64,2287.37 L1154.74,2287.12 L1155.84,2286.88 L1156.94,2286.63 L1158.04,2286.39 L1159.15,2286.14 L1160.25,2285.90 L1161.35,2285.65 L1162.45,2285.40 L1163.55,2285.16 L1164.65,2284.91 L1165.76,2284.66 L1166.86,2284.42 L1167.96,2284.17 L1169.06,2283.92 L1170.16,2283.67 L1171.26,2283.43 L1172.37,2283.18 L1173.47,2282.93 L1174.57,2282.68 L1175.67,2282.43 L1176.77,2282.18 L1177.87,2281.93 L1178.98,2281.69 L1180.08,2281.44 L1181.18,2281.19 L1182.28,2280.94 L1183.38,2280.69 L1184.48,2280.44 L1185.58,2280.19 L1186.69,2279.94 L1187.79,2279.69 L1188.89,2279.44 L1189.99,2279.19 L1191.09,2278.94 L1192.19,2278.69 L1193.30,2278.44 L1194.40,2278.19 L1195.50,2277.95 L1196.60,2277.70 L1197.70,2277.45 L1198.80,2277.20 L1199.91,2276.95 L1201.01,2276.71 L1202.11,2276.46 L1203.21,2276.21 L1204.31,2275.97 L1205.41,2275.73 L1206.52,2275.48 L1207.62,2275.24 L1208.72,2275.00 L1209.82,2274.76 L1210.92,2274.52 L1212.02,2274.28 L1213.12,2274.04 L1214.23,2273.81 L1215.33,2273.57 L1216.43,2273.34 L1217.53,2273.11 L1218.63,2272.88 L1219.73,2272.65 L1220.84,2272.43 L1221.94,2272.20 L1223.04,2271.98 L1224.14,2271.76 L1225.24,2271.55 L1226.34,2271.33 L1227.45,2271.12 L1228.55,2270.91 L1229.65,2270.70 L1230.75,2270.50 L1231.85,2270.30 L1232.95,2270.10 L1234.06,2269.90 L1235.16,2269.71 L1236.26,2269.52 L1237.36,2269.33 L1238.46,2269.15 L1239.56,2268.96 L1240.66,2268.79 L1241.77,2268.61 L1242.87,2268.44 L1243.97,2268.27 L1245.07,2268.11 L1246.17,2267.94 L1247.27,2267.78 L1248.38,2267.63 L1249.48,2267.47 L1250.58,2267.32 L1251.68,2267.18 L1252.78,2267.03 L1253.88,2266.89 L1254.99,2266.75 L1256.09,2266.62 L1257.19,2266.48 L1258.29,2266.35 L1259.39,2266.23 L1260.49,2266.10 L1261.60,2265.98 L1262.70,2265.86 L1263.80,2265.74 L1264.90,2265.63 L1266.00,2265.51 L1267.10,2265.40 L1268.21,2265.29 L1269.31,2265.19 L1270.41,2265.08 L1271.51,2264.98 L1272.61,2264.88 L1273.71,2264.78 L1274.81,2264.68 L1275.92,2264.58 L1277.02,2264.49 L1278.12,2264.40 L1279.22,2264.30 L1280.32,2264.21 L1281.42,2264.12 L1282.53,2264.04 L1283.63,2263.95 L1284.73,2263.86 L1285.83,2263.78 L1286.93,2263.70 L1288.03,2263.61 L1289.14,2263.53 L1290.24,2263.45 L1291.34,2263.37 L1292.44,2263.29 L1293.54,2263.21 L1294.64,2263.14 L1295.75,2263.06 L1296.85,2262.98 L1297.95,2262.91 L1299.05,2262.83 L1300.15,2262.76 L1301.25,2262.69 L1302.35,2262.62 L1303.46,2262.54 L1304.56,2262.47 L1305.66,2262.40 L1306.76,2262.33 L1307.86,2262.26 L1308.96,2262.20 L1310.07,2262.13 L1311.17,2262.06 L1312.27,2261.99 L1313.37,2261.93 L1314.47,2261.86 L1315.57,2261.80 L1316.68,2261.73 L1317.78,2261.67 L1318.88,2261.60 L1319.98,2261.54 L1321.08,2261.48 L1322.18,2261.41 L1323.29,2261.35 L1324.39,2261.29 L1325.49,2261.23 L1326.59,2261.17 L1327.69,2261.11 L1328.79,2261.05 L1329.89,2260.99 L1331.00,2260.93 L1332.10,2260.88 L1333.20,2260.82 L1334.30,2260.76 L1335.40,2260.71 L1336.50,2260.65 L1337.61,2260.59 L1338.71,2260.54 L1339.81,2260.48 L1340.91,2260.43 L1342.01,2260.38 L1343.11,2260.32 L1344.22,2260.27 L1345.32,2260.22 L1346.42,2260.16 L1347.52,2260.11 L1348.62,2260.06 L1349.72,2260.01 L1350.83,2259.96 L1351.93,2259.91 L1353.03,2259.86 L1354.13,2259.81 L1355.23,2259.76 L1356.33,2259.71 L1357.43,2259.66 L1358.54,2259.62 L1359.64,2259.57 L1360.74,2259.52 L1361.84,2259.47 L1362.94,2259.43 L1364.04,2259.38 L1365.15,2259.34 L1366.25,2259.29 L1367.35,2259.25 L1368.45,2259.20 L1369.55,2259.16 L1370.65,2259.11 L1371.76,2259.07 L1372.86,2259.03 L1373.96,2258.98 L1375.06,2258.94 L1376.16,2258.90 L1377.26,2258.86 L1378.37,2258.82 L1379.47,2258.77 L1380.57,2258.73 L1381.67,2258.69 L1382.77,2258.65 L1383.87,2258.61 L1384.97,2258.57 L1386.08,2258.53 L1387.18,2258.49 L1388.28,2258.46 L1389.38,2258.42 L1390.48,2258.38 L1391.58,2258.34 L1392.69,2258.30 L1393.79,2258.27 L1394.89,2258.23 L1395.99,2258.19 L1397.09,2258.16 L1398.19,2258.12 L1399.30,2258.08 L1400.40,2258.05 L1401.50,2258.01 L1402.60,2257.98 L1403.70,2257.94 L1404.80,2257.91 L1405.91,2257.88 L1407.01,2257.84 L1408.11,2257.81 L1409.21,2257.77 L1410.31,2257.74 L1411.41,2257.71 L1412.52,2257.68 L1413.62,2257.64 L1414.72,2257.61 L1415.82,2257.58 L1416.92,2257.55 L1418.02,2257.52 L1419.12,2257.49 L1420.23,2257.46 L1421.33,2257.42 L1422.43,2257.39 L1423.53,2257.36 L1424.63,2257.33 L1425.73,2257.31 L1426.84,2257.28 L1427.94,2257.25 L1429.04,2257.22 L1430.14,2257.19 L1431.24,2257.16 L1432.34,2257.13 L1433.45,2257.10 L1434.55,2257.08 L1435.65,2257.05 L1436.75,2257.02 L1437.85,2256.99 L1438.95,2256.97 L1440.06,2256.94 L1441.16,2256.91 L1442.26,2256.89 L1443.36,2256.86 L1444.46,2256.84 L1445.56,2256.81 L1446.66,2256.78 L1447.77,2256.76 L1448.87,2256.73 L1449.97,2256.71 L1451.07,2256.68 L1452.17,2256.66 L1453.27,2256.64 L1454.38,2256.61 L1455.48,2256.59 L1456.58,2256.56 L1457.68,2256.54 L1458.78,2256.52 L1459.88,2256.49 L1460.99,2256.47 L1462.09,2256.45 L1463.19,2256.43 L1464.29,2256.40 L1465.39,2256.38 L1466.49,2256.36 L1467.60,2256.34 L1468.70,2256.31 L1469.80,2256.29 L1470.90,2256.27" fill="none" stroke="#ff0000" stroke-width="5.2" stroke-dasharray="19.1,7.9" stroke-linecap="butt" stroke-linejoin="round" clip-path="url(#clipf)"/>
<path d="M921.20,2322.49 L922.30,2322.44 L923.40,2322.38 L924.50,2322.32 L925.61,2322.26 L926.71,2322.19 L927.81,2322.11 L928.91,2322.02 L930.01,2321.93 L931.11,2321.83 L932.22,2321.72 L933.32,2321.60 L934.42,2321.47 L935.52,2321.34 L936.62,2321.20 L937.72,2321.04 L938.83,2320.88 L939.93,2320.70 L941.03,2320.52 L942.13,2320.32 L943.23,2320.11 L944.33,2319.89 L945.44,2319.66 L946.54,2319.42 L947.64,2319.16 L948.74,2318.90 L949.84,2318.62 L950.94,2318.33 L952.04,2318.03 L953.15,2317.71 L954.25,2317.39 L955.35,2317.05 L956.45,2316.70 L957.55,2316.34 L958.65,2315.97 L959.76,2315.59 L960.86,2315.19 L961.96,2314.79 L963.06,2314.38 L964.16,2313.95 L965.26,2313.52 L966.37,2313.07 L967.47,2312.62 L968.57,2312.16 L969.67,2311.69 L970.77,2311.22 L971.87,2310.73 L972.98,2310.24 L974.08,2309.74 L975.18,2309.24 L976.28,2308.72 L977.38,2308.21 L978.48,2307.68 L979.58,2307.15 L980.69,2306.62 L981.79,2306.08 L982.89,2305.54 L983.99,2304.99 L985.09,2304.44 L986.19,2303.89 L987.30,2303.33 L988.40,2302.76 L989.50,2302.20 L990.60,2301.63 L991.70,2301.06 L992.80,2300.49 L993.91,2299.91 L995.01,2299.33 L996.11,2298.75 L997.21,2298.16 L998.31,2297.58 L999.41,2296.99 L1000.52,2296.40 L1001.62,2295.81 L1002.72,2295.21 L1003.82,2294.62 L1004.92,2294.02 L1006.02,2293.42 L1007.13,2292.82 L1008.23,2292.22 L1009.33,2291.61 L1010.43,2291.01 L1011.53,2290.40 L1012.63,2289.79 L1013.73,2289.18 L1014.84,2288.57 L1015.94,2287.96 L1017.04,2287.34 L1018.14,2286.73 L1019.24,2286.11 L1020.34,2285.49 L1021.45,2284.87 L1022.55,2284.25 L1023.65,2283.63 L1024.75,2283.01 L1025.85,2282.38 L1026.95,2281.75 L1028.06,2281.13 L1029.16,2280.50 L1030.26,2279.87 L1031.36,2279.24 L1032.46,2278.61 L1033.56,2277.97 L1034.67,2277.34 L1035.77,2276.70 L1036.87,2276.06 L1037.97,2275.43 L1039.07,2274.79 L1040.17,2274.15 L1041.27,2273.50 L1042.38,2272.86 L1043.48,2272.22 L1044.58,2271.57 L1045.68,2270.93 L1046.78,2270.28 L1047.88,2269.63 L1048.99,2268.98 L1050.09,2268.33 L1051.19,2267.68 L1052.29,2267.03 L1053.39,2266.37 L1054.49,2265.72 L1055.60,2265.06 L1056.70,2264.41 L1057.80,2263.75 L1058.90,2263.09 L1060.00,2262.43 L1061.10,2261.77 L1062.21,2261.11 L1063.31,2260.45 L1064.41,2259.78 L1065.51,2259.12 L1066.61,2258.45 L1067.71,2257.79 L1068.81,2257.12 L1069.92,2256.45 L1071.02,2255.78 L1072.12,2255.11 L1073.22,2254.44 L1074.32,2253.77 L1075.42,2253.10 L1076.53,2252.42 L1077.63,2251.75 L1078.73,2251.07 L1079.83,2250.40 L1080.93,2249.72 L1082.03,2249.04 L1083.14,2248.37 L1084.24,2247.69 L1085.34,2247.01 L1086.44,2246.33 L1087.54,2245.64 L1088.64,2244.96 L1089.75,2244.28 L1090.85,2243.59 L1091.95,2242.91 L1093.05,2242.22 L1094.15,2241.54 L1095.25,2240.85 L1096.35,2240.16 L1097.46,2239.47 L1098.56,2238.78 L1099.66,2238.09 L1100.76,2237.40 L1101.86,2236.71 L1102.96,2236.02 L1104.07,2235.32 L1105.17,2234.63 L1106.27,2233.94 L1107.37,2233.24 L1108.47,2232.55 L1109.57,2231.85 L1110.68,2231.15 L1111.78,2230.45 L1112.88,2229.76 L1113.98,2229.06 L1115.08,2228.36 L1116.18,2227.66 L1117.29,2226.95 L1118.39,2226.25 L1119.49,2225.55 L1120.59,2224.85 L1121.69,2224.14 L1122.79,2223.44 L1123.89,2222.73 L1125.00,2222.03 L1126.10,2221.32 L1127.20,2220.62 L1128.30,2219.91 L1129.40,2219.20 L1130.50,2218.49 L1131.61,2217.78 L1132.71,2217.07 L1133.81,2216.36 L1134.91,2215.65 L1136.01,2214.94 L1137.11,2214.23 L1138.22,2213.52 L1139.32,2212.80 L1140.42,2212.09 L1141.52,2211.38 L1142.62,2210.66 L1143.72,2209.95 L1144.83,2209.23 L1145.93,2208.51 L1147.03,2207.80 L1148.13,2207.08 L1149.23,2206.36 L1150.33,2205.64 L1151.44,2204.93 L1152.54,2204.21 L1153.64,2203.49 L1154.74,2202.77 L1155.84,2202.05 L1156.94,2201.33 L1158.04,2200.60 L1159.15,2199.88 L1160.25,2199.16 L1161.35,2198.44 L1162.45,2197.71 L1163.55,2196.99 L1164.65,2196.27 L1165.76,2195.54 L1166.86,2194.82 L1167.96,2194.10 L1169.06,2193.37 L1170.16,2192.65 L1171.26,2191.92 L1172.37,2191.20 L1173.47,2190.47 L1174.57,2189.75 L1175.67,2189.03 L1176.77,2188.30 L1177.87,2187.58 L1178.98,2186.86 L1180.08,2186.13 L1181.18,2185.41 L1182.28,2184.69 L1183.38,2183.97 L1184.48,2183.25 L1185.58,2182.54 L1186.69,2181.82 L1187.79,2181.11 L1188.89,2180.40 L1189.99,2179.69 L1191.09,2178.98 L1192.19,2178.28 L1193.30,2177.58 L1194.40,2176.89 L1195.50,2176.19 L1196.60,2175.50 L1197.70,2174.82 L1198.80,2174.14 L1199.91,2173.47 L1201.01,2172.80 L1202.11,2172.14 L1203.21,2171.48 L1204.31,2170.83 L1205.41,2170.19 L1206.52,2169.56 L1207.62,2168.93 L1208.72,2168.31 L1209.82,2167.70 L1210.92,2167.10 L1212.02,2166.51 L1213.12,2165.93 L1214.23,2165.35 L1215.33,2164.79 L1216.43,2164.24 L1217.53,2163.70 L1218.63,2163.17 L1219.73,2162.65 L1220.84,2162.15 L1221.94,2161.65 L1223.04,2161.17 L1224.14,2160.70 L1225.24,2160.24 L1226.34,2159.79 L1227.45,2159.35 L1228.55,2158.92 L1229.65,2158.51 L1230.75,2158.11 L1231.85,2157.72 L1232.95,2157.34 L1234.06,2156.97 L1235.16,2156.61 L1236.26,2156.26 L1237.36,2155.92 L1238.46,2155.59 L1239.56,2155.27 L1240.66,2154.96 L1241.77,2154.66 L1242.87,2154.37 L1243.97,2154.08 L1245.07,2153.81 L1246.17,2153.54 L1247.27,2153.28 L1248.38,2153.02 L1249.48,2152.77 L1250.58,2152.53 L1251.68,2152.30 L1252.78,2152.07 L1253.88,2151.84 L1254.99,2151.62 L1256.09,2151.40 L1257.19,2151.19 L1258.29,2150.99 L1259.39,2150.78 L1260.49,2150.58 L1261.60,2150.39 L1262.70,2150.19 L1263.80,2150.00 L1264.90,2149.82 L1266.00,2149.63 L1267.10,2149.45 L1268.21,2149.27 L1269.31,2149.10 L1270.41,2148.92 L1271.51,2148.75 L1272.61,2148.58 L1273.71,2148.41 L1274.81,2148.25 L1275.92,2148.08 L1277.02,2147.92 L1278.12,2147.76 L1279.22,2147.60 L1280.32,2147.44 L1281.42,2147.28 L1282.53,2147.13 L1283.63,2146.97 L1284.73,2146.82 L1285.83,2146.67 L1286.93,2146.52 L1288.03,2146.37 L1289.14,2146.23 L1290.24,2146.08 L1291.34,2145.94 L1292.44,2145.79 L1293.54,2145.65 L1294.64,2145.51 L1295.75,2145.37 L1296.85,2145.23 L1297.95,2145.09 L1299.05,2144.96 L1300.15,2144.82 L1301.25,2144.69 L1302.35,2144.55 L1303.46,2144.42 L1304.56,2144.29 L1305.66,2144.16 L1306.76,2144.03 L1307.86,2143.90 L1308.96,2143.78 L1310.07,2143.65 L1311.17,2143.53 L1312.27,2143.40 L1313.37,2143.28 L1314.47,2143.16 L1315.57,2143.04 L1316.68,2142.92 L1317.78,2142.80 L1318.88,2142.68 L1319.98,2142.56 L1321.08,2142.45 L1322.18,2142.33 L1323.29,2142.22 L1324.39,2142.10 L1325.49,2141.99 L1326.59,2141.88 L1327.69,2141.77 L1328.79,2141.66 L1329.89,2141.55 L1331.00,2141.44 L1332.10,2141.34 L1333.20,2141.23 L1334.30,2141.13 L1335.40,2141.02 L1336.50,2140.92 L1337.61,2140.82 L1338.71,2140.71 L1339.81,2140.61 L1340.91,2140.51 L1342.01,2140.41 L1343.11,2140.32 L1344.22,2140.22 L1345.32,2140.12 L1346.42,2140.02 L1347.52,2139.93 L1348.62,2139.83 L1349.72,2139.74 L1350.83,2139.65 L1351.93,2139.56 L1353.03,2139.46 L1354.13,2139.37 L1355.23,2139.28 L1356.33,2139.19 L1357.43,2139.11 L1358.54,2139.02 L1359.64,2138.93 L1360.74,2138.84 L1361.84,2138.76 L1362.94,2138.67 L1364.04,2138.59 L1365.15,2138.50 L1366.25,2138.42 L1367.35,2138.34 L1368.45,2138.26 L1369.55,2138.18 L1370.65,2138.10 L1371.76,2138.02 L1372.86,2137.94 L1373.96,2137.86 L1375.06,2137.78 L1376.16,2137.70 L1377.26,2137.63 L1378.37,2137.55 L1379.47,2137.48 L1380.57,2137.40 L1381.67,2137.33 L1382.77,2137.25 L1383.87,2137.18 L1384.97,2137.11 L1386.08,2137.04 L1387.18,2136.97 L1388.28,2136.89 L1389.38,2136.82 L1390.48,2136.75 L1391.58,2136.69 L1392.69,2136.62 L1393.79,2136.55 L1394.89,2136.48 L1395.99,2136.42 L1397.09,2136.35 L1398.19,2136.28 L1399.30,2136.22 L1400.40,2136.15 L1401.50,2136.09 L1402.60,2136.03 L1403.70,2135.96 L1404.80,2135.90 L1405.91,2135.84 L1407.01,2135.78 L1408.11,2135.72 L1409.21,2135.66 L1410.31,2135.60 L1411.41,2135.54 L1412.52,2135.48 L1413.62,2135.42 L1414.72,2135.36 L1415.82,2135.30 L1416.92,2135.25 L1418.02,2135.19 L1419.12,2135.13 L1420.23,2135.08 L1421.33,2135.02 L1422.43,2134.97 L1423.53,2134.91 L1424.63,2134.86 L1425.73,2134.81 L1426.84,2134.75 L1427.94,2134.70 L1429.04,2134.65 L1430.14,2134.60 L1431.24,2134.55 L1432.34,2134.49 L1433.45,2134.44 L1434.55,2134.39 L1435.65,2134.34 L1436.75,2134.29 L1437.85,2134.25 L1438.95,2134.20 L1440.06,2134.15 L1441.16,2134.10 L1442.26,2134.05 L1443.36,2134.01 L1444.46,2133.96 L1445.56,2133.91 L1446.66,2133.87 L1447.77,2133.82 L1448.87,2133.78 L1449.97,2133.73 L1451.07,2133.69 L1452.17,2133.64 L1453.27,2133.60 L1454.38,2133.56 L1455.48,2133.51 L1456.58,2133.47 L1457.68,2133.43 L1458.78,2133.39 L1459.88,2133.35 L1460.99,2133.30 L1462.09,2133.26 L1463.19,2133.22 L1464.29,2133.18 L1465.39,2133.14 L1466.49,2133.10 L1467.60,2133.06 L1468.70,2133.02 L1469.80,2132.99 L1470.90,2132.95" fill="none" stroke="#0000ff" stroke-width="5.2" stroke-dasharray="5.3,4.9" stroke-linecap="butt" stroke-linejoin="round" clip-path="url(#clipf)"/>
<text transform="translate(907.42,2380) scale(0.9978,1)" font-size="48.8">0</text>
<text transform="translate(1045.92,2380) scale(0.9196,1)" font-size="48.8">5</text>
<text transform="translate(1168.18,2380) scale(0.9610,1)" font-size="48.8">1</text>
<text transform="translate(1196.84,2380) scale(0.9978,1)" font-size="48.8">0</text>
<text transform="translate(1305.61,2380) scale(0.9610,1)" font-size="48.8">1</text>
<text transform="translate(1335.34,2380) scale(0.9196,1)" font-size="48.8">5</text>
<text transform="translate(1442.61,2380) scale(0.9596,1)" font-size="48.8">2</text>
<text transform="translate(1471.69,2380) scale(0.9978,1)" font-size="48.8">0</text>
<text transform="translate(869.34,2339.9) scale(0.9978,1)" font-size="48.8">0</text>
<text transform="translate(869.41,2202.43) scale(0.9596,1)" font-size="48.8">2</text>
<text transform="translate(869.88,2064.95) scale(0.9760,1)" font-size="48.8">4</text>
<text transform="translate(869.26,1927.48) scale(1.0208,1)" font-size="48.8">6</text>
<text transform="translate(869.8,1790) scale(0.9991,1)" font-size="48.8">8</text>
<text transform="translate(922.85,1769.8) scale(0.9610,1)" font-size="48.8">1</text>
<text transform="translate(951.01,1769.8) scale(1.0191,1)" font-size="48.8">e</text>
<text transform="translate(980.55,1769.8) scale(1.2075,1)" font-size="48.8">−</text>
<text transform="translate(1018.65,1769.8) scale(0.9760,1)" font-size="48.8">4</text>
<text transform="translate(1087.52,2429.4) scale(1.0050,1)" font-size="48.8">T</text>
<text transform="translate(1115.84,2429.4) scale(1.0084,1)" font-size="48.8">i</text>
<text transform="translate(1128.27,2429.4) scale(1.0733,1)" font-size="48.8">m</text>
<text transform="translate(1172.76,2429.4) scale(1.0191,1)" font-size="48.8">e</text>
<text transform="translate(1215.33,2429.4) scale(1.0084,1)" font-size="48.8">[</text>
<text transform="translate(1234.3,2429.4) scale(1.0004,1)" font-size="48.8">p</text>
<text transform="translate(1263.14,2429.4) scale(0.9173,1)" font-size="48.8">s</text>
<text transform="translate(1290.05,2429.4) scale(1.0084,1)" font-size="48.8">]</text>
<text transform="translate(852.7,2243.2) rotate(-90) translate(-3.48,0) scale(0.8914,1)" font-size="48.8">R</text>
<text transform="translate(852.7,2243.2) rotate(-90) translate(25.5,0) scale(1.0191,1)" font-size="48.8">e</text>
<text transform="translate(852.7,2243.2) rotate(-90) translate(54.35,0) scale(0.9720,1)" font-size="48.8">l</text>
<text transform="translate(852.7,2243.2) rotate(-90) translate(66.82,0) scale(0.9720,1)" font-size="48.8">.</text>
<text transform="translate(852.7,2243.2) rotate(-90) translate(95.52,0) scale(1.0435,1)" font-size="48.8">d</text>
<text transform="translate(852.7,2243.2) rotate(-90) translate(124.7,0) scale(0.9978,1)" font-size="48.8">o</text>
<text transform="translate(852.7,2243.2) rotate(-90) translate(153.34,0) scale(0.9173,1)" font-size="48.8">s</text>
<text transform="translate(852.7,2243.2) rotate(-90) translate(176.58,0) scale(1.0191,1)" font-size="48.8">e</text>
<text transform="translate(852.7,2243.2) rotate(-90) translate(219.45,0) scale(0.9720,1)" font-size="48.8">[</text>
<text transform="translate(852.7,2243.2) rotate(-90) translate(237.45,0) scale(0.9102,1)" font-size="48.8">G</text>
<text transform="translate(852.7,2243.2) rotate(-90) translate(273.81,0) scale(0.9955,1)" font-size="48.8">y</text>
<text transform="translate(852.7,2243.2) rotate(-90) translate(299.55,0) scale(1.1404,1)" font-size="48.8">/</text>
<text transform="translate(852.7,2243.2) rotate(-90) translate(316.19,0) scale(1.0004,1)" font-size="48.8">p</text>
<text transform="translate(852.7,2243.2) rotate(-90) translate(344.69,0) scale(0.8795,1)" font-size="48.8">C</text>
<text transform="translate(852.7,2243.2) rotate(-90) translate(380.26,0) scale(0.9720,1)" font-size="48.8">]</text>
<rect x="1200.8" y="1788.4" width="254.4" height="150.6" rx="5" ry="5" fill="#ffffff" fill-opacity="0.8" stroke="#dcdcdc" stroke-width="1.3"/>
<line x1="1213.1" y1="1814.9" x2="1277.5" y2="1814.9" stroke="#000" stroke-width="5.2" stroke-linecap="square"/>
<text transform="translate(1303.34,1826.9) scale(0.9185,1)" font-size="34.2">5</text>
<text transform="translate(1323,1826.9) scale(0.9966,1)" font-size="34.2">0</text>
<text transform="translate(1353.69,1826.9) scale(0.9380,1)" font-size="34.2">M</text>
<text transform="translate(1380.94,1826.9) scale(1.0178,1)" font-size="34.2">e</text>
<text transform="translate(1400.45,1826.9) scale(0.9669,1)" font-size="34.2">V</text>
<line x1="1212.9" y1="1861.7" x2="1277.2" y2="1861.7" stroke="#ff0000" stroke-width="5.2" stroke-dasharray="19.1,7.9"/>
<text transform="translate(1302.94,1873.7) scale(0.9598,1)" font-size="34.2">1</text>
<text transform="translate(1323.75,1873.7) scale(0.9185,1)" font-size="34.2">5</text>
<text transform="translate(1343.41,1873.7) scale(0.9966,1)" font-size="34.2">0</text>
<text transform="translate(1374.1,1873.7) scale(0.9380,1)" font-size="34.2">M</text>
<text transform="translate(1401.35,1873.7) scale(1.0178,1)" font-size="34.2">e</text>
<text transform="translate(1420.87,1873.7) scale(0.9669,1)" font-size="34.2">V</text>
<line x1="1212.9" y1="1908.5" x2="1277.2" y2="1908.5" stroke="#0000ff" stroke-width="5.2" stroke-dasharray="5.3,4.9"/>
<text transform="translate(1302.64,1920.5) scale(0.9584,1)" font-size="34.2">2</text>
<text transform="translate(1323.75,1920.5) scale(0.9185,1)" font-size="34.2">5</text>
<text transform="translate(1343.41,1920.5) scale(0.9966,1)" font-size="34.2">0</text>
<text transform="translate(1374.1,1920.5) scale(0.9380,1)" font-size="34.2">M</text>
<text transform="translate(1401.35,1920.5) scale(1.0178,1)" font-size="34.2">e</text>
<text transform="translate(1420.87,1920.5) scale(0.9669,1)" font-size="34.2">V</text>
<text transform="translate(1006.95,2527.1) scale(0.9381,1.097)" font-family="Liberation Serif" font-size="49.2" stroke="#fff" stroke-width="0.4">(</text>
<text transform="translate(1042.82,2527.1) scale(0.9381,1.097)" font-family="Liberation Serif" font-size="49.2" stroke="#fff" stroke-width="0.4">)</text>
<text transform="translate(1022.32,2526.1) scale(1.15,1)" font-family="Liberation Serif" font-size="49.2" stroke="#fff" stroke-width="0.5">f</text>
<text transform="translate(1080.41,2526.1) skewX(-5.0) scale(1.2084,1.05)" font-family="Liberation Serif" font-style="italic" font-size="49.2" stroke="#fff" stroke-width="0.3">Z</text>
<rect x="1135.1" y="2506.5" width="32.2" height="2.2" fill="#000"/>
<rect x="1135.1" y="2518.1" width="32.2" height="2.2" fill="#000"/>
<text transform="translate(1185.47,2526.1) scale(1.0274,1)" font-family="Liberation Serif" font-size="49.2" stroke="#fff" stroke-width="0.5">30</text>
<text transform="translate(1251.38,2526.1) scale(1.0267,1)" font-family="Liberation Serif" font-size="49.2" stroke="#fff" stroke-width="0.5">cm</text>
</svg>
</body></html>
